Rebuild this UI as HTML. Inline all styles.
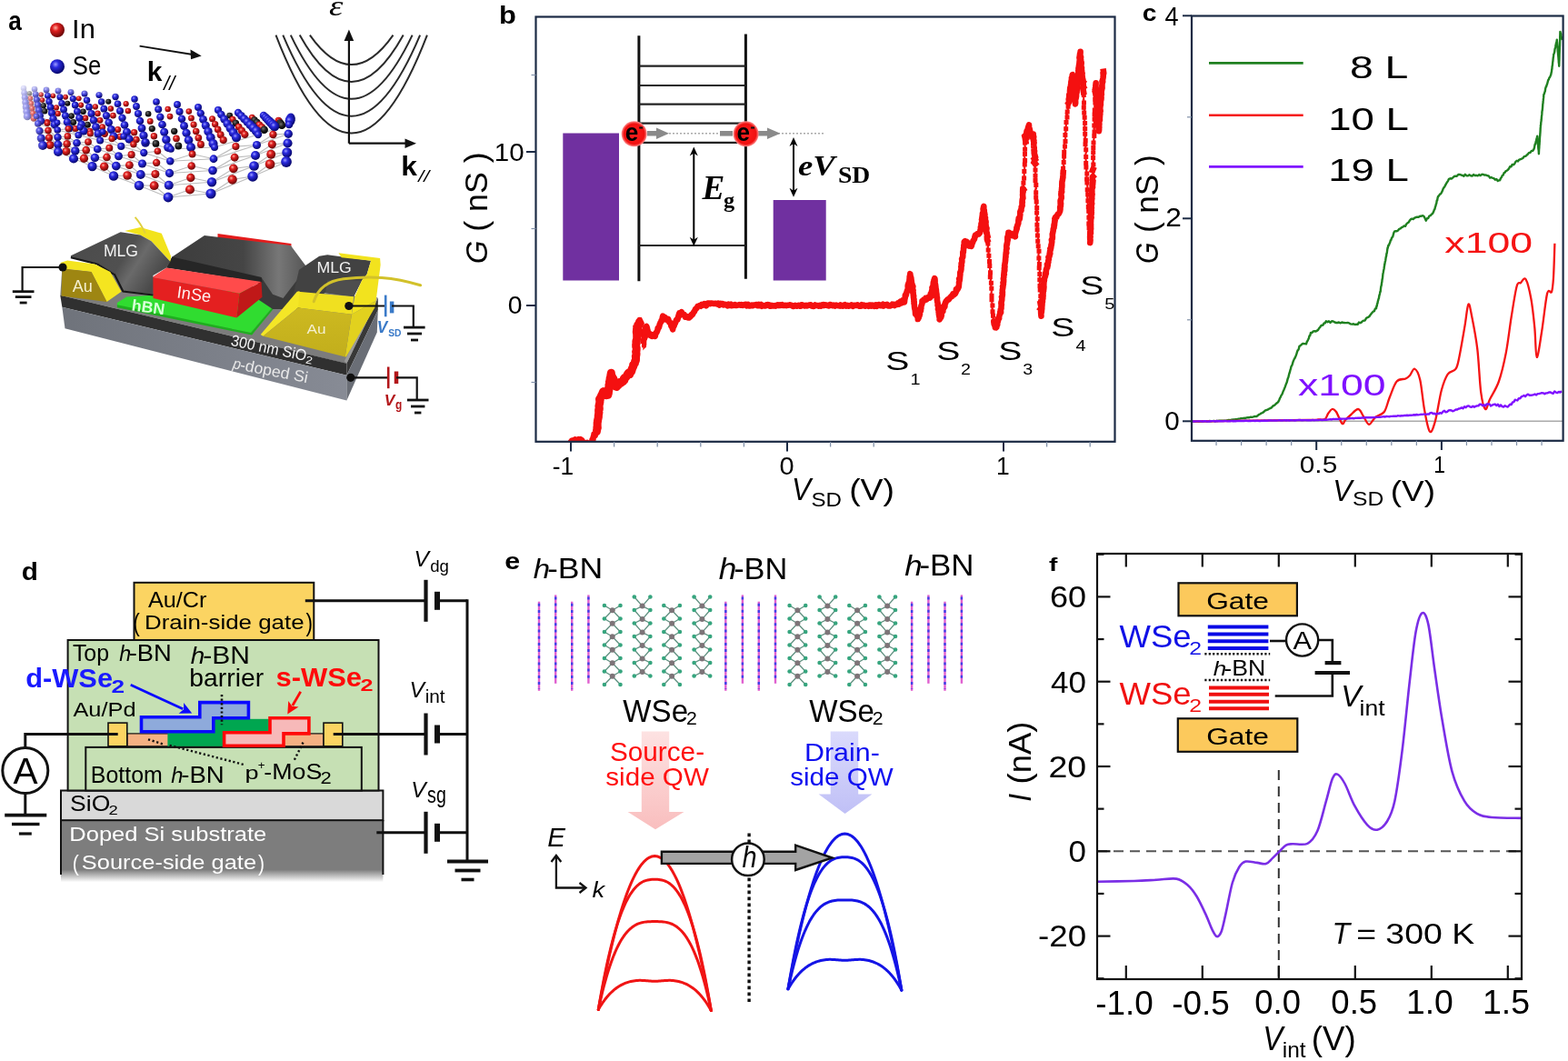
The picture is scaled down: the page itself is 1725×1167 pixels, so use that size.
<!DOCTYPE html>
<html><head><meta charset="utf-8"><title>Figure</title>
<style>html,body{margin:0;padding:0;background:#fff;}body{width:1725px;height:1167px;overflow:hidden;}svg{display:block;}</style>
</head><body>
<svg width="1725" height="1167" viewBox="0 0 1725 1167">
<rect width="1725" height="1167" fill="#fff"/>
<defs>
<radialGradient id="eg" cx="0.5" cy="0.5" r="0.5"><stop offset="0" stop-color="#ff2020"/><stop offset="0.8" stop-color="#f01010"/><stop offset="1" stop-color="#ff9090"/></radialGradient>
</defs>
<text transform="translate(548.99,25.70) scale(1.087,1)" font-family="'Liberation Sans',Arial,sans-serif" font-size="28.41" font-weight="bold" fill="#000" >b</text>
<clipPath id="cb"><rect x="590" y="19" width="636" height="466"/></clipPath>
<g clip-path="url(#cb)"><polyline points="625.79,490.13 626.70,489.21 627.70,486.50 628.01,487.71 629.01,484.80 630.40,484.41 631.52,484.43 632.61,483.45 633.86,485.60 635.02,485.22 636.39,483.19 637.71,484.77 638.59,483.09 640.29,484.42 641.43,486.26 642.67,487.01 643.67,487.28 644.96,488.31 646.05,487.04 646.21,488.65 647.62,490.56 648.10,491.40 648.61,490.46 649.08,489.86 649.87,489.61 650.55,488.49 651.29,487.47 651.54,483.79 652.09,484.99 652.52,482.61 652.77,480.33 653.27,480.22 653.53,477.49 654.68,479.07 654.77,477.30 655.73,474.15 656.34,474.81 656.93,471.37 656.86,470.10 657.07,469.69 657.34,470.38 657.17,469.16 657.15,465.13 657.51,463.73 657.32,463.59 657.79,461.57 657.47,462.44 657.82,461.44 658.42,458.43 658.20,457.59 658.48,456.55 658.55,455.36 658.97,453.79 658.68,453.20 658.64,450.71 659.34,450.14 659.12,447.38 659.12,447.86 658.92,446.73 659.53,443.83 659.64,443.82 659.80,442.25 659.93,442.18 659.50,438.91 660.14,440.39 660.38,437.70 661.24,436.13 661.64,434.94 662.23,434.62 662.76,432.80 663.72,430.58 664.60,433.43 665.43,432.61 666.86,433.38 667.41,434.69 668.86,434.41 668.72,433.87 669.30,432.96 669.48,430.92 669.23,431.13 669.83,429.30 669.47,427.08 669.88,426.06 670.27,426.78 669.93,423.87 670.60,423.73 670.76,421.61 670.38,420.22 671.08,418.92 670.89,418.13 671.11,416.88 671.68,414.89 671.11,416.02 671.97,414.92 671.78,413.58 672.34,410.17 672.65,413.18 673.03,413.39 673.18,414.02 673.58,414.37 674.32,416.19 674.95,416.64 675.47,419.75 675.94,421.52 676.37,421.73 676.11,423.40 676.69,423.23 677.53,425.07 678.29,425.54 679.40,422.97 680.07,423.75 681.20,422.74 682.06,420.20 683.16,421.28 683.83,420.43 685.38,419.70 686.26,416.52 686.90,418.18 687.24,415.50 688.21,415.35 689.14,414.28 690.22,411.96 690.44,411.43 691.30,410.34 692.78,411.79 692.87,409.82 693.85,408.35 694.68,408.44 695.30,406.46 695.41,405.23 695.78,404.78 696.68,403.13 696.60,401.40 697.26,401.55 698.02,399.75 698.46,399.35 698.59,397.47 699.07,397.34 699.44,396.18 699.51,393.63 699.62,393.77 699.29,391.76 699.62,391.91 700.07,389.19 700.08,389.24 699.62,387.05 699.55,386.89 700.02,385.91 700.17,384.04 700.17,382.52 699.71,381.39 699.67,378.85 700.33,377.35 699.83,376.30 700.50,375.34 699.86,376.12 699.98,374.92 700.47,373.69 700.74,371.71 700.66,368.88 700.68,369.10 700.68,366.68 700.75,367.95 700.24,364.92 700.69,365.22 700.47,362.07 700.52,362.17 700.97,360.30 700.71,359.10 700.74,357.96 700.57,357.00 701.93,355.49 702.40,353.48 703.00,354.02 703.64,352.05 703.71,353.61 704.27,353.31" fill="none" stroke="#f41010" stroke-width="6.6" stroke-linejoin="round" stroke-linecap="square"/><polyline points="704.27,353.31 703.86,356.29" fill="none" stroke="#f41010" stroke-width="2.2" /><path d="M701.8,350.8h5v5h-5z" fill="#f41010"/><polyline points="703.86,356.29 704.74,356.78" fill="none" stroke="#f41010" stroke-width="6.6" stroke-linejoin="round" stroke-linecap="square"/><polyline points="704.74,356.78 704.59,358.57 704.61,358.39 704.85,360.53 705.17,360.65 705.70,364.00 705.61,364.43 705.93,366.06 706.26,365.49 706.16,365.96 706.56,368.23 706.51,369.35 706.82,371.79 706.87,373.63 707.33,373.65 707.52,375.55 707.99,375.91 707.91,377.59 708.41,377.82 708.50,380.70 708.48,379.70 708.49,382.35 708.93,381.82 709.17,378.40 708.74,377.19 708.83,377.27 709.46,376.59 709.07,375.23 709.21,372.64 709.64,370.37" fill="none" stroke="#f41010" stroke-width="2.2" /><path d="M702.2,354.3h5v5h-5zM703.2,361.5h5v5h-5zM704.1,365.7h5v5h-5zM705.0,373.0h5v5h-5zM706.0,377.2h5v5h-5zM706.3,374.8h5v5h-5z" fill="#f41010"/><polyline points="709.64,370.37 709.22,371.35" fill="none" stroke="#f41010" stroke-width="6.6" stroke-linejoin="round" stroke-linecap="square"/><polyline points="709.22,371.35 709.48,368.66 709.80,368.35" fill="none" stroke="#f41010" stroke-width="2.2" /><path d="M706.7,368.9h5v5h-5z" fill="#f41010"/><polyline points="709.80,368.35 709.44,366.07" fill="none" stroke="#f41010" stroke-width="6.6" stroke-linejoin="round" stroke-linecap="square"/><polyline points="709.44,366.07 709.88,365.26" fill="none" stroke="#f41010" stroke-width="2.2" /><path d="M706.9,363.6h5v5h-5z" fill="#f41010"/><polyline points="709.88,365.26 709.79,364.30 710.48,362.46 710.25,360.38 710.13,360.76 710.09,360.16 711.30,358.97 711.91,360.98 712.35,363.31 712.55,364.24 713.41,365.81 713.68,366.83 714.81,367.76 715.05,367.26 715.60,369.16 717.10,369.91 718.30,368.20 719.69,369.32 720.64,369.87 721.51,366.46 722.21,365.40 722.22,366.03 722.91,364.42 723.43,363.02 723.65,361.06 723.94,361.57 724.97,359.94 725.44,358.28 725.55,357.24 726.51,355.10 726.70,354.61 727.40,353.82 727.53,352.85 728.18,352.85 728.52,351.96 728.81,349.12 729.28,347.54 730.90,350.04 731.51,349.09 732.77,351.41 734.17,352.09 735.07,350.94 735.54,352.19 736.27,354.43 736.64,354.59 737.73,355.04 738.37,358.74 739.11,358.32 739.42,360.04 740.11,362.33 740.69,359.21 741.38,358.68 741.71,358.32 741.78,357.36 742.85,355.44 743.28,354.26 743.56,353.38 743.98,352.20 745.01,350.95 745.49,351.40 746.29,347.84 746.76,348.22 746.71,346.34 747.40,344.41 748.19,345.88 748.56,344.61 749.82,343.17 750.92,345.34 751.94,346.45 752.76,346.10 753.78,348.63 754.79,347.91 755.67,348.82 756.12,348.26 757.06,349.50 757.93,349.44 759.16,348.60 759.74,347.99 760.44,346.48 761.61,345.34 761.94,345.88 763.18,343.32 763.70,342.86 764.68,340.99 765.00,339.99 766.43,338.84 766.97,338.04 767.57,337.01 768.89,336.58 769.76,335.97 771.05,336.69 772.13,334.85 773.62,335.58 774.99,334.08 775.92,334.69 776.94,336.25 778.40,333.50 779.92,333.57 781.36,334.15 782.27,333.48 784.07,333.74 785.43,333.94 786.78,333.77 787.47,333.83 789.15,334.61 790.01,333.77 791.51,335.47 792.67,333.86 793.46,334.14 794.80,334.17 795.94,335.40 797.85,334.71 799.15,335.33 800.24,336.25 801.55,334.67 802.24,335.72 803.96,334.79 804.63,336.18 805.69,335.36 807.07,335.90 808.74,335.00 809.79,336.02 811.07,335.70 812.34,335.37 813.13,335.14 814.62,335.61 815.42,335.06 816.98,335.86 818.17,335.48 819.19,335.07 820.57,334.85 821.57,336.18 822.94,335.00 823.79,336.36 825.31,336.43 826.70,335.67 827.92,336.20 828.67,335.55 829.66,335.62 831.58,335.10 832.48,335.11 833.30,336.09 834.64,335.01 835.78,336.09 837.34,334.96 838.27,336.68 839.47,335.96 840.84,336.36 842.20,336.38 843.36,335.31 844.29,335.12 846.02,335.18 846.59,336.72 847.94,336.60 849.06,335.83 850.38,336.50 851.91,336.16 853.24,336.58 854.12,336.11 855.41,335.23 856.93,336.10 858.13,335.41 859.12,335.88 860.49,335.19 861.39,335.93 862.38,336.06 864.13,335.83 865.27,336.17 866.13,335.71 867.97,335.69 868.73,335.25 869.77,335.40 871.56,336.41 872.74,336.88 873.75,336.78 874.91,335.85 876.46,336.73 877.68,335.97 878.76,335.83 880.15,336.76 880.81,336.78 881.94,335.27 883.59,335.63 884.65,336.25 885.49,336.44 886.89,335.88 888.17,336.44 889.71,335.62 890.41,335.64 891.88,335.24 892.89,336.47 894.55,336.86 895.99,336.68 896.73,335.39 897.90,335.93 899.29,336.08 900.38,336.63 901.54,335.93 903.24,336.55 903.98,335.54 905.61,335.12 906.29,336.06 907.83,335.40 908.66,335.47 910.46,335.94 911.85,336.51 913.07,335.16 913.65,335.12 915.07,335.71 915.98,336.08 917.24,335.66 918.58,336.54 919.93,335.57 920.85,335.87 922.53,336.32 923.97,336.56 924.65,335.34 926.27,336.52 927.28,336.60 928.53,335.60 929.43,335.13 931.02,336.71 932.45,335.94 933.47,336.77 934.80,336.18 935.69,336.03 936.71,335.43 938.33,336.89 939.43,335.83 940.49,335.92 942.06,335.91 943.40,335.38 944.09,336.04 945.38,336.63 946.93,336.78 947.97,335.16 949.15,336.09 950.29,335.60 951.68,336.74 952.41,336.30 953.84,336.03 955.47,336.83 956.48,335.45 957.91,335.43 958.69,336.59 959.85,335.59 961.58,336.77 962.30,335.75 963.50,335.25 964.70,336.75 965.78,335.37 967.10,335.07 968.59,336.24 970.06,336.01 971.27,334.85 972.06,336.54 973.12,335.27 974.67,335.24 975.95,334.81 976.92,336.42 978.07,336.30 979.32,336.43 980.94,335.78 981.74,334.68 983.46,334.87 984.23,336.01 986.00,334.59 987.18,334.89 987.83,333.54 988.95,334.55 989.97,331.99 990.98,331.41 992.26,333.19 993.15,330.45 994.95,332.29 995.34,328.87 995.19,329.83 995.65,327.92 995.87,324.71 996.25,325.73 996.95,324.02 997.05,322.77 997.39,321.59 998.06,319.43 998.22,320.46 998.78,317.04 999.09,317.77 998.68,314.79 998.93,312.90 999.78,312.71 999.91,310.57 999.45,311.59 1000.30,310.70 1000.43,308.04 1000.72,305.49 1000.76,305.29 1000.67,304.51 1001.04,302.97 1001.30,301.15 1001.52,303.21 1002.26,305.43 1002.40,306.33 1002.17,307.97 1002.40,306.61 1002.82,309.65 1002.93,310.60 1003.12,312.77 1003.49,312.52 1003.79,314.92 1004.39,315.09 1004.07,316.56 1003.88,317.19 1004.62,319.46 1004.10,320.90 1004.47,322.49 1004.57,321.40 1004.83,324.61 1004.85,325.77 1005.19,325.46 1004.97,327.10 1005.16,327.91 1005.48,330.63 1005.54,329.65 1005.36,331.53 1005.79,332.05 1005.47,333.80 1005.75,334.14 1006.07,338.02 1006.18,338.68 1006.52,340.19 1006.70,340.21 1006.63,340.45 1006.90,342.43 1007.07,345.20 1007.40,344.33 1008.32,346.78 1008.21,346.30 1008.91,347.47 1009.78,349.22 1009.82,351.07 1010.31,349.99 1010.70,349.46 1010.85,346.56 1011.58,347.13 1011.17,345.17 1012.00,345.60 1011.75,341.45 1012.38,341.47 1013.02,341.47 1012.87,339.04 1013.37,339.22 1013.36,336.53 1013.57,336.07 1013.82,335.74 1014.52,333.45 1014.47,331.21 1015.08,331.87 1016.21,329.52 1017.64,330.01 1018.35,327.99 1019.24,329.45 1020.18,327.71 1021.65,326.54 1022.84,327.57 1023.99,326.41 1023.74,323.20 1024.21,322.77 1024.30,323.27 1024.60,321.94 1025.46,318.65 1025.72,318.30 1025.44,316.49 1025.58,316.25 1026.14,316.12 1026.78,312.56 1026.71,312.37 1026.82,310.78 1027.17,310.93 1027.51,308.00 1027.70,307.81 1028.25,306.04 1028.51,307.17 1028.63,309.57 1028.38,311.22 1028.70,311.80 1029.02,313.29 1029.04,312.79 1029.46,316.43 1029.37,316.81 1029.34,318.99 1029.82,318.18 1030.08,321.69 1029.85,322.94 1030.10,321.71 1030.44,323.41 1030.60,325.37 1030.24,326.42 1030.99,327.49 1030.88,329.87 1030.96,329.98 1031.23,332.16 1031.10,331.16 1031.71,333.72 1031.51,335.93 1032.14,336.07 1032.39,338.14 1032.37,337.70 1031.94,340.05 1032.69,340.25 1032.65,342.09 1032.63,343.67 1033.05,343.92 1032.85,345.62 1033.19,347.32 1033.24,347.52 1033.42,348.75 1033.89,349.03 1033.64,351.35 1034.14,350.27 1034.49,347.91 1035.16,349.24 1035.81,346.87 1035.81,344.38 1036.09,343.98 1037.00,342.24 1037.38,342.17 1037.35,340.39 1038.15,339.01 1038.21,338.84 1038.29,336.84 1039.30,337.39 1039.48,336.59 1039.35,334.84 1040.24,332.26 1040.39,333.37 1040.66,331.59 1041.49,330.55 1042.53,329.32 1043.56,329.64 1044.82,327.79 1045.73,326.81 1046.78,325.54 1047.52,325.77 1048.35,323.40 1049.14,324.42 1049.82,323.70 1050.70,323.21 1051.63,321.46 1051.90,318.33 1052.70,319.36 1053.64,316.66 1053.68,317.92 1054.79,315.35 1054.95,313.14 1054.96,313.49 1055.17,310.75 1054.96,310.94 1055.72,308.27 1055.18,306.89 1055.96,306.61 1055.86,307.21 1056.15,303.80 1056.38,301.81 1056.21,302.69 1056.28,299.48 1056.72,299.16 1057.24,297.27 1057.27,296.92 1057.43,295.88 1057.49,294.32 1057.29,293.49 1057.92,291.95 1057.62,290.96 1057.68,289.45 1058.22,288.90 1058.40,286.89 1058.11,284.87 1058.52,284.14 1058.86,283.11 1059.18,282.88 1059.26,282.04 1059.31,279.87 1059.30,277.55 1059.85,277.62 1059.46,277.66 1060.01,275.51 1060.06,272.78 1060.67,271.67 1060.32,272.93 1060.29,270.19 1060.74,268.20 1061.25,267.46 1060.69,266.40 1060.84,265.86 1061.70,265.22 1061.90,265.38 1062.97,265.62 1063.83,265.97 1064.56,267.78 1065.38,269.64 1066.21,270.49 1067.19,268.70 1068.50,270.89 1069.03,269.63 1069.42,267.15 1069.97,267.24 1070.71,264.52 1070.50,265.33 1071.70,263.37 1072.04,262.58 1072.29,261.10 1072.97,258.59 1073.24,259.51 1074.25,258.04 1075.29,257.01 1076.64,257.49 1077.93,256.01 1078.36,254.91 1078.39,253.43 1078.96,253.35 1078.84,250.87 1078.87,249.67 1079.34,248.71 1079.79,248.45 1079.51,246.85 1079.41,246.57 1080.13,244.27 1080.26,242.80 1080.00,241.48 1080.13,241.42 1080.64,240.60 1080.35,239.52 1080.80,237.17 1080.97,236.14 1080.87,234.83 1081.38,234.60 1081.74,231.85 1081.87,232.47 1081.87,231.82 1081.56,230.02 1082.32,226.87 1082.24,230.56 1082.16,231.51 1082.81,231.48 1082.36,232.04 1083.07,233.89 1082.82,235.17 1083.48,235.83 1082.91,239.14 1083.31,238.67 1084.00,239.58 1083.45,242.63 1083.74,241.85 1084.45,243.10 1084.59,244.63 1084.27,245.50 1084.62,247.76 1084.67,248.83 1084.75,251.04 1085.42,252.01 1085.49,251.19 1085.20,252.81 1085.23,256.32 1085.94,257.37 1085.78,256.20 1085.78,257.23 1086.27,259.08" fill="none" stroke="#f41010" stroke-width="6.6" stroke-linejoin="round" stroke-linecap="square"/><polyline points="1086.27,259.08 1085.89,262.33" fill="none" stroke="#f41010" stroke-width="2.2" /><path d="M1083.8,256.6h5v5h-5z" fill="#f41010"/><polyline points="1085.89,262.33 1085.93,263.48 1086.13,263.92" fill="none" stroke="#f41010" stroke-width="6.6" stroke-linejoin="round" stroke-linecap="square"/><polyline points="1086.13,263.92 1086.07,265.84 1086.42,265.40 1086.73,267.36 1086.52,267.17 1086.89,268.08 1087.23,270.26 1086.78,271.43 1086.85,272.61 1087.30,274.09 1087.24,274.96 1087.47,277.64 1087.54,278.83 1087.69,278.10 1087.55,281.50 1087.91,281.32 1088.04,283.93 1088.04,283.69 1088.14,283.85 1088.40,286.47 1088.47,287.61 1088.56,289.61 1088.44,291.63 1088.49,292.50 1088.61,293.50 1088.75,292.56 1089.05,296.06 1089.37,297.39 1089.55,296.13 1089.14,297.51 1089.51,299.76 1089.58,302.00 1089.86,302.86 1089.83,303.69 1089.27,305.93 1089.35,304.73 1090.01,306.53 1089.95,306.99 1089.66,310.27 1089.60,310.87 1090.39,311.19 1090.28,313.99 1090.28,315.28 1090.42,314.23 1090.08,317.02 1090.78,317.27 1090.55,318.22 1090.83,320.39 1090.64,322.27 1090.41,323.67 1091.01,325.27 1090.67,324.61 1090.65,327.82 1090.94,327.51 1091.08,329.65 1090.99,329.78 1091.42,332.31 1091.12,331.42 1091.69,334.60 1091.50,334.84 1091.86,336.13 1091.34,336.36 1091.52,339.07 1091.61,341.32 1091.91,341.07 1091.99,342.72 1092.03,343.61 1092.03,344.82 1092.35,345.13 1092.38,346.67 1092.51,347.20 1092.29,349.53 1092.81,350.01 1092.79,351.00 1093.37,353.53" fill="none" stroke="#f41010" stroke-width="2.2" /><path d="M1083.6,261.4h5v5h-5zM1084.4,265.6h5v5h-5zM1084.7,272.5h5v5h-5zM1085.4,278.8h5v5h-5zM1086.0,285.1h5v5h-5zM1086.3,290.1h5v5h-5zM1087.0,297.3h5v5h-5zM1086.8,302.2h5v5h-5zM1087.9,308.7h5v5h-5zM1088.3,314.8h5v5h-5zM1088.5,322.8h5v5h-5zM1088.5,327.3h5v5h-5zM1089.4,333.6h5v5h-5zM1089.5,340.2h5v5h-5zM1090.0,344.7h5v5h-5z" fill="#f41010"/><polyline points="1093.37,353.53 1093.26,353.53 1093.76,357.07 1094.30,357.10 1094.51,358.58 1095.27,359.81 1094.96,360.32 1095.69,360.33 1096.25,359.98 1096.17,359.71 1096.72,358.15 1097.26,357.03 1097.17,354.49 1097.65,354.20 1097.96,352.97 1097.86,350.86 1098.30,349.85 1099.17,350.13 1099.00,349.34 1099.63,346.21 1100.04,345.53 1100.56,344.09 1100.31,343.23 1101.09,343.76 1100.97,340.53 1100.96,340.98 1100.77,340.42 1101.51,339.24 1101.50,337.08 1101.83,334.81 1101.40,333.17 1101.41,333.98 1101.45,332.60 1101.80,331.79 1102.20,330.00 1102.38,326.85 1102.02,326.62 1102.26,326.31 1102.73,325.30 1102.88,323.95 1102.53,322.18 1102.95,321.88 1102.75,319.29 1103.06,317.69 1103.38,315.79 1103.30,316.04 1103.05,315.08 1103.38,315.04 1103.82,312.70 1103.91,312.37 1103.46,310.99 1104.10,310.26 1104.15,307.25 1103.82,306.82 1103.93,305.92 1104.33,304.91 1104.26,302.13 1104.81,301.99 1104.49,300.47 1104.65,299.50 1104.82,297.22 1105.30,297.80 1105.23,294.77 1104.89,294.91 1105.50,293.46 1105.12,292.45 1105.48,290.19 1105.64,289.20 1105.79,288.90 1106.17,285.76 1105.95,287.05 1106.13,284.74 1106.42,281.88 1106.52,282.44 1106.49,280.29 1106.66,278.53 1106.73,277.71 1107.20,278.14 1106.97,276.78 1107.04,274.87 1107.00,274.66 1107.63,273.16 1107.22,272.12 1107.31,270.15 1107.83,267.42 1107.92,268.69 1108.22,265.76 1108.52,264.67 1108.73,263.59 1108.21,264.09 1108.35,260.72 1109.05,259.10 1109.01,260.11 1109.19,257.37 1109.46,257.59 1109.46,255.78 1110.24,255.85 1111.76,258.27 1111.96,256.67 1113.12,259.19 1114.09,258.05 1115.53,258.78 1116.68,260.37 1116.92,260.25 1116.67,258.95 1117.13,256.05 1117.14,256.29 1117.85,253.88 1118.37,252.36 1118.36,250.82 1118.58,252.01 1119.00,248.61 1119.09,248.87 1119.42,248.40 1119.55,247.14 1120.30,245.79 1120.38,242.33 1120.54,242.79 1120.72,240.04 1121.63,241.13 1121.93,239.78 1121.93,238.67 1122.29,236.49 1122.31,233.66 1122.29,233.11 1122.83,231.49 1123.48,231.63 1123.54,231.35 1123.37,230.10 1124.20,227.02 1123.77,227.39 1124.63,226.15 1124.48,224.34 1124.49,222.00 1124.81,222.30 1124.62,221.62 1124.64,220.51 1124.88,218.83 1125.41,218.00 1125.21,216.00 1125.14,215.17 1125.06,214.10 1125.52,210.40" fill="none" stroke="#f41010" stroke-width="6.6" stroke-linejoin="round" stroke-linecap="square"/><polyline points="1125.52,210.40 1125.87,209.93 1125.25,208.53" fill="none" stroke="#f41010" stroke-width="2.2" /><path d="M1123.0,207.9h5v5h-5z" fill="#f41010"/><polyline points="1125.25,208.53 1125.29,207.36 1125.90,208.25" fill="none" stroke="#f41010" stroke-width="6.6" stroke-linejoin="round" stroke-linecap="square"/><polyline points="1125.90,208.25 1125.91,206.61 1126.14,204.96 1125.86,202.34 1125.75,202.00 1125.86,201.34 1126.02,199.63 1126.28,198.54 1126.04,196.20 1126.53,194.84 1126.59,195.86 1126.44,194.62 1126.69,193.33 1126.67,191.55 1126.84,188.67 1126.75,188.63 1126.75,187.66 1127.16,186.86 1127.13,183.70 1127.08,183.94 1127.32,180.86 1126.75,182.58 1126.96,180.56 1127.18,178.43 1127.10,177.72 1127.59,176.43 1127.48,174.53 1127.46,174.23 1127.53,173.85 1127.04,172.91 1127.52,169.58 1127.44,167.89 1127.30,168.91 1127.73,167.79 1127.34,164.31 1127.56,164.26 1127.87,162.47 1127.94,162.12 1127.63,161.52 1127.50,159.73 1127.64,156.88 1127.92,157.10 1128.07,155.46 1128.37,155.48" fill="none" stroke="#f41010" stroke-width="2.2" /><path d="M1123.4,205.7h5v5h-5zM1123.4,198.8h5v5h-5zM1124.1,193.4h5v5h-5zM1124.3,186.1h5v5h-5zM1124.8,178.4h5v5h-5zM1125.1,173.9h5v5h-5zM1125.0,167.1h5v5h-5zM1125.1,161.8h5v5h-5zM1125.1,154.4h5v5h-5z" fill="#f41010"/><polyline points="1128.37,155.48 1127.79,151.94" fill="none" stroke="#f41010" stroke-width="6.6" stroke-linejoin="round" stroke-linecap="square"/><polyline points="1127.79,151.94 1128.48,151.95" fill="none" stroke="#f41010" stroke-width="2.2" /><path d="M1125.3,149.4h5v5h-5z" fill="#f41010"/><polyline points="1128.48,151.95 1127.85,150.05" fill="none" stroke="#f41010" stroke-width="6.6" stroke-linejoin="round" stroke-linecap="square"/><polyline points="1127.85,150.05 1128.37,148.84" fill="none" stroke="#f41010" stroke-width="2.2" /><path d="M1125.3,147.5h5v5h-5z" fill="#f41010"/><polyline points="1128.37,148.84 1128.15,149.14" fill="none" stroke="#f41010" stroke-width="6.6" stroke-linejoin="round" stroke-linecap="square"/><polyline points="1128.15,149.14 1128.18,147.86 1129.14,147.05" fill="none" stroke="#f41010" stroke-width="2.2" /><path d="M1125.7,146.6h5v5h-5z" fill="#f41010"/><polyline points="1129.14,147.05 1129.37,145.32 1129.60,144.14 1130.36,142.75 1130.72,142.01 1130.98,140.67 1132.08,137.41 1131.76,141.50 1131.88,142.24 1132.53,141.24 1132.83,142.30 1133.26,144.43 1133.57,147.46 1133.20,147.22 1133.47,149.53 1133.68,148.72 1134.63,150.21 1135.66,147.74 1136.76,147.56 1136.80,149.98 1136.81,149.80 1137.29,150.34 1136.81,153.35 1136.99,154.76 1137.47,154.43 1137.14,154.86 1137.64,157.12 1137.29,157.55 1137.26,160.88 1137.25,161.16 1137.72,162.29 1137.69,163.16 1137.51,165.67 1138.14,166.13 1137.69,168.41 1137.72,167.42 1138.12,170.64 1138.15,169.71 1138.54,171.09" fill="none" stroke="#f41010" stroke-width="6.6" stroke-linejoin="round" stroke-linecap="square"/><polyline points="1138.54,171.09 1138.10,174.82" fill="none" stroke="#f41010" stroke-width="2.2" /><path d="M1136.0,168.6h5v5h-5z" fill="#f41010"/><polyline points="1138.10,174.82 1138.53,175.36" fill="none" stroke="#f41010" stroke-width="6.6" stroke-linejoin="round" stroke-linecap="square"/><polyline points="1138.53,175.36 1138.02,176.88" fill="none" stroke="#f41010" stroke-width="2.2" /><path d="M1136.0,172.9h5v5h-5z" fill="#f41010"/><polyline points="1138.02,176.88 1138.35,175.60" fill="none" stroke="#f41010" stroke-width="6.6" stroke-linejoin="round" stroke-linecap="square"/><polyline points="1138.35,175.60 1138.73,179.59 1138.18,179.36" fill="none" stroke="#f41010" stroke-width="2.2" /><path d="M1135.9,173.1h5v5h-5z" fill="#f41010"/><polyline points="1138.18,179.36 1138.91,180.20" fill="none" stroke="#f41010" stroke-width="6.6" stroke-linejoin="round" stroke-linecap="square"/><polyline points="1138.91,180.20 1138.48,182.74 1138.63,184.59 1139.01,185.38 1138.94,184.58 1138.96,186.94 1138.85,188.10 1138.75,188.19 1139.28,189.90 1138.68,192.93 1139.05,193.23 1138.96,192.85 1139.00,196.10 1138.99,197.54 1139.06,198.69 1139.01,198.53 1139.01,198.85 1139.37,200.70 1139.43,201.45 1139.29,202.97 1139.81,203.44 1139.47,206.96 1139.64,206.37 1140.02,207.13 1139.38,208.05 1139.67,211.78 1139.59,211.26 1140.04,211.83 1139.46,214.79 1139.57,215.58 1139.66,217.01 1140.27,217.76 1139.85,219.47 1140.24,218.97 1139.91,221.13 1140.17,222.02 1140.34,223.17 1140.58,224.66 1140.08,225.04 1140.06,226.66 1140.72,228.48 1140.42,231.33 1140.89,231.96 1140.37,231.86 1140.63,232.87 1140.56,233.95 1140.53,236.78 1140.88,237.08 1140.83,238.80 1141.05,238.25 1141.23,240.78 1140.89,243.49 1141.27,242.88 1140.74,244.35 1141.13,245.38 1140.91,247.20 1141.09,248.98 1141.36,248.78 1141.66,250.47 1141.12,251.18 1141.15,252.84 1141.89,255.59 1141.74,254.45 1141.46,255.81 1141.62,258.33 1141.40,259.10 1141.78,260.84 1142.15,261.26 1142.03,262.10 1141.96,264.41 1141.70,265.26 1142.11,265.48 1141.96,268.62 1142.10,267.94 1142.10,270.14 1142.25,270.85 1142.24,271.66 1142.44,274.03 1142.16,275.22 1142.39,277.60 1142.95,276.27 1142.82,278.13 1142.40,280.94 1143.09,281.89 1142.93,283.68 1142.92,283.99 1143.05,285.75 1143.27,285.30 1142.81,287.24 1143.17,287.88 1143.44,290.58 1143.36,290.86 1143.42,291.06 1143.56,292.07 1143.69,294.78 1143.25,294.69 1143.56,296.73 1143.69,296.85 1143.89,299.05 1143.60,301.20 1143.79,301.53 1143.58,302.80 1143.42,303.38 1144.10,304.18 1143.55,307.57 1143.83,307.82 1144.05,309.59 1143.88,310.95 1143.67,312.39 1143.96,312.92 1144.00,314.50 1144.11,315.27 1144.11,317.16 1144.52,316.47 1144.55,319.90 1144.18,318.85 1144.78,322.38 1144.18,323.02 1144.87,322.69 1144.80,323.99 1144.85,325.83 1144.64,325.89 1144.83,328.82 1144.59,328.06 1144.48,329.91 1145.25,332.57" fill="none" stroke="#f41010" stroke-width="2.2" /><path d="M1136.4,177.7h5v5h-5zM1136.5,184.4h5v5h-5zM1136.5,190.7h5v5h-5zM1136.5,196.0h5v5h-5zM1137.3,200.9h5v5h-5zM1137.2,209.3h5v5h-5zM1137.2,214.5h5v5h-5zM1137.7,219.5h5v5h-5zM1138.2,226.0h5v5h-5zM1138.1,231.5h5v5h-5zM1138.7,238.3h5v5h-5zM1138.4,244.7h5v5h-5zM1138.6,250.3h5v5h-5zM1138.9,256.6h5v5h-5zM1139.2,262.8h5v5h-5zM1139.7,268.3h5v5h-5zM1140.5,273.8h5v5h-5zM1140.4,281.5h5v5h-5zM1140.9,288.1h5v5h-5zM1140.7,292.2h5v5h-5zM1141.3,299.0h5v5h-5zM1141.3,305.3h5v5h-5zM1141.5,312.0h5v5h-5zM1141.7,316.4h5v5h-5zM1142.3,323.3h5v5h-5zM1142.7,330.1h5v5h-5z" fill="#f41010"/><polyline points="1145.25,332.57 1145.21,333.79 1144.65,333.90" fill="none" stroke="#f41010" stroke-width="6.6" stroke-linejoin="round" stroke-linecap="square"/><polyline points="1144.65,333.90 1145.35,336.51" fill="none" stroke="#f41010" stroke-width="2.2" /><path d="M1142.1,331.4h5v5h-5z" fill="#f41010"/><polyline points="1145.35,336.51 1145.43,337.62 1145.25,338.65 1145.46,338.86 1144.80,339.71" fill="none" stroke="#f41010" stroke-width="6.6" stroke-linejoin="round" stroke-linecap="square"/><polyline points="1144.80,339.71 1144.83,340.80 1145.33,342.01" fill="none" stroke="#f41010" stroke-width="2.2" /><path d="M1142.3,337.2h5v5h-5z" fill="#f41010"/><polyline points="1145.33,342.01 1145.11,342.67 1145.24,345.14 1145.47,347.63 1145.17,344.35 1145.28,345.15 1145.83,343.11 1146.09,339.93 1146.27,339.70 1146.16,338.70 1146.36,337.17 1146.10,335.79 1146.57,335.19 1146.22,333.67 1146.66,332.50 1146.79,332.70 1146.94,331.35 1146.78,330.34 1147.40,328.10 1146.77,325.55 1147.47,326.67 1147.55,324.38 1147.52,321.98 1147.67,323.41 1147.47,321.02 1148.09,319.92 1147.80,317.47 1148.22,318.32 1148.44,315.52 1148.45,315.53 1148.26,314.14 1148.38,311.26 1148.18,311.61 1148.89,308.35 1148.45,307.96 1148.80,308.02 1149.03,306.40 1149.55,304.51 1150.04,303.59 1150.00,303.10 1150.15,300.48 1150.83,301.00 1150.74,299.05 1151.04,297.27 1150.84,296.84 1151.74,294.32 1152.04,293.97 1152.29,293.98 1151.95,291.13 1152.68,292.25 1152.85,289.88 1152.88,289.30 1153.34,288.28 1153.15,287.07 1153.92,285.14 1153.40,282.80 1154.16,282.33 1154.61,281.80 1154.67,279.15 1154.77,279.65 1155.32,279.04 1155.04,276.66 1155.85,274.25 1155.36,273.34 1156.07,272.55 1156.23,272.83 1156.49,269.24 1156.58,270.29 1156.77,269.27 1157.05,267.29 1157.27,265.86 1156.84,263.86 1157.69,262.78 1157.50,263.17 1157.85,261.70 1157.86,259.62 1157.73,257.47 1157.98,257.26 1158.45,254.64 1158.72,253.50 1158.71,252.05 1158.96,251.18 1159.51,250.61 1159.61,249.63 1159.39,249.59 1159.53,247.40 1160.00,247.61 1160.23,243.55 1160.22,245.03 1160.72,242.06 1160.32,240.53 1161.01,239.04 1161.86,238.31 1162.44,238.61 1162.82,237.10 1163.87,235.36 1164.54,235.45 1165.62,233.44 1165.74,233.12 1166.18,231.85 1166.53,229.79 1166.31,229.39 1166.16,228.13 1166.46,226.68 1166.82,227.31 1167.08,223.79 1166.70,224.78 1166.57,220.99 1166.65,222.39 1167.10,219.60 1166.88,219.75 1167.69,217.95 1167.73,216.38 1167.35,214.01 1167.44,212.71 1167.59,211.19 1167.43,212.53 1168.18,211.08 1167.88,208.78 1168.13,208.58 1168.04,206.54 1168.34,206.32 1168.28,202.60 1168.42,204.03 1168.34,202.05 1168.41,199.78 1168.90,198.06 1168.86,198.30 1168.91,197.60 1169.38,194.96 1169.41,195.18 1169.38,193.48 1169.45,192.72 1169.63,190.09" fill="none" stroke="#f41010" stroke-width="6.6" stroke-linejoin="round" stroke-linecap="square"/><polyline points="1169.63,190.09 1169.67,190.19 1169.60,189.53 1169.55,187.27 1169.83,186.21 1169.60,185.18 1169.62,183.56 1169.97,182.83 1170.37,182.47 1169.94,181.03 1170.21,178.59 1169.94,178.44 1170.17,175.47 1170.30,174.12 1170.36,173.06 1170.64,172.06 1170.89,172.56 1171.11,169.67 1170.98,169.52 1171.09,167.30 1170.74,167.15 1171.19,164.71 1171.27,162.64 1171.44,163.92 1171.67,160.34 1171.52,161.13 1171.15,159.39 1171.27,156.99 1171.21,155.96 1171.95,155.66 1171.98,155.59 1171.54,154.00 1172.21,152.19 1171.84,149.55 1172.00,148.92 1171.93,148.60 1172.30,146.14 1172.01,145.64 1172.52,144.92 1172.53,144.39 1172.70,141.81 1172.77,141.25 1172.52,138.54 1172.63,138.97 1173.00,136.51 1172.97,134.59 1173.16,134.48 1173.43,134.49 1173.00,133.57 1173.24,132.33 1174.03,128.87 1173.61,127.41 1174.25,128.01 1174.43,126.93 1174.09,125.60 1174.22,123.04 1174.42,122.92 1174.47,121.26 1174.81,120.74 1174.88,118.38 1175.08,117.27 1175.37,114.98 1175.06,113.54 1175.39,114.74 1175.68,112.87" fill="none" stroke="#f41010" stroke-width="2.2" /><path d="M1167.1,187.6h5v5h-5zM1167.1,182.7h5v5h-5zM1167.7,176.1h5v5h-5zM1168.1,169.6h5v5h-5zM1168.2,164.7h5v5h-5zM1169.0,158.6h5v5h-5zM1169.5,153.1h5v5h-5zM1169.4,146.1h5v5h-5zM1170.2,139.3h5v5h-5zM1170.5,132.1h5v5h-5zM1171.5,126.4h5v5h-5zM1171.7,120.5h5v5h-5zM1172.6,114.8h5v5h-5z" fill="#f41010"/><polyline points="1175.68,112.87 1176.09,112.19 1175.71,109.16 1176.05,107.95 1176.24,106.27 1176.21,106.97 1176.27,104.05 1176.84,102.98 1177.13,103.04 1177.29,101.60 1177.14,99.57 1176.97,100.46 1177.27,96.64 1178.01,96.81 1177.89,96.76 1178.19,93.58 1178.00,93.57 1178.48,91.08 1178.31,90.73 1178.33,90.41 1178.98,87.25 1179.08,87.38 1178.86,85.69 1179.59,84.56 1179.71,82.70 1180.10,82.80 1179.88,82.07 1179.86,83.27 1180.06,85.03 1180.04,86.65 1180.10,87.81 1180.52,88.59 1180.70,92.27 1180.96,93.52 1180.61,93.87 1180.85,95.92 1181.19,96.52 1181.55,95.98 1181.15,99.25 1181.86,99.35 1181.36,99.35 1182.12,102.60 1181.91,103.78 1182.39,103.00 1182.48,107.14 1182.72,108.09 1182.51,108.49 1182.38,110.28 1182.96,110.35 1182.60,110.91 1183.02,114.36 1183.20,112.97 1183.09,109.91 1183.25,108.79 1183.82,107.81 1183.56,107.52 1183.79,106.89 1184.11,105.52 1184.01,102.98 1184.15,103.54 1184.67,101.05 1184.43,98.34 1184.84,98.73 1184.61,96.18 1184.78,96.58 1184.74,94.02 1185.05,93.49 1184.77,90.96 1185.19,91.68 1185.31,88.37 1185.32,87.69 1185.86,86.56 1186.16,85.52 1185.64,83.48 1186.01,83.75 1186.36,82.98 1186.29,79.91 1186.72,79.27 1186.29,77.82 1186.67,78.03 1186.55,75.60 1186.41,75.38 1187.07,72.73 1186.79,73.39 1187.27,70.31 1187.59,70.82 1187.47,68.40 1187.77,67.53 1187.61,67.91 1187.87,64.26 1187.40,63.13 1187.50,63.92 1187.93,61.46 1187.90,60.29 1188.05,59.74 1188.13,58.93 1188.58,57.70 1188.61,56.85 1188.45,60.08 1188.50,60.51 1188.49,62.50 1188.70,62.34 1189.19,62.75 1188.65,64.99 1189.11,65.29 1189.17,68.49 1189.67,70.18 1189.70,68.87 1189.47,71.22 1189.30,73.45 1189.61,74.68 1190.03,74.37 1189.87,76.15 1189.86,76.07 1190.15,77.95 1190.12,80.85 1190.62,80.96 1190.15,83.25 1190.45,82.49 1190.95,86.14 1190.65,86.29 1191.27,87.44 1190.94,87.58 1190.79,91.02 1191.52,90.12" fill="none" stroke="#f41010" stroke-width="6.6" stroke-linejoin="round" stroke-linecap="square"/><polyline points="1191.52,90.12 1191.50,91.38" fill="none" stroke="#f41010" stroke-width="2.2" /><path d="M1189.0,87.6h5v5h-5z" fill="#f41010"/><polyline points="1191.50,91.38 1191.69,93.17" fill="none" stroke="#f41010" stroke-width="6.6" stroke-linejoin="round" stroke-linecap="square"/><polyline points="1191.69,93.17 1191.75,94.87 1191.37,96.21" fill="none" stroke="#f41010" stroke-width="2.2" /><path d="M1189.2,90.7h5v5h-5z" fill="#f41010"/><polyline points="1191.37,96.21 1191.87,95.85" fill="none" stroke="#f41010" stroke-width="6.6" stroke-linejoin="round" stroke-linecap="square"/><polyline points="1191.87,95.85 1191.42,97.73" fill="none" stroke="#f41010" stroke-width="2.2" /><path d="M1189.4,93.3h5v5h-5z" fill="#f41010"/><polyline points="1191.42,97.73 1192.02,101.06" fill="none" stroke="#f41010" stroke-width="6.6" stroke-linejoin="round" stroke-linecap="square"/><polyline points="1192.02,101.06 1191.85,101.92 1192.10,101.37 1191.94,104.29 1192.02,104.49 1192.25,104.62 1192.09,106.95 1192.22,108.68 1192.03,109.23 1192.23,109.33 1192.54,113.11 1192.41,112.67 1192.30,114.01 1192.35,114.67 1192.86,116.17 1192.32,118.25 1192.20,118.55 1192.69,121.15 1192.53,120.06 1193.11,121.15 1192.72,123.86 1193.22,124.60 1192.67,125.60 1192.82,126.39 1193.29,128.70 1193.21,129.20 1193.20,132.32 1192.90,133.66 1192.99,134.16 1193.56,134.61 1193.60,135.61 1193.25,138.41 1193.43,137.00 1193.11,139.66 1193.31,139.44 1193.74,141.45 1193.86,142.78 1193.33,144.16 1193.89,146.82 1193.73,146.07 1193.75,147.31 1193.66,147.75 1193.43,151.74 1194.08,150.88 1194.00,151.48 1194.22,154.41 1194.18,155.07 1194.00,157.44 1193.95,156.43 1193.84,160.16 1194.02,158.80 1194.30,160.21 1194.24,163.34 1194.14,163.49 1194.75,166.04 1194.74,164.75 1194.88,167.53 1194.27,170.01 1194.30,171.21 1194.27,169.70 1194.68,172.49 1194.82,174.32 1194.49,175.25 1194.71,177.15 1195.00,177.56 1194.66,179.44 1194.83,178.53 1194.99,181.45 1194.96,181.72 1195.23,182.26 1194.89,183.94 1195.42,185.96 1195.07,187.11 1195.62,188.45 1195.15,187.67 1195.84,190.88 1195.32,192.18 1195.61,193.05 1195.49,194.37 1195.56,194.73 1195.56,196.99 1196.04,196.86 1195.46,197.95 1196.05,199.46 1195.51,202.13 1195.90,201.01 1196.20,203.53 1196.33,205.72 1196.36,207.07 1196.06,208.05 1196.20,208.79 1196.02,209.91 1195.96,211.83 1196.09,212.16 1196.67,214.14 1196.73,214.14 1196.16,217.02 1196.39,217.87 1196.53,217.80 1196.68,219.32 1196.92,220.65 1196.48,221.69 1196.48,223.86 1196.61,223.62 1197.01,224.78 1197.32,227.36 1196.94,227.49 1197.33,228.96 1197.32,229.66 1197.34,231.66 1197.67,232.16 1197.66,232.97 1197.32,234.25 1197.90,235.07 1197.45,237.41 1197.86,239.22 1197.46,239.63 1198.00,240.11 1197.59,243.38 1197.57,242.38 1197.78,245.87 1197.98,245.88 1198.20,248.49 1197.87,247.62 1198.23,250.19 1198.08,250.80 1198.50,250.91 1198.38,252.13 1198.91,253.20 1198.38,256.23 1198.50,257.34 1198.66,259.82 1198.91,259.13 1198.67,260.74 1199.21,262.67" fill="none" stroke="#f41010" stroke-width="2.2" /><path d="M1189.5,98.6h5v5h-5zM1189.8,102.1h5v5h-5zM1190.0,110.6h5v5h-5zM1189.8,115.8h5v5h-5zM1190.2,121.4h5v5h-5zM1190.7,126.7h5v5h-5zM1191.1,133.1h5v5h-5zM1191.2,139.0h5v5h-5zM1191.2,144.8h5v5h-5zM1191.7,151.9h5v5h-5zM1191.5,156.3h5v5h-5zM1192.2,162.2h5v5h-5zM1192.2,170.0h5v5h-5zM1192.2,176.9h5v5h-5zM1192.4,181.4h5v5h-5zM1193.3,188.4h5v5h-5zM1193.1,194.5h5v5h-5zM1193.4,198.5h5v5h-5zM1193.7,206.3h5v5h-5zM1194.2,211.6h5v5h-5zM1194.4,218.2h5v5h-5zM1194.8,224.9h5v5h-5zM1195.2,229.7h5v5h-5zM1195.4,236.7h5v5h-5zM1195.3,243.4h5v5h-5zM1195.6,248.3h5v5h-5zM1196.0,254.8h5v5h-5z" fill="#f41010"/><polyline points="1199.21,262.67 1199.23,263.30 1199.48,264.17 1199.24,267.07 1199.48,264.40 1199.54,264.08 1199.19,261.75 1199.61,260.46 1199.34,259.73 1199.17,257.69 1199.95,256.43 1199.85,254.49 1199.50,254.80 1199.56,254.87 1200.13,251.71 1199.52,252.36 1200.10,249.94 1199.56,247.20 1200.11,248.01 1199.99,245.74 1199.89,244.64 1200.05,244.14 1200.10,242.10 1200.00,241.85 1200.62,239.21 1200.54,239.38 1200.16,236.63 1200.69,235.45 1200.17,234.06 1200.78,233.71 1200.18,232.20 1200.64,231.57 1200.39,231.47 1200.88,228.53 1200.63,227.26 1200.45,227.11 1200.70,226.04 1201.20,223.81 1200.81,222.72 1201.01,220.55 1201.00,220.13 1200.82,220.48 1201.34,218.23 1200.90,217.73 1201.19,216.97 1201.46,213.83 1201.59,213.67 1201.32,213.07 1201.35,209.89 1201.18,210.09 1201.41,207.50 1201.28,208.13 1201.52,207.17 1202.06,205.84 1201.58,204.99 1201.95,203.49 1202.22,200.69" fill="none" stroke="#f41010" stroke-width="6.6" stroke-linejoin="round" stroke-linecap="square"/><polyline points="1202.22,200.69 1201.85,201.21" fill="none" stroke="#f41010" stroke-width="2.2" /><path d="M1199.7,198.2h5v5h-5z" fill="#f41010"/><polyline points="1201.85,201.21 1201.83,197.60 1201.67,197.76 1201.92,197.73 1201.72,194.87 1202.32,194.29" fill="none" stroke="#f41010" stroke-width="6.6" stroke-linejoin="round" stroke-linecap="square"/><polyline points="1202.32,194.29 1202.46,193.22 1202.53,192.96 1202.56,190.66 1202.23,189.24 1202.12,187.20" fill="none" stroke="#f41010" stroke-width="2.2" /><path d="M1199.8,191.8h5v5h-5zM1199.6,184.7h5v5h-5z" fill="#f41010"/><polyline points="1202.12,187.20 1202.40,186.55" fill="none" stroke="#f41010" stroke-width="6.6" stroke-linejoin="round" stroke-linecap="square"/><polyline points="1202.40,186.55 1202.34,184.28 1202.85,183.81 1202.49,182.66 1202.59,182.75 1202.93,181.01 1202.97,179.09 1202.64,177.80 1203.07,175.96 1202.51,176.67 1202.56,173.36 1202.71,173.35 1202.81,171.45 1202.77,170.41 1202.67,169.86 1202.75,167.71 1203.35,168.58 1202.95,166.30 1202.76,163.57 1203.13,165.14 1202.82,162.46 1203.43,159.92 1203.31,159.47 1203.48,159.94 1203.62,158.61 1203.02,157.03 1203.44,154.76 1203.19,154.06 1203.41,152.66 1203.87,150.93 1203.83,149.46 1203.74,149.15 1203.54,148.05 1203.37,146.07 1203.63,144.78 1204.01,145.07 1203.88,143.87 1203.55,140.61 1203.52,142.02 1203.88,141.09 1203.79,138.11 1204.09,138.29 1203.95,136.00 1203.93,134.05 1204.41,134.85 1204.07,131.34 1204.46,131.11 1204.40,129.76 1203.91,129.54 1203.96,128.91 1204.05,125.92 1203.96,124.34 1204.52,122.75 1204.13,121.45 1204.08,121.61 1204.29,121.11 1204.69,119.16 1204.93,119.35 1204.47,117.56 1204.82,114.59 1204.93,112.93 1204.88,114.33 1204.90,112.50 1204.95,110.43 1204.55,109.13 1204.75,109.23 1205.24,108.49 1204.84,107.06 1205.34,103.23" fill="none" stroke="#f41010" stroke-width="2.2" /><path d="M1199.9,184.0h5v5h-5zM1200.4,178.5h5v5h-5zM1200.1,170.9h5v5h-5zM1200.2,165.2h5v5h-5zM1200.3,160.0h5v5h-5zM1200.5,154.5h5v5h-5zM1201.3,147.0h5v5h-5zM1201.5,142.6h5v5h-5zM1201.3,135.6h5v5h-5zM1201.6,128.8h5v5h-5zM1201.6,123.4h5v5h-5zM1201.8,118.6h5v5h-5zM1202.4,110.4h5v5h-5zM1202.2,106.7h5v5h-5z" fill="#f41010"/><polyline points="1205.34,103.23 1205.09,102.25" fill="none" stroke="#f41010" stroke-width="6.6" stroke-linejoin="round" stroke-linecap="square"/><polyline points="1205.09,102.25 1204.75,102.08 1205.29,100.09 1205.03,99.79 1205.24,97.50 1204.98,95.97 1205.14,97.68 1205.07,95.78 1205.48,94.89" fill="none" stroke="#f41010" stroke-width="2.2" /><path d="M1202.6,99.7h5v5h-5zM1202.5,93.5h5v5h-5z" fill="#f41010"/><polyline points="1205.48,94.89 1205.64,91.29 1205.34,94.82 1205.68,96.11 1205.27,97.29" fill="none" stroke="#f41010" stroke-width="6.6" stroke-linejoin="round" stroke-linecap="square"/><polyline points="1205.27,97.29 1205.64,98.36" fill="none" stroke="#f41010" stroke-width="2.2" /><path d="M1202.8,94.8h5v5h-5z" fill="#f41010"/><polyline points="1205.64,98.36 1205.87,98.29 1205.91,98.52 1206.32,102.29 1206.17,102.83 1206.32,103.43 1206.00,105.28 1206.68,107.17 1206.61,106.28 1206.30,107.85 1206.58,110.94 1206.71,111.21 1206.64,111.21 1206.59,114.85 1207.18,115.08 1207.09,115.03 1206.64,115.65 1206.71,117.41 1207.57,119.76 1207.04,119.52 1206.96,120.51 1207.13,122.70 1207.23,123.60 1207.69,124.53 1207.38,127.68 1207.57,128.48 1207.66,129.90 1207.52,129.85 1208.28,131.14 1208.18,132.12 1207.84,133.98 1208.20,134.04 1208.34,136.43 1208.28,138.66 1208.79,138.83 1208.40,141.14 1208.84,141.59 1208.81,142.30 1208.98,144.23 1209.17,142.19 1208.61,142.67 1209.10,141.26 1209.31,139.96 1209.08,139.02 1209.37,136.44 1209.08,134.29 1209.21,133.75 1209.37,133.43 1209.95,132.05 1209.80,129.17 1209.90,129.53 1210.04,127.76 1210.02,127.03 1210.20,125.59 1210.32,125.68 1210.16,123.36 1210.38,122.20 1210.67,122.23 1210.37,120.28 1210.13,119.71 1210.62,115.86 1210.22,117.11 1210.91,115.21 1210.69,112.87 1210.83,113.65 1211.03,109.85 1210.77,108.75 1211.41,109.84 1211.57,107.39 1211.20,105.08 1211.27,104.73 1211.49,103.52 1211.87,103.88 1211.71,102.55 1211.76,99.70 1212.28,97.97 1211.81,99.48 1212.25,96.53 1212.60,96.77 1212.40,95.32 1212.32,94.37 1212.66,91.66 1212.46,89.51 1212.87,88.44 1213.21,89.89 1213.02,87.96 1213.38,86.36 1213.64,84.75 1213.80,82.58 1213.80,82.49 1213.53,80.39 1214.24,80.41 1214.00,78.80" fill="none" stroke="#f41010" stroke-width="6.6" stroke-linejoin="round" stroke-linecap="square"/><polyline points="655.73,474.15 656.34,474.81 656.93,471.37 656.86,470.10 657.07,469.69 657.34,470.38 657.17,469.16 657.15,465.13 657.51,463.73 657.32,463.59 657.79,461.57 657.47,462.44 657.82,461.44 658.42,458.43 658.20,457.59 658.48,456.55 658.55,455.36 658.97,453.79 658.68,453.20 658.64,450.71 659.34,450.14 659.12,447.38 659.12,447.86 658.92,446.73 659.53,443.83 659.64,443.82 659.80,442.25 659.93,442.18 659.50,438.91 660.14,440.39 660.38,437.70 661.24,436.13 661.64,434.94 662.23,434.62 662.76,432.80 663.72,430.58 664.60,433.43 665.43,432.61 666.86,433.38 667.41,434.69 668.86,434.41 668.72,433.87 669.30,432.96 669.48,430.92 669.23,431.13 669.83,429.30 669.47,427.08 669.88,426.06 670.27,426.78 669.93,423.87 670.60,423.73 670.76,421.61 670.38,420.22 671.08,418.92 670.89,418.13 671.11,416.88 671.68,414.89 671.11,416.02 671.97,414.92 671.78,413.58 672.34,410.17 672.65,413.18 673.03,413.39 673.18,414.02 673.58,414.37 674.32,416.19 674.95,416.64 675.47,419.75 675.94,421.52 676.37,421.73 676.11,423.40 676.69,423.23 677.53,425.07 678.29,425.54 679.40,422.97 680.07,423.75 681.20,422.74 682.06,420.20 683.16,421.28 683.83,420.43 685.38,419.70 686.26,416.52 686.90,418.18 687.24,415.50 688.21,415.35 689.14,414.28 690.22,411.96 690.44,411.43 691.30,410.34 692.78,411.79 692.87,409.82 693.85,408.35 694.68,408.44 695.30,406.46 695.41,405.23 695.78,404.78 696.68,403.13 696.60,401.40 697.26,401.55 698.02,399.75 698.46,399.35 698.59,397.47 699.07,397.34 699.44,396.18 699.51,393.63 699.62,393.77 699.29,391.76 699.62,391.91 700.07,389.19 700.08,389.24 699.62,387.05 699.55,386.89 700.02,385.91 700.17,384.04 700.17,382.52 699.71,381.39 699.67,378.85 700.33,377.35 699.83,376.30 700.50,375.34 699.86,376.12 699.98,374.92 700.47,373.69 700.74,371.71 700.66,368.88 700.68,369.10 700.68,366.68 700.75,367.95 700.24,364.92 700.69,365.22 700.47,362.07 700.52,362.17 700.97,360.30 700.71,359.10 700.74,357.96 700.57,357.00" fill="none" stroke="#f41010" stroke-width="9" stroke-linejoin="round"/></g>
<rect x="589.50" y="18.50" width="637.00" height="467.30" fill="none" stroke="#1b2a44" stroke-width="2.2" />
<line x1="579.00" y1="336.00" x2="589.50" y2="336.00" stroke="#1b2a44" stroke-width="2" />
<line x1="579.00" y1="167.00" x2="589.50" y2="167.00" stroke="#1b2a44" stroke-width="2" />
<line x1="584.50" y1="420.50" x2="589.50" y2="420.50" stroke="#8090a8" stroke-width="1.2" />
<line x1="584.50" y1="251.50" x2="589.50" y2="251.50" stroke="#8090a8" stroke-width="1.2" />
<line x1="584.50" y1="82.50" x2="589.50" y2="82.50" stroke="#8090a8" stroke-width="1.2" />
<line x1="628.00" y1="486.00" x2="628.00" y2="496.50" stroke="#1b2a44" stroke-width="2" />
<line x1="866.00" y1="486.00" x2="866.00" y2="496.50" stroke="#1b2a44" stroke-width="2" />
<line x1="1104.00" y1="486.00" x2="1104.00" y2="496.50" stroke="#1b2a44" stroke-width="2" />
<line x1="675.60" y1="486.00" x2="675.60" y2="491.50" stroke="#8090a8" stroke-width="1.3" />
<line x1="723.20" y1="486.00" x2="723.20" y2="491.50" stroke="#8090a8" stroke-width="1.3" />
<line x1="770.80" y1="486.00" x2="770.80" y2="491.50" stroke="#8090a8" stroke-width="1.3" />
<line x1="818.40" y1="486.00" x2="818.40" y2="491.50" stroke="#8090a8" stroke-width="1.3" />
<line x1="913.60" y1="486.00" x2="913.60" y2="491.50" stroke="#8090a8" stroke-width="1.3" />
<line x1="961.20" y1="486.00" x2="961.20" y2="491.50" stroke="#8090a8" stroke-width="1.3" />
<line x1="1151.60" y1="486.00" x2="1151.60" y2="491.50" stroke="#8090a8" stroke-width="1.3" />
<line x1="1199.20" y1="486.00" x2="1199.20" y2="491.50" stroke="#8090a8" stroke-width="1.3" />
<text transform="translate(543.79,177.20) scale(1.093,1)" font-family="'Liberation Sans',Arial,sans-serif" font-size="27.00" fill="#000" >10</text>
<text transform="translate(558.87,344.50) scale(1.044,1)" font-family="'Liberation Sans',Arial,sans-serif" font-size="27.14" fill="#000" >0</text>
<text transform="translate(607.82,521.70) scale(0.969,1)" font-family="'Liberation Sans',Arial,sans-serif" font-size="27.10" fill="#000" >-1</text>
<text transform="translate(857.44,521.70) scale(1.084,1)" font-family="'Liberation Sans',Arial,sans-serif" font-size="26.71" fill="#000" >0</text>
<text transform="translate(1096.02,521.70) scale(0.975,1)" font-family="'Liberation Sans',Arial,sans-serif" font-size="27.10" fill="#000" >1</text>
<g transform="translate(536.00,288.50) rotate(-90)"><text transform="translate(-1.66,0.00) scale(0.979,1)" font-family="'Liberation Sans',Arial,sans-serif" font-size="33.86" font-style="italic" fill="#000" >G</text></g>
<g transform="translate(536.00,252.60) rotate(-90)"><text transform="translate(-2.15,0.00) scale(1.017,1)" font-family="'Liberation Sans',Arial,sans-serif" font-size="35.17" fill="#000" >( nS )</text></g>
<text transform="translate(870.91,549.60) scale(0.895,1)" font-family="'Liberation Sans',Arial,sans-serif" font-size="35.36" font-style="italic" fill="#000" >V</text>
<text transform="translate(892.41,556.50) scale(1.057,1)" font-family="'Liberation Sans',Arial,sans-serif" font-size="22.86" fill="#000" >SD</text>
<text transform="translate(934.15,549.60) scale(1.112,1)" font-family="'Liberation Sans',Arial,sans-serif" font-size="33.66" fill="#000" >(V)</text>
<text transform="translate(974.24,406.80) scale(1.370,1)" font-family="'Liberation Sans',Arial,sans-serif" font-size="28.57" fill="#000" >S</text>
<text transform="translate(1001.51,423.00) scale(1.250,1)" font-family="'Liberation Sans',Arial,sans-serif" font-size="15.94" fill="#000" >1</text>
<text transform="translate(1030.24,396.00) scale(1.370,1)" font-family="'Liberation Sans',Arial,sans-serif" font-size="28.57" fill="#000" >S</text>
<text transform="translate(1057.02,411.70) scale(1.250,1)" font-family="'Liberation Sans',Arial,sans-serif" font-size="15.71" fill="#000" >2</text>
<text transform="translate(1098.24,396.00) scale(1.370,1)" font-family="'Liberation Sans',Arial,sans-serif" font-size="28.57" fill="#000" >S</text>
<text transform="translate(1125.21,411.70) scale(1.250,1)" font-family="'Liberation Sans',Arial,sans-serif" font-size="15.71" fill="#000" >3</text>
<text transform="translate(1156.24,369.50) scale(1.370,1)" font-family="'Liberation Sans',Arial,sans-serif" font-size="28.57" fill="#000" >S</text>
<text transform="translate(1183.60,385.60) scale(1.250,1)" font-family="'Liberation Sans',Arial,sans-serif" font-size="15.94" fill="#000" >4</text>
<text transform="translate(1188.24,324.00) scale(1.370,1)" font-family="'Liberation Sans',Arial,sans-serif" font-size="28.57" fill="#000" >S</text>
<text transform="translate(1215.20,339.60) scale(1.250,1)" font-family="'Liberation Sans',Arial,sans-serif" font-size="15.94" fill="#000" >5</text>
<rect x="619.30" y="146.50" width="61.70" height="162.00" fill="#7030a0" stroke="none" stroke-width="1" />
<rect x="850.70" y="220.00" width="58.00" height="88.50" fill="#7030a0" stroke="none" stroke-width="1" />
<line x1="702.90" y1="39.30" x2="702.90" y2="309.30" stroke="#111" stroke-width="3" />
<line x1="820.40" y1="37.50" x2="820.40" y2="306.70" stroke="#111" stroke-width="3" />
<line x1="702.90" y1="72.70" x2="820.40" y2="72.70" stroke="#222" stroke-width="2.2" />
<line x1="702.90" y1="94.00" x2="820.40" y2="94.00" stroke="#222" stroke-width="2.2" />
<line x1="702.90" y1="114.60" x2="820.40" y2="114.60" stroke="#222" stroke-width="2.2" />
<line x1="702.90" y1="135.70" x2="820.40" y2="135.70" stroke="#222" stroke-width="2.2" />
<line x1="702.90" y1="156.80" x2="820.40" y2="156.80" stroke="#222" stroke-width="2.2" />
<line x1="702.90" y1="270.00" x2="820.40" y2="270.00" stroke="#222" stroke-width="2.2" />
<line x1="708.00" y1="146.80" x2="906.00" y2="146.80" stroke="#aaa" stroke-width="1.6" stroke-dasharray="2 2"/>
<polygon points="712.00,144.00 722.00,144.00 722.00,140.50 736.00,146.80 722.00,153.00 722.00,149.60 712.00,149.60" fill="#8a8a8a" stroke="none" stroke-width="1" />
<rect x="792.00" y="144.00" width="14.00" height="5.60" fill="#8a8a8a" stroke="none" stroke-width="1" />
<polygon points="834.00,144.00 844.00,144.00 844.00,140.50 858.50,146.80 844.00,153.00 844.00,149.60 834.00,149.60" fill="#8a8a8a" stroke="none" stroke-width="1" />
<circle cx="697.7" cy="147.3" r="14" fill="url(#eg)"/>
<text transform="translate(687.66,154.50) scale(0.970,1)" font-family="'Liberation Sans',Arial,sans-serif" font-size="26.85" font-weight="bold" fill="#000" >e</text>
<line x1="703.20" y1="140.50" x2="707.20" y2="140.50" stroke="#111" stroke-width="2" />
<circle cx="820.6" cy="147.3" r="14" fill="url(#eg)"/>
<text transform="translate(810.56,154.50) scale(0.970,1)" font-family="'Liberation Sans',Arial,sans-serif" font-size="26.85" font-weight="bold" fill="#000" >e</text>
<line x1="826.10" y1="140.50" x2="830.10" y2="140.50" stroke="#111" stroke-width="2" />
<line x1="763.30" y1="167.40" x2="763.30" y2="264.70" stroke="#000" stroke-width="2" /><polygon points="763.30,161.40 758.80,171.40 763.30,168.40 767.80,171.40" fill="#000" stroke="none" stroke-width="1" /><polygon points="763.30,270.70 758.80,260.70 763.30,263.70 767.80,260.70" fill="#000" stroke="none" stroke-width="1" />
<line x1="873.00" y1="157.00" x2="873.00" y2="210.70" stroke="#000" stroke-width="2" /><polygon points="873.00,151.00 868.50,161.00 873.00,158.00 877.50,161.00" fill="#000" stroke="none" stroke-width="1" /><polygon points="873.00,216.70 868.50,206.70 873.00,209.70 877.50,206.70" fill="#000" stroke="none" stroke-width="1" />
<text transform="translate(772.48,219.30)" font-family="'Liberation Serif','Times New Roman',serif" font-size="37.10" font-weight="bold" font-style="italic" fill="#000" >E</text>
<text transform="translate(796.09,228.00) scale(1.033,1)" font-family="'Liberation Serif','Times New Roman',serif" font-size="23.53" font-weight="bold" fill="#000" >g</text>
<text transform="translate(878.08,192.80) scale(1.145,1)" font-family="'Liberation Serif','Times New Roman',serif" font-size="32.06" font-weight="bold" font-style="italic" fill="#000" >eV</text>
<text transform="translate(921.98,201.30) scale(1.093,1)" font-family="'Liberation Serif','Times New Roman',serif" font-size="25.30" font-weight="bold" fill="#000" >SD</text>
<text transform="translate(1256.87,23.00) scale(1.059,1)" font-family="'Liberation Sans',Arial,sans-serif" font-size="26.67" font-weight="bold" fill="#000" >c</text>
<line x1="1311.00" y1="463.30" x2="1719.00" y2="463.30" stroke="#aaaaaa" stroke-width="1.5" />
<polyline points="1311.00,463.60 1312.53,463.57 1314.05,463.75 1315.58,463.59 1317.11,463.31 1318.63,463.71 1320.16,463.62 1321.68,463.55 1323.21,463.47 1324.74,463.42 1326.26,463.18 1327.79,463.54 1329.32,463.35 1330.84,462.99 1332.37,463.34 1333.89,463.08 1335.42,462.83 1336.95,463.29 1338.47,462.87 1340.00,462.95 1341.50,462.63 1343.00,462.76 1344.50,462.65 1346.00,462.69 1347.50,462.65 1349.00,462.48 1350.50,462.23 1352.00,461.94 1353.50,462.14 1355.00,461.59 1356.50,461.51 1358.00,461.54 1359.50,461.20 1361.00,461.10 1362.50,460.61 1364.00,460.47 1365.50,460.12 1367.00,460.15 1368.50,459.81 1370.00,459.94 1371.50,459.38 1373.00,459.13 1374.50,459.22 1376.00,458.69 1377.50,458.86 1379.00,458.46 1380.50,458.00 1382.00,458.12 1383.37,457.44 1384.74,456.17 1386.11,455.46 1387.49,454.60 1388.86,453.98 1390.23,453.15 1391.60,451.74 1393.04,451.19 1394.48,450.70 1395.92,449.73 1397.36,449.05 1398.80,448.34 1400.00,447.01 1401.20,446.02 1402.40,445.54 1403.60,444.24 1404.80,443.27 1406.00,442.34 1406.69,441.08 1407.37,439.79 1408.06,437.94 1408.74,436.89 1409.43,435.15 1410.11,434.10 1410.80,432.89 1411.40,431.19 1412.00,429.62 1412.60,428.41 1413.20,426.82 1413.80,425.45 1414.40,423.72 1415.00,422.09 1415.60,420.82 1416.04,419.17 1416.47,417.36 1416.91,415.92 1417.35,414.90 1417.78,413.20 1418.22,411.31 1418.65,410.22 1419.09,408.71 1419.53,406.76 1419.96,405.81 1420.40,403.35 1421.00,402.40 1421.60,401.19 1422.20,399.13 1422.80,397.23 1423.40,395.87 1424.00,394.56 1424.60,393.77 1425.20,392.20 1425.80,390.99 1426.40,389.19 1427.00,387.10 1427.60,385.43 1428.20,385.11 1428.80,383.70 1429.40,381.03 1430.00,380.57 1431.75,379.07 1433.50,377.86 1435.25,378.07 1437.00,378.30 1437.71,376.03 1438.43,375.04 1439.14,373.55 1439.86,371.92 1440.57,369.38 1441.29,369.06 1442.00,365.87 1443.40,365.97 1444.80,364.39 1446.20,364.25 1447.60,364.51 1449.00,363.63 1450.09,362.94 1451.18,361.03 1452.27,359.91 1453.36,358.15 1454.44,357.75 1455.53,357.55 1456.62,355.37 1457.71,355.35 1458.80,353.21 1460.38,354.33 1461.96,353.23 1463.53,354.89 1465.11,353.32 1466.69,353.37 1468.27,354.48 1469.84,355.01 1471.42,355.00 1473.00,354.51 1474.61,355.32 1476.22,354.49 1477.83,354.93 1479.43,355.04 1481.04,355.11 1482.65,354.94 1484.26,355.47 1485.87,356.32 1487.47,356.64 1489.08,356.29 1490.69,357.03 1492.30,356.66 1493.63,356.84 1494.97,354.47 1496.30,355.21 1497.63,354.69 1498.97,353.27 1500.30,352.61 1501.63,352.52 1502.97,350.07 1504.30,349.19 1505.38,348.79 1506.46,348.00 1507.53,346.41 1508.61,345.08 1509.69,343.75 1510.77,342.59 1511.84,342.20 1512.92,339.36 1514.00,339.31 1514.36,336.72 1514.72,336.76 1515.08,334.14 1515.45,333.75 1515.81,331.33 1516.17,330.50 1516.53,328.79 1516.89,328.22 1517.25,325.79 1517.62,324.41 1517.98,322.93 1518.34,320.96 1518.70,320.88 1518.94,318.14 1519.17,316.22 1519.41,314.79 1519.64,314.27 1519.88,313.09 1520.11,310.93 1520.35,310.11 1520.59,307.11 1520.82,306.89 1521.06,305.11 1521.29,302.46 1521.53,300.67 1521.76,299.79 1522.00,298.24 1522.28,296.83 1522.56,295.74 1522.85,293.20 1523.13,291.70 1523.41,290.30 1523.69,288.40 1523.98,287.41 1524.26,286.18 1524.54,283.97 1524.82,282.14 1525.11,281.78 1525.39,278.94 1525.67,278.93 1525.95,276.89 1526.24,274.56 1526.52,272.57 1526.80,272.69 1527.40,269.64 1528.00,269.71 1528.60,267.87 1529.20,266.78 1529.80,264.40 1530.40,264.06 1531.00,261.71 1531.60,260.98 1532.20,260.33 1532.80,258.19 1533.40,255.92 1534.00,254.68 1535.33,254.22 1536.67,254.26 1538.00,253.40 1539.33,251.78 1540.67,251.37 1542.00,250.11 1543.33,249.58 1544.67,248.43 1546.00,248.89 1547.20,246.55 1548.40,245.23 1549.60,244.64 1550.80,242.64 1552.00,241.22 1553.20,240.69 1554.70,241.00 1556.20,239.63 1557.70,239.02 1559.20,238.58 1560.70,238.76 1562.20,237.64 1563.70,237.72 1565.20,237.22 1566.40,237.88 1567.60,240.04 1568.80,242.64 1570.00,240.22 1571.20,240.10 1572.40,237.55 1573.60,237.18 1574.80,235.85 1576.00,235.10 1577.20,232.61 1577.64,231.32 1578.07,230.35 1578.51,229.85 1578.95,227.49 1579.38,226.69 1579.82,224.50 1580.25,223.88 1580.69,220.54 1581.13,220.59 1581.56,217.84 1582.00,216.24 1582.96,215.41 1583.92,213.76 1584.88,213.47 1585.84,211.91 1586.80,210.05 1587.60,207.76 1588.40,206.40 1589.20,205.48 1590.00,203.91 1590.80,202.37 1591.60,201.01 1592.40,199.79 1593.20,198.53 1594.00,196.82 1595.44,196.26 1596.88,196.58 1598.32,195.39 1599.76,193.99 1601.20,193.71 1602.73,193.68 1604.25,191.99 1605.78,191.89 1607.31,192.47 1608.84,192.86 1610.36,193.80 1611.89,191.85 1613.42,193.20 1614.95,193.39 1616.47,192.32 1618.00,193.33 1619.53,193.54 1621.05,191.99 1622.58,193.12 1624.11,192.75 1625.64,193.34 1627.16,192.10 1628.69,193.13 1630.22,191.82 1631.75,191.87 1633.27,192.66 1634.80,192.49 1636.24,193.26 1637.68,193.42 1639.12,195.59 1640.56,195.03 1642.00,195.80 1643.44,196.12 1644.88,197.76 1646.32,196.93 1647.76,199.06 1649.20,198.18 1650.10,198.20 1651.00,195.95 1651.90,194.95 1652.80,192.87 1653.70,192.69 1654.60,190.14 1655.50,189.92 1656.40,188.32 1657.60,187.75 1658.80,186.88 1660.00,185.45 1661.20,183.15 1662.40,183.38 1663.60,180.90 1664.80,181.27 1666.00,180.44 1667.33,177.94 1668.67,176.81 1670.00,177.42 1671.33,175.57 1672.67,175.29 1674.00,174.64 1675.33,173.95 1676.67,172.17 1678.00,171.88 1679.37,170.99 1680.74,169.69 1682.11,167.85 1683.49,167.92 1684.86,165.90 1686.23,165.83 1687.60,163.77 1688.00,162.37 1688.40,159.87 1688.80,158.41 1689.20,158.46 1689.60,155.91 1690.00,154.86 1690.40,152.75 1690.80,151.65 1691.20,149.65 1691.34,150.49 1691.48,152.43 1691.62,154.67 1691.77,155.31 1691.91,158.48 1692.05,158.32 1692.19,160.93 1692.33,163.14 1692.48,164.46 1692.62,164.89 1692.76,166.41 1692.90,169.21 1693.00,167.10 1693.10,164.96 1693.20,163.50 1693.30,163.07 1693.40,160.27 1693.50,159.28 1693.60,159.07 1693.70,156.18 1693.80,155.86 1693.90,152.69 1694.00,151.53 1694.10,149.71 1694.20,149.56 1694.30,147.71 1694.40,146.60 1694.50,145.18 1694.60,143.48 1694.70,140.73 1694.80,139.92 1694.95,137.57 1695.10,137.59 1695.25,135.25 1695.40,133.93 1695.55,133.28 1695.70,131.98 1695.85,129.71 1696.00,127.77 1696.15,127.25 1696.30,125.69 1696.45,122.93 1696.60,121.91 1696.75,121.40 1696.90,119.97 1697.05,118.33 1697.20,115.97 1697.35,113.83 1697.50,113.78 1697.65,110.91 1697.80,110.20 1697.95,108.28 1698.10,107.69 1698.25,105.23 1698.40,103.75 1698.85,103.20 1699.30,101.45 1699.75,100.50 1700.20,97.24 1700.65,95.76 1701.10,95.35 1701.55,93.49 1702.00,92.79 1702.60,90.43 1703.20,88.09 1703.80,87.45 1704.40,85.50 1705.00,85.10 1705.60,83.62 1706.20,82.23 1706.80,79.22 1707.00,78.53 1707.20,76.20 1707.40,76.16 1707.60,72.90 1707.80,72.30 1708.00,70.83 1708.20,68.20 1708.40,67.37 1708.60,64.84 1708.80,63.11 1709.00,61.97 1709.20,59.96 1709.53,59.15 1709.85,58.10 1710.18,57.07 1710.51,54.21 1710.84,53.12 1711.16,52.02 1711.49,49.74 1711.82,48.20 1712.15,46.79 1712.47,46.20 1712.80,43.72 1712.93,46.05 1713.05,46.33 1713.18,48.16 1713.31,49.64 1713.43,51.04 1713.56,52.41 1713.68,54.40 1713.81,56.75 1713.94,57.96 1714.06,60.14 1714.19,60.31 1714.32,61.80 1714.44,63.19 1714.57,65.21 1714.69,65.98 1714.82,68.86 1714.95,69.62 1715.07,70.37 1715.20,72.81 1715.25,71.12 1715.30,69.12 1715.34,67.80 1715.39,67.00 1715.44,66.12 1715.49,63.79 1715.54,61.56 1715.58,59.58 1715.63,58.63 1715.68,56.92 1715.73,55.75 1715.78,54.27 1715.82,52.39 1715.87,50.62 1715.92,50.62 1715.97,49.12 1716.02,47.14 1716.06,46.01 1716.11,43.75 1716.16,42.56 1716.21,40.43 1716.26,39.33 1716.30,38.17 1716.35,36.35 1716.40,34.99 1716.80,36.22 1717.20,37.29 1717.60,39.81 1718.00,41.59 1718.40,41.87 1718.80,44.00" fill="none" stroke="#1f8020" stroke-width="2.4" stroke-linejoin="round"/>
<path d="M1311.00,463.50 C1332.50,463.23 1416.83,462.23 1440.00,461.90 C1463.17,461.57 1447.05,461.67 1450.00,461.50 C1452.95,461.33 1455.87,461.98 1457.70,460.90 C1459.53,459.82 1459.68,456.82 1461.00,455.00 C1462.32,453.18 1464.10,450.33 1465.60,450.00 C1467.10,449.67 1468.18,450.37 1470.00,453.00 C1471.82,455.63 1474.83,464.30 1476.50,465.80 C1478.17,467.30 1478.53,463.47 1480.00,462.00 C1481.47,460.53 1482.93,459.00 1485.30,457.00 C1487.67,455.00 1491.75,449.83 1494.20,450.00 C1496.65,450.17 1498.03,455.20 1500.00,458.00 C1501.97,460.80 1503.83,466.63 1506.00,466.80 C1508.17,466.97 1510.20,461.30 1513.00,459.00 C1515.80,456.70 1520.18,456.63 1522.80,453.00 C1525.42,449.37 1526.40,442.78 1528.70,437.20 C1531.00,431.62 1533.65,422.95 1536.60,419.50 C1539.55,416.05 1544.00,417.58 1546.40,416.50 C1548.80,415.42 1549.35,414.80 1551.00,413.00 C1552.65,411.20 1554.43,404.95 1556.30,405.70 C1558.17,406.45 1560.40,409.95 1562.20,417.50 C1564.00,425.05 1565.30,441.47 1567.10,451.00 C1568.90,460.53 1571.02,472.72 1573.00,474.70 C1574.98,476.68 1576.87,470.47 1579.00,462.90 C1581.13,455.33 1583.52,437.85 1585.80,429.30 C1588.08,420.75 1590.07,415.53 1592.70,411.60 C1595.33,407.67 1599.47,408.98 1601.60,405.70 C1603.73,402.42 1603.85,399.78 1605.50,391.90 C1607.15,384.02 1609.85,367.93 1611.50,358.40 C1613.15,348.87 1614.10,336.35 1615.40,334.70 C1616.70,333.05 1617.65,340.28 1619.30,348.50 C1620.95,356.72 1623.65,370.20 1625.30,384.00 C1626.95,397.80 1627.73,420.30 1629.20,431.30 C1630.67,442.30 1632.47,448.68 1634.10,450.00 C1635.73,451.32 1636.53,444.28 1639.00,439.20 C1641.47,434.12 1645.93,428.03 1648.90,419.50 C1651.87,410.97 1654.50,399.83 1656.80,388.00 C1659.10,376.17 1660.73,360.67 1662.70,348.50 C1664.67,336.33 1666.88,321.25 1668.60,315.00 C1670.32,308.75 1671.35,312.30 1673.00,311.00 C1674.65,309.70 1676.60,304.23 1678.50,307.20 C1680.40,310.17 1682.77,319.93 1684.40,328.80 C1686.03,337.67 1687.25,349.72 1688.30,360.40 C1689.35,371.08 1689.38,392.25 1690.70,392.90 C1692.02,393.55 1694.30,375.97 1696.20,364.30 C1698.10,352.63 1700.30,330.12 1702.10,322.90 C1703.90,315.68 1705.85,323.95 1707.00,321.00 C1708.15,318.05 1708.43,314.08 1709.00,305.20 C1709.57,296.32 1710.17,273.95 1710.40,267.70" fill="none" stroke="#f51414" stroke-width="2.3"/>
<polyline points="1311.00,463.43 1312.51,463.34 1314.02,463.44 1315.53,463.39 1317.04,463.38 1318.55,463.35 1320.07,463.40 1321.58,463.31 1323.09,463.69 1324.60,463.23 1326.11,463.18 1327.62,463.62 1329.13,463.33 1330.64,463.50 1332.15,463.27 1333.66,463.10 1335.17,463.09 1336.68,463.52 1338.20,463.06 1339.71,463.24 1341.22,463.13 1342.73,463.31 1344.24,463.16 1345.75,463.35 1347.26,463.04 1348.77,463.18 1350.28,463.39 1351.79,463.15 1353.30,463.34 1354.82,462.87 1356.33,463.27 1357.84,463.01 1359.35,463.29 1360.86,463.13 1362.37,462.89 1363.88,463.13 1365.39,462.81 1366.90,462.97 1368.41,463.06 1369.92,462.76 1371.43,462.68 1372.95,463.06 1374.46,462.71 1375.97,462.98 1377.48,462.82 1378.99,462.66 1380.50,462.98 1382.01,462.72 1383.52,462.65 1385.03,462.95 1386.54,462.97 1388.05,462.63 1389.57,462.93 1391.08,462.48 1392.59,462.81 1394.10,462.69 1395.61,462.50 1397.12,462.56 1398.63,462.50 1400.14,462.66 1401.65,462.52 1403.16,462.50 1404.67,462.61 1406.18,462.43 1407.70,462.28 1409.21,462.47 1410.72,462.64 1412.23,462.30 1413.74,462.30 1415.25,462.61 1416.76,462.21 1418.27,462.60 1419.78,462.25 1421.29,462.18 1422.80,462.42 1424.32,462.49 1425.83,462.26 1427.34,462.15 1428.85,462.06 1430.36,461.98 1431.87,462.31 1433.38,462.31 1434.89,462.08 1436.40,462.14 1437.91,462.27 1439.42,462.22 1440.93,462.19 1442.45,462.30 1443.96,461.94 1445.47,462.29 1446.98,462.10 1448.49,461.93 1450.00,462.09 1451.51,461.83 1453.02,461.80 1454.53,461.94 1456.04,461.85 1457.55,461.67 1459.06,461.70 1460.57,461.65 1462.08,461.34 1463.58,461.11 1465.09,461.47 1466.60,460.95 1468.11,461.07 1469.62,460.82 1471.13,460.96 1472.64,461.01 1474.15,460.56 1475.66,460.72 1477.17,460.59 1478.68,460.65 1480.19,460.69 1481.70,460.50 1483.21,460.12 1484.72,460.19 1486.23,460.17 1487.74,459.94 1489.25,460.22 1490.75,459.89 1492.26,459.82 1493.77,459.67 1495.28,459.75 1496.79,459.81 1498.30,459.39 1499.81,459.51 1501.32,459.33 1502.83,459.14 1504.34,459.23 1505.85,459.28 1507.36,459.19 1508.87,459.30 1510.38,459.08 1511.89,459.12 1513.40,458.94 1514.91,458.85 1516.42,458.88 1517.92,458.79 1519.43,458.66 1520.94,458.37 1522.45,458.27 1523.96,458.48 1525.47,457.99 1526.98,458.10 1528.49,458.24 1530.00,457.90 1531.50,457.91 1533.00,457.74 1534.50,457.79 1536.00,457.79 1537.50,457.31 1539.00,457.39 1540.50,457.52 1542.00,457.21 1543.50,457.39 1545.00,456.95 1546.50,456.97 1548.00,456.71 1549.50,456.97 1551.00,456.68 1552.50,456.76 1554.00,456.59 1555.50,456.29 1557.00,456.49 1558.50,456.00 1560.00,456.34 1561.50,456.17 1563.00,455.81 1564.50,455.88 1566.00,455.67 1567.50,455.64 1569.00,455.79 1570.50,455.35 1572.00,455.59 1573.50,454.10 1575.00,454.04 1576.50,455.03 1578.00,454.80 1579.57,455.84 1581.14,454.61 1582.71,455.15 1584.29,454.05 1585.86,454.69 1587.43,452.82 1589.00,451.77 1590.57,453.37 1592.14,452.83 1593.71,451.35 1595.29,451.12 1596.86,451.50 1598.43,452.32 1600.00,451.44 1601.58,450.46 1603.16,450.46 1604.75,449.51 1606.33,449.27 1607.91,448.36 1609.49,449.33 1611.07,447.22 1612.65,448.15 1614.24,446.66 1615.82,446.43 1617.40,447.67 1618.91,447.79 1620.42,446.72 1621.92,447.74 1623.43,446.93 1624.94,446.33 1626.45,446.35 1627.95,444.65 1629.46,444.72 1630.97,446.26 1632.48,445.14 1633.98,446.52 1635.49,444.52 1637.00,444.44 1638.56,444.39 1640.11,446.41 1641.67,445.55 1643.23,444.94 1644.79,444.58 1646.34,446.07 1647.90,444.74 1649.46,447.08 1651.01,445.40 1652.57,447.11 1654.13,447.51 1655.69,446.17 1657.24,447.08 1658.80,447.49 1660.11,445.89 1661.43,444.77 1662.74,445.00 1664.06,442.37 1665.37,442.17 1666.69,439.72 1668.00,440.18 1669.42,440.44 1670.83,438.16 1672.25,438.26 1673.67,436.42 1675.08,435.76 1676.50,435.02 1678.02,436.13 1679.53,434.54 1681.05,433.66 1682.56,434.81 1684.08,434.75 1685.59,434.65 1687.11,434.14 1688.62,433.54 1690.14,434.48 1691.65,433.11 1693.17,432.99 1694.68,432.62 1696.20,432.15 1697.76,432.32 1699.31,433.33 1700.87,432.39 1702.43,432.33 1703.99,431.53 1705.54,431.38 1707.10,432.28 1708.66,432.73 1710.21,430.44 1711.77,431.65 1713.33,432.14 1714.89,430.85 1716.44,431.54 1718.00,430.30" fill="none" stroke="#7f10ff" stroke-width="2.4" stroke-linejoin="round"/>
<line x1="1330.00" y1="69.40" x2="1433.70" y2="69.40" stroke="#1f8020" stroke-width="2.6" />
<line x1="1330.00" y1="126.80" x2="1433.70" y2="126.80" stroke="#f51414" stroke-width="2.6" />
<line x1="1330.00" y1="183.40" x2="1433.70" y2="183.40" stroke="#7f10ff" stroke-width="2.6" />
<text transform="translate(1484.91,85.50) scale(1.315,1)" font-family="'Liberation Sans',Arial,sans-serif" font-size="35.29" fill="#000" >8 L</text>
<text transform="translate(1461.28,142.60) scale(1.296,1)" font-family="'Liberation Sans',Arial,sans-serif" font-size="35.14" fill="#000" >10 L</text>
<text transform="translate(1461.28,198.90) scale(1.296,1)" font-family="'Liberation Sans',Arial,sans-serif" font-size="35.14" fill="#000" >19 L</text>
<text transform="translate(1428.06,435.00) scale(1.354,1)" font-family="'Liberation Sans',Arial,sans-serif" font-size="32.86" fill="#7f10ff" >x100</text>
<text transform="translate(1589.35,277.60) scale(1.446,1)" font-family="'Liberation Sans',Arial,sans-serif" font-size="30.86" fill="#f51414" >x100</text>
<rect x="1311.00" y="17.50" width="408.60" height="467.30" fill="none" stroke="#1b2a44" stroke-width="2.2" />
<line x1="1301.00" y1="463.30" x2="1311.00" y2="463.30" stroke="#1b2a44" stroke-width="2" />
<line x1="1301.00" y1="240.30" x2="1311.00" y2="240.30" stroke="#1b2a44" stroke-width="2" />
<line x1="1301.00" y1="17.30" x2="1311.00" y2="17.30" stroke="#1b2a44" stroke-width="2" />
<line x1="1306.00" y1="351.80" x2="1311.00" y2="351.80" stroke="#8090a8" stroke-width="1.2" />
<line x1="1306.00" y1="128.80" x2="1311.00" y2="128.80" stroke="#8090a8" stroke-width="1.2" />
<line x1="1338.04" y1="484.80" x2="1338.04" y2="490.00" stroke="#8090a8" stroke-width="1.2" />
<line x1="1365.58" y1="484.80" x2="1365.58" y2="490.00" stroke="#8090a8" stroke-width="1.2" />
<line x1="1393.12" y1="484.80" x2="1393.12" y2="490.00" stroke="#8090a8" stroke-width="1.2" />
<line x1="1420.66" y1="484.80" x2="1420.66" y2="490.00" stroke="#8090a8" stroke-width="1.2" />
<line x1="1448.20" y1="484.80" x2="1448.20" y2="495.00" stroke="#1b2a44" stroke-width="2" />
<line x1="1475.74" y1="484.80" x2="1475.74" y2="490.00" stroke="#8090a8" stroke-width="1.2" />
<line x1="1503.28" y1="484.80" x2="1503.28" y2="490.00" stroke="#8090a8" stroke-width="1.2" />
<line x1="1530.82" y1="484.80" x2="1530.82" y2="490.00" stroke="#8090a8" stroke-width="1.2" />
<line x1="1558.36" y1="484.80" x2="1558.36" y2="490.00" stroke="#8090a8" stroke-width="1.2" />
<line x1="1585.90" y1="484.80" x2="1585.90" y2="495.00" stroke="#1b2a44" stroke-width="2" />
<line x1="1613.44" y1="484.80" x2="1613.44" y2="490.00" stroke="#8090a8" stroke-width="1.2" />
<line x1="1640.98" y1="484.80" x2="1640.98" y2="490.00" stroke="#8090a8" stroke-width="1.2" />
<line x1="1668.52" y1="484.80" x2="1668.52" y2="490.00" stroke="#8090a8" stroke-width="1.2" />
<line x1="1696.06" y1="484.80" x2="1696.06" y2="490.00" stroke="#8090a8" stroke-width="1.2" />
<text transform="translate(1281.46,28.30) scale(0.909,1)" font-family="'Liberation Sans',Arial,sans-serif" font-size="29.86" fill="#000" >4</text>
<text transform="translate(1282.22,248.60) scale(1.102,1)" font-family="'Liberation Sans',Arial,sans-serif" font-size="28.71" fill="#000" >2</text>
<text transform="translate(1281.22,472.80) scale(0.986,1)" font-family="'Liberation Sans',Arial,sans-serif" font-size="30.00" fill="#000" >0</text>
<text transform="translate(1429.81,520.00) scale(1.184,1)" font-family="'Liberation Sans',Arial,sans-serif" font-size="25.14" fill="#000" >0.5</text>
<text transform="translate(1577.28,520.00) scale(0.901,1)" font-family="'Liberation Sans',Arial,sans-serif" font-size="25.51" fill="#000" >1</text>
<g transform="translate(1273.60,288.40) rotate(-90)"><text transform="translate(-1.50,0.00) scale(0.877,1)" font-family="'Liberation Sans',Arial,sans-serif" font-size="34.29" font-style="italic" fill="#000" >G</text></g>
<g transform="translate(1273.60,254.00) rotate(-90)"><text transform="translate(-2.11,0.00) scale(0.986,1)" font-family="'Liberation Sans',Arial,sans-serif" font-size="35.59" fill="#000" >( nS )</text></g>
<text transform="translate(1466.30,551.00) scale(0.955,1)" font-family="'Liberation Sans',Arial,sans-serif" font-size="33.33" font-style="italic" fill="#000" >V</text>
<text transform="translate(1487.89,556.30) scale(1.131,1)" font-family="'Liberation Sans',Arial,sans-serif" font-size="21.86" fill="#000" >SD</text>
<text transform="translate(1529.78,551.00) scale(1.164,1)" font-family="'Liberation Sans',Arial,sans-serif" font-size="31.72" fill="#000" >(V)</text>
<text transform="translate(1153.88,627.80) scale(1.333,1)" font-family="'Liberation Sans',Arial,sans-serif" font-size="21.10" font-weight="bold" fill="#000" >f</text>
<line x1="1207.00" y1="936.30" x2="1674.00" y2="936.30" stroke="#555" stroke-width="2" stroke-dasharray="11 7"/>
<line x1="1406.80" y1="847.00" x2="1406.80" y2="1077.00" stroke="#333" stroke-width="2" stroke-dasharray="11 7"/>
<path d="M1207.00,969.80 C1213.77,969.67 1236.73,969.33 1247.60,969.00 C1258.47,968.67 1264.42,968.20 1272.20,967.80 C1279.98,967.40 1288.57,965.65 1294.30,966.60 C1300.03,967.55 1302.92,970.30 1306.60,973.50 C1310.28,976.70 1313.12,980.48 1316.40,985.80 C1319.68,991.12 1323.43,999.27 1326.30,1005.40 C1329.17,1011.53 1331.55,1018.50 1333.60,1022.60 C1335.65,1026.70 1336.95,1029.58 1338.60,1030.00 C1340.25,1030.42 1341.87,1029.20 1343.50,1025.10 C1345.13,1021.00 1346.35,1014.42 1348.40,1005.40 C1350.45,996.38 1353.33,979.60 1355.80,971.00 C1358.27,962.40 1360.75,957.70 1363.20,953.80 C1365.65,949.90 1367.23,948.42 1370.50,947.60 C1373.77,946.78 1379.10,948.48 1382.80,948.90 C1386.50,949.32 1389.83,950.93 1392.70,950.10 C1395.57,949.27 1397.55,946.15 1400.00,943.90 C1402.45,941.65 1404.93,938.98 1407.40,936.60 C1409.87,934.22 1412.37,931.00 1414.80,929.60 C1417.23,928.20 1418.07,928.50 1422.00,928.20 C1425.93,927.90 1433.85,930.15 1438.40,927.80 C1442.95,925.45 1445.88,921.87 1449.30,914.10 C1452.72,906.33 1456.15,890.78 1458.90,881.20 C1461.65,871.62 1463.73,861.53 1465.80,856.60 C1467.87,851.67 1469.02,850.70 1471.30,851.60 C1473.58,852.50 1476.30,856.15 1479.50,862.00 C1482.70,867.85 1486.38,879.15 1490.50,886.70 C1494.62,894.25 1500.10,902.97 1504.20,907.30 C1508.30,911.63 1511.45,913.38 1515.10,912.70 C1518.75,912.02 1522.90,908.45 1526.10,903.20 C1529.30,897.95 1531.57,894.00 1534.30,881.20 C1537.03,868.40 1539.75,848.33 1542.50,826.40 C1545.25,804.47 1548.28,771.53 1550.80,749.60 C1553.32,727.67 1555.32,707.35 1557.60,694.80 C1559.88,682.25 1562.22,675.67 1564.50,674.30 C1566.78,672.93 1569.02,676.32 1571.30,686.60 C1573.58,696.88 1575.68,718.63 1578.20,736.00 C1580.72,753.37 1583.20,772.08 1586.40,790.80 C1589.60,809.52 1593.28,833.23 1597.40,848.30 C1601.52,863.37 1606.53,873.43 1611.10,881.20 C1615.67,888.97 1619.78,891.93 1624.80,894.90 C1629.82,897.87 1633.00,898.17 1641.20,899.00 C1649.40,899.83 1668.53,899.75 1674.00,899.90" fill="none" stroke="#7a2ee6" stroke-width="2.6"/>
<rect x="1207.00" y="609.00" width="467.00" height="468.00" fill="none" stroke="#111" stroke-width="2.2" />
<line x1="1238.80" y1="609.00" x2="1238.80" y2="623.50" stroke="#111" stroke-width="2.2" />
<line x1="1238.80" y1="1077.00" x2="1238.80" y2="1062.00" stroke="#111" stroke-width="2.2" />
<line x1="1322.80" y1="609.00" x2="1322.80" y2="623.50" stroke="#111" stroke-width="2.2" />
<line x1="1322.80" y1="1077.00" x2="1322.80" y2="1062.00" stroke="#111" stroke-width="2.2" />
<line x1="1406.80" y1="609.00" x2="1406.80" y2="623.50" stroke="#111" stroke-width="2.2" />
<line x1="1406.80" y1="1077.00" x2="1406.80" y2="1062.00" stroke="#111" stroke-width="2.2" />
<line x1="1490.80" y1="609.00" x2="1490.80" y2="623.50" stroke="#111" stroke-width="2.2" />
<line x1="1490.80" y1="1077.00" x2="1490.80" y2="1062.00" stroke="#111" stroke-width="2.2" />
<line x1="1574.80" y1="609.00" x2="1574.80" y2="623.50" stroke="#111" stroke-width="2.2" />
<line x1="1574.80" y1="1077.00" x2="1574.80" y2="1062.00" stroke="#111" stroke-width="2.2" />
<line x1="1658.80" y1="609.00" x2="1658.80" y2="623.50" stroke="#111" stroke-width="2.2" />
<line x1="1658.80" y1="1077.00" x2="1658.80" y2="1062.00" stroke="#111" stroke-width="2.2" />
<line x1="1207.00" y1="1076.25" x2="1214.50" y2="1076.25" stroke="#111" stroke-width="2.2" />
<line x1="1674.00" y1="1076.25" x2="1666.50" y2="1076.25" stroke="#111" stroke-width="2.2" />
<line x1="1207.00" y1="1029.60" x2="1221.50" y2="1029.60" stroke="#111" stroke-width="2.2" />
<line x1="1674.00" y1="1029.60" x2="1659.50" y2="1029.60" stroke="#111" stroke-width="2.2" />
<line x1="1207.00" y1="982.95" x2="1214.50" y2="982.95" stroke="#111" stroke-width="2.2" />
<line x1="1674.00" y1="982.95" x2="1666.50" y2="982.95" stroke="#111" stroke-width="2.2" />
<line x1="1207.00" y1="936.30" x2="1221.50" y2="936.30" stroke="#111" stroke-width="2.2" />
<line x1="1674.00" y1="936.30" x2="1659.50" y2="936.30" stroke="#111" stroke-width="2.2" />
<line x1="1207.00" y1="889.65" x2="1214.50" y2="889.65" stroke="#111" stroke-width="2.2" />
<line x1="1674.00" y1="889.65" x2="1666.50" y2="889.65" stroke="#111" stroke-width="2.2" />
<line x1="1207.00" y1="843.00" x2="1221.50" y2="843.00" stroke="#111" stroke-width="2.2" />
<line x1="1674.00" y1="843.00" x2="1659.50" y2="843.00" stroke="#111" stroke-width="2.2" />
<line x1="1207.00" y1="796.35" x2="1214.50" y2="796.35" stroke="#111" stroke-width="2.2" />
<line x1="1674.00" y1="796.35" x2="1666.50" y2="796.35" stroke="#111" stroke-width="2.2" />
<line x1="1207.00" y1="749.70" x2="1221.50" y2="749.70" stroke="#111" stroke-width="2.2" />
<line x1="1674.00" y1="749.70" x2="1659.50" y2="749.70" stroke="#111" stroke-width="2.2" />
<line x1="1207.00" y1="703.05" x2="1214.50" y2="703.05" stroke="#111" stroke-width="2.2" />
<line x1="1674.00" y1="703.05" x2="1666.50" y2="703.05" stroke="#111" stroke-width="2.2" />
<line x1="1207.00" y1="656.40" x2="1221.50" y2="656.40" stroke="#111" stroke-width="2.2" />
<line x1="1674.00" y1="656.40" x2="1659.50" y2="656.40" stroke="#111" stroke-width="2.2" />
<line x1="1207.00" y1="609.75" x2="1214.50" y2="609.75" stroke="#111" stroke-width="2.2" />
<line x1="1674.00" y1="609.75" x2="1666.50" y2="609.75" stroke="#111" stroke-width="2.2" />
<text transform="translate(1155.00,668.20) scale(1.071,1)" font-family="'Liberation Sans',Arial,sans-serif" font-size="33.71" fill="#000" >60</text>
<text transform="translate(1156.10,761.50) scale(1.040,1)" font-family="'Liberation Sans',Arial,sans-serif" font-size="33.71" fill="#000" >40</text>
<text transform="translate(1153.42,854.80) scale(1.114,1)" font-family="'Liberation Sans',Arial,sans-serif" font-size="33.71" fill="#000" >20</text>
<text transform="translate(1175.60,948.10) scale(1.038,1)" font-family="'Liberation Sans',Arial,sans-serif" font-size="33.71" fill="#000" >0</text>
<text transform="translate(1142.05,1041.40) scale(1.089,1)" font-family="'Liberation Sans',Arial,sans-serif" font-size="33.71" fill="#000" >-20</text>
<text transform="translate(1205.14,1115.50)" font-family="'Liberation Sans',Arial,sans-serif" font-size="36.86" fill="#000" >-1.0</text>
<text transform="translate(1289.13,1115.50)" font-family="'Liberation Sans',Arial,sans-serif" font-size="36.86" fill="#000" >-0.5</text>
<text transform="translate(1380.35,1115.40) scale(0.975,1)" font-family="'Liberation Sans',Arial,sans-serif" font-size="37.29" fill="#000" >0.0</text>
<text transform="translate(1464.34,1115.40) scale(0.979,1)" font-family="'Liberation Sans',Arial,sans-serif" font-size="37.29" fill="#000" >0.5</text>
<text transform="translate(1547.00,1115.40)" font-family="'Liberation Sans',Arial,sans-serif" font-size="37.29" fill="#000" >1.0</text>
<text transform="translate(1630.99,1115.40) scale(0.991,1)" font-family="'Liberation Sans',Arial,sans-serif" font-size="37.83" fill="#000" >1.5</text>
<text transform="translate(1389.19,1154.70) scale(0.877,1)" font-family="'Liberation Sans',Arial,sans-serif" font-size="37.68" font-style="italic" fill="#000" >V</text>
<text transform="translate(1410.81,1163.00) scale(1.062,1)" font-family="'Liberation Sans',Arial,sans-serif" font-size="23.03" fill="#000" >int</text>
<text transform="translate(1442.69,1154.70) scale(1.006,1)" font-family="'Liberation Sans',Arial,sans-serif" font-size="36.55" fill="#000" >(V)</text>
<g transform="translate(1133.50,880.50) rotate(-90)"><text transform="translate(-1.26,0.00) scale(0.882,1)" font-family="'Liberation Sans',Arial,sans-serif" font-size="35.80" font-style="italic" fill="#000" >I</text></g>
<g transform="translate(1133.50,860.20) rotate(-90)"><text transform="translate(-2.18,0.00) scale(1.034,1)" font-family="'Liberation Sans',Arial,sans-serif" font-size="35.17" fill="#000" >(nA)</text></g>
<text transform="translate(1465.51,1037.50) scale(0.992,1)" font-family="'Liberation Sans',Arial,sans-serif" font-size="32.32" font-style="italic" fill="#000" >T</text>
<text transform="translate(1492.13,1037.50) scale(1.174,1)" font-family="'Liberation Sans',Arial,sans-serif" font-size="31.86" fill="#000" >= 300 K</text>
<rect x="1296.50" y="641.30" width="130.40" height="36.00" fill="#fcc95c" stroke="#111" stroke-width="2.2" />
<rect x="1295.80" y="790.30" width="131.50" height="36.50" fill="#fcc95c" stroke="#111" stroke-width="2.2" />
<text transform="translate(1327.21,670.10) scale(1.234,1)" font-family="'Liberation Sans',Arial,sans-serif" font-size="25.71" fill="#000" >Gate</text>
<text transform="translate(1327.21,819.30) scale(1.234,1)" font-family="'Liberation Sans',Arial,sans-serif" font-size="25.71" fill="#000" >Gate</text>
<line x1="1328.80" y1="689.50" x2="1395.40" y2="689.50" stroke="#0a0ae6" stroke-width="4" />
<line x1="1328.80" y1="697.60" x2="1395.40" y2="697.60" stroke="#0a0ae6" stroke-width="4" />
<line x1="1328.80" y1="705.20" x2="1395.40" y2="705.20" stroke="#0a0ae6" stroke-width="4" />
<line x1="1328.80" y1="712.90" x2="1395.40" y2="712.90" stroke="#0a0ae6" stroke-width="4" />
<line x1="1330.00" y1="756.50" x2="1396.00" y2="756.50" stroke="#f01010" stroke-width="4" />
<line x1="1330.00" y1="763.70" x2="1396.00" y2="763.70" stroke="#f01010" stroke-width="4" />
<line x1="1330.00" y1="771.80" x2="1396.00" y2="771.80" stroke="#f01010" stroke-width="4" />
<line x1="1330.00" y1="779.30" x2="1396.00" y2="779.30" stroke="#f01010" stroke-width="4" />
<line x1="1325.30" y1="719.20" x2="1397.20" y2="719.20" stroke="#111" stroke-width="2.6" stroke-dasharray="2.2 2.2"/>
<line x1="1325.30" y1="748.00" x2="1397.20" y2="748.00" stroke="#111" stroke-width="2.6" stroke-dasharray="2.2 2.2"/>
<text transform="translate(1334.71,743.00) scale(1.166,1)" font-family="'Liberation Sans',Arial,sans-serif" font-size="22.34" font-style="italic" fill="#000" >h</text>
<text transform="translate(1346.30,743.00) scale(1.135,1)" font-family="'Liberation Sans',Arial,sans-serif" font-size="23.48" fill="#000" >-BN</text>
<text transform="translate(1231.52,711.50) scale(1.015,1)" font-family="'Liberation Sans',Arial,sans-serif" font-size="36.00" fill="#1010e6" >WSe</text>
<text transform="translate(1308.26,719.60) scale(1.207,1)" font-family="'Liberation Sans',Arial,sans-serif" font-size="20.57" fill="#1010e6" >2</text>
<text transform="translate(1231.52,774.50) scale(1.015,1)" font-family="'Liberation Sans',Arial,sans-serif" font-size="36.00" fill="#f01010" >WSe</text>
<text transform="translate(1308.26,782.60) scale(1.207,1)" font-family="'Liberation Sans',Arial,sans-serif" font-size="20.57" fill="#f01010" >2</text>
<line x1="1397.00" y1="705.00" x2="1415.00" y2="705.00" stroke="#111" stroke-width="2.6" />
<circle cx="1432.60" cy="704.00" r="17.60" fill="#fff" stroke="#111" stroke-width="2.4" />
<text transform="translate(1422.50,713.50) scale(1.108,1)" font-family="'Liberation Sans',Arial,sans-serif" font-size="27.83" fill="#000" >A</text>
<polyline points="1450.20,704.00 1465.80,704.00 1465.80,729.00" fill="none" stroke="#111" stroke-width="2.6" />
<line x1="1457.60" y1="729.10" x2="1475.40" y2="729.10" stroke="#111" stroke-width="4.2" />
<line x1="1446.60" y1="740.00" x2="1485.00" y2="740.00" stroke="#111" stroke-width="4.2" />
<polyline points="1465.80,740.00 1465.80,765.50 1402.70,765.50" fill="none" stroke="#111" stroke-width="2.6" />
<text transform="translate(1475.28,777.10) scale(0.983,1)" font-family="'Liberation Sans',Arial,sans-serif" font-size="33.77" font-style="italic" fill="#000" >V</text>
<text transform="translate(1495.58,786.70) scale(1.150,1)" font-family="'Liberation Sans',Arial,sans-serif" font-size="23.03" fill="#000" >int</text>
<text transform="translate(23.81,638.40) scale(1.077,1)" font-family="'Liberation Sans',Arial,sans-serif" font-size="27.59" font-weight="bold" fill="#000" >d</text>
<linearGradient id="sig" x1="0" y1="0" x2="0" y2="1"><stop offset="0" stop-color="#7d7d7d"/><stop offset="0.8" stop-color="#7d7d7d"/><stop offset="1" stop-color="#fff"/></linearGradient>
<rect x="67.00" y="902.20" width="354.40" height="68.00" fill="url(#sig)" stroke="none" stroke-width="1" />
<line x1="67.00" y1="902.00" x2="67.00" y2="962.00" stroke="#111" stroke-width="2" />
<line x1="421.40" y1="902.00" x2="421.40" y2="962.00" stroke="#111" stroke-width="2" />
<rect x="67.00" y="869.50" width="354.40" height="32.70" fill="#d9d9d9" stroke="#111" stroke-width="2" />
<rect x="74.60" y="704.00" width="341.90" height="165.50" fill="#c6e0b4" stroke="#111" stroke-width="2" />
<rect x="94.30" y="821.90" width="303.50" height="47.60" fill="#c6e0b4" stroke="#111" stroke-width="2" />
<rect x="147.50" y="640.80" width="197.80" height="63.20" fill="#fbd462" stroke="#111" stroke-width="2" />
<rect x="139.80" y="806.90" width="216.20" height="13.90" fill="#f4b183" stroke="#111" stroke-width="1.2" />
<rect x="184.40" y="790.80" width="112.60" height="30.00" fill="#00a650" stroke="none" stroke-width="1" />
<polygon points="155.50,788.70 219.80,788.70 219.80,772.60 273.40,772.60 273.40,789.70 234.80,789.70 234.80,804.80 155.50,804.80" fill="#8eaadb" stroke="#0a0aff" stroke-width="3.6" stroke-linejoin="miter"/>
<polygon points="246.60,820.20 246.60,805.80 297.00,805.80 297.00,789.70 339.90,789.70 339.90,806.90 312.00,806.90 312.00,820.20" fill="#f7b9b9" stroke="#ff0a0a" stroke-width="3.6" />
<rect x="119.00" y="795.10" width="20.80" height="25.70" fill="#fbd462" stroke="#111" stroke-width="1.6" />
<rect x="356.00" y="795.10" width="20.80" height="25.70" fill="#fbd462" stroke="#111" stroke-width="1.6" />
<line x1="244.00" y1="764.00" x2="244.00" y2="797.30" stroke="#111" stroke-width="2.6" stroke-dasharray="2.2 2.4"/>
<line x1="186.60" y1="819.80" x2="269.10" y2="841.20" stroke="#111" stroke-width="2.4" stroke-dasharray="2.2 2.6"/>
<line x1="163.00" y1="813.30" x2="180.00" y2="818.70" stroke="#111" stroke-width="2.4" stroke-dasharray="2.2 2.6"/>
<line x1="333.50" y1="816.60" x2="323.80" y2="835.90" stroke="#111" stroke-width="2.4" stroke-dasharray="2.2 2.6"/>
<line x1="143.70" y1="753.30" x2="201.21" y2="779.80" stroke="#0a0aff" stroke-width="2.8" /><polygon points="211.20,784.40 196.67,784.86 202.12,780.22 202.11,773.06" fill="#0a0aff" stroke="none" stroke-width="1" />
<line x1="330.70" y1="760.80" x2="321.84" y2="776.00" stroke="#ff0a0a" stroke-width="2.8" /><polygon points="316.30,785.50 317.23,771.00 321.34,776.86 328.46,777.54" fill="#ff0a0a" stroke="none" stroke-width="1" />
<text transform="translate(163.00,667.50) scale(1.044,1)" font-family="'Liberation Sans',Arial,sans-serif" font-size="24.14" fill="#000" >Au/Cr</text>
<text transform="translate(146.14,694.00) scale(0.801,1)" font-family="'Liberation Sans',Arial,sans-serif" font-size="28.28" fill="#000" >(</text>
<text transform="translate(158.93,692.00) scale(1.139,1)" font-family="'Liberation Sans',Arial,sans-serif" font-size="22.76" fill="#000" >Drain-side gate</text>
<text transform="translate(336.39,694.00) scale(0.801,1)" font-family="'Liberation Sans',Arial,sans-serif" font-size="28.28" fill="#000" >)</text>
<text transform="translate(79.90,726.50)" font-family="'Liberation Sans',Arial,sans-serif" font-size="24.93" fill="#000" >Top </text>
<text transform="translate(131.15,726.50) scale(0.979,1)" font-family="'Liberation Sans',Arial,sans-serif" font-size="23.72" font-style="italic" fill="#000" >h</text>
<text transform="translate(141.77,726.50) scale(1.097,1)" font-family="'Liberation Sans',Arial,sans-serif" font-size="24.93" fill="#000" >-BN</text>
<text transform="translate(209.78,729.70) scale(1.047,1)" font-family="'Liberation Sans',Arial,sans-serif" font-size="26.62" font-style="italic" fill="#000" >h</text>
<text transform="translate(223.15,729.70) scale(1.074,1)" font-family="'Liberation Sans',Arial,sans-serif" font-size="27.97" fill="#000" >-BN</text>
<text transform="translate(208.36,755.40) scale(1.030,1)" font-family="'Liberation Sans',Arial,sans-serif" font-size="27.45" fill="#000" >barrier</text>
<text transform="translate(28.17,756.30) scale(1.060,1)" font-family="'Liberation Sans',Arial,sans-serif" font-size="29.10" font-weight="bold" fill="#1a1aff" >d-WSe</text>
<text transform="translate(122.58,762.00) scale(1.312,1)" font-family="'Liberation Sans',Arial,sans-serif" font-size="20.00" font-weight="bold" fill="#1a1aff" >2</text>
<text transform="translate(303.42,755.10) scale(1.043,1)" font-family="'Liberation Sans',Arial,sans-serif" font-size="29.71" font-weight="bold" fill="#ff0a0a" >s-WSe</text>
<text transform="translate(396.62,759.80) scale(1.379,1)" font-family="'Liberation Sans',Arial,sans-serif" font-size="18.29" font-weight="bold" fill="#ff0a0a" >2</text>
<text transform="translate(80.40,787.60) scale(1.144,1)" font-family="'Liberation Sans',Arial,sans-serif" font-size="22.21" fill="#000" >Au/Pd</text>
<text transform="translate(99.81,860.50)" font-family="'Liberation Sans',Arial,sans-serif" font-size="24.93" fill="#000" >Bottom </text>
<text transform="translate(188.34,860.50)" font-family="'Liberation Sans',Arial,sans-serif" font-size="23.72" font-style="italic" fill="#000" >h</text>
<text transform="translate(199.26,860.50) scale(1.107,1)" font-family="'Liberation Sans',Arial,sans-serif" font-size="24.93" fill="#000" >-BN</text>
<text transform="translate(269.54,857.30) scale(1.296,1)" font-family="'Liberation Sans',Arial,sans-serif" font-size="20.93" fill="#000" >p</text>
<text transform="translate(283.83,846.00) scale(1.036,1)" font-family="'Liberation Sans',Arial,sans-serif" font-size="12.93" fill="#000" >+</text>
<text transform="translate(290.29,857.30) scale(1.084,1)" font-family="'Liberation Sans',Arial,sans-serif" font-size="24.71" fill="#000" >-MoS</text>
<text transform="translate(352.40,862.00) scale(1.231,1)" font-family="'Liberation Sans',Arial,sans-serif" font-size="17.86" fill="#000" >2</text>
<text transform="translate(77.11,891.70) scale(1.103,1)" font-family="'Liberation Sans',Arial,sans-serif" font-size="24.00" fill="#000" >SiO</text>
<text transform="translate(119.38,895.60) scale(1.305,1)" font-family="'Liberation Sans',Arial,sans-serif" font-size="14.14" fill="#000" >2</text>
<text transform="translate(76.26,924.80) scale(1.122,1)" font-family="'Liberation Sans',Arial,sans-serif" font-size="22.76" fill="#fff" >Doped Si substrate</text>
<text transform="translate(79.63,957.50) scale(0.851,1)" font-family="'Liberation Sans',Arial,sans-serif" font-size="24.83" fill="#fff" >(</text>
<text transform="translate(89.86,955.60) scale(1.182,1)" font-family="'Liberation Sans',Arial,sans-serif" font-size="21.52" fill="#fff" >Source-side gate</text>
<text transform="translate(283.89,957.50) scale(0.851,1)" font-family="'Liberation Sans',Arial,sans-serif" font-size="24.83" fill="#fff" >)</text>
<polyline points="129.70,807.50 27.80,807.50 27.80,822.60" fill="none" stroke="#111" stroke-width="3" />
<circle cx="27.80" cy="847.60" r="25.00" fill="#fff" stroke="#111" stroke-width="3" />
<text transform="translate(14.50,862.00) scale(0.983,1)" font-family="'Liberation Sans',Arial,sans-serif" font-size="41.30" fill="#000" >A</text>
<line x1="27.80" y1="872.60" x2="27.80" y2="896.60" stroke="#111" stroke-width="3" />
<line x1="5.20" y1="896.60" x2="51.30" y2="896.60" stroke="#111" stroke-width="3.6" />
<line x1="13.00" y1="906.50" x2="43.50" y2="906.50" stroke="#111" stroke-width="3.4" />
<line x1="20.90" y1="917.00" x2="34.80" y2="917.00" stroke="#111" stroke-width="3.2" />
<line x1="366.70" y1="807.50" x2="467.80" y2="807.50" stroke="#111" stroke-width="3" />
<line x1="335.80" y1="660.80" x2="467.80" y2="660.80" stroke="#111" stroke-width="3" />
<line x1="414.30" y1="915.80" x2="467.80" y2="915.80" stroke="#111" stroke-width="3" />
<line x1="468.50" y1="637.80" x2="468.50" y2="683.80" stroke="#111" stroke-width="4.2" />
<line x1="481.00" y1="650.80" x2="481.00" y2="670.80" stroke="#111" stroke-width="6" />
<line x1="481.00" y1="660.80" x2="514.00" y2="660.80" stroke="#111" stroke-width="3" />
<line x1="468.50" y1="784.50" x2="468.50" y2="830.50" stroke="#111" stroke-width="4.2" />
<line x1="481.00" y1="797.50" x2="481.00" y2="817.50" stroke="#111" stroke-width="6" />
<line x1="481.00" y1="807.50" x2="514.00" y2="807.50" stroke="#111" stroke-width="3" />
<line x1="468.50" y1="892.80" x2="468.50" y2="938.80" stroke="#111" stroke-width="4.2" />
<line x1="481.00" y1="905.80" x2="481.00" y2="925.80" stroke="#111" stroke-width="6" />
<line x1="481.00" y1="915.80" x2="514.00" y2="915.80" stroke="#111" stroke-width="3" />
<line x1="514.00" y1="659.30" x2="514.00" y2="947.50" stroke="#111" stroke-width="3" />
<line x1="492.00" y1="947.50" x2="537.00" y2="947.50" stroke="#111" stroke-width="4" />
<line x1="500.50" y1="957.50" x2="528.50" y2="957.50" stroke="#111" stroke-width="3.8" />
<line x1="507.50" y1="967.50" x2="521.50" y2="967.50" stroke="#111" stroke-width="3.6" />
<text transform="translate(455.60,623.40) scale(1.020,1)" font-family="'Liberation Sans',Arial,sans-serif" font-size="24.20" font-style="italic" fill="#000" >V</text>
<text transform="translate(473.25,629.00)" font-family="'Liberation Sans',Arial,sans-serif" font-size="18.62" fill="#000" >dg</text>
<text transform="translate(450.60,767.00) scale(1.020,1)" font-family="'Liberation Sans',Arial,sans-serif" font-size="24.20" font-style="italic" fill="#000" >V</text>
<text transform="translate(467.65,772.60) scale(1.033,1)" font-family="'Liberation Sans',Arial,sans-serif" font-size="20.14" fill="#000" >int</text>
<text transform="translate(452.30,877.30) scale(1.020,1)" font-family="'Liberation Sans',Arial,sans-serif" font-size="24.20" font-style="italic" fill="#000" >V</text>
<text transform="translate(470.11,882.90) scale(0.782,1)" font-family="'Liberation Sans',Arial,sans-serif" font-size="25.05" fill="#000" >sg</text>
<text transform="translate(555.28,626.00) scale(1.190,1)" font-family="'Liberation Sans',Arial,sans-serif" font-size="25.56" font-weight="bold" fill="#000" >e</text>
<text transform="translate(586.81,635.70) scale(1.090,1)" font-family="'Liberation Sans',Arial,sans-serif" font-size="30.21" font-style="italic" fill="#000" >h</text>
<text transform="translate(602.00,635.70) scale(1.122,1)" font-family="'Liberation Sans',Arial,sans-serif" font-size="31.74" fill="#000" >-BN</text>
<text transform="translate(790.77,637.40) scale(1.084,1)" font-family="'Liberation Sans',Arial,sans-serif" font-size="32.41" font-style="italic" fill="#000" >h</text>
<text transform="translate(807.15,637.40) scale(1.009,1)" font-family="'Liberation Sans',Arial,sans-serif" font-size="34.06" fill="#000" >-BN</text>
<text transform="translate(995.18,633.00) scale(1.121,1)" font-family="'Liberation Sans',Arial,sans-serif" font-size="31.17" font-style="italic" fill="#000" >h</text>
<text transform="translate(1011.43,633.00) scale(1.066,1)" font-family="'Liberation Sans',Arial,sans-serif" font-size="32.75" fill="#000" >-BN</text>
<line x1="593.00" y1="661.70" x2="593.00" y2="759.80" stroke="#e060d0" stroke-width="2.4" /><line x1="593.00" y1="663.70" x2="593.00" y2="757.80" stroke="#4040e8" stroke-width="2.4" stroke-dasharray="3 4.2"/>
<line x1="611.20" y1="654.40" x2="611.20" y2="751.80" stroke="#e060d0" stroke-width="2.4" /><line x1="611.20" y1="656.40" x2="611.20" y2="749.80" stroke="#4040e8" stroke-width="2.4" stroke-dasharray="3 4.2"/>
<line x1="629.20" y1="661.70" x2="629.20" y2="759.80" stroke="#e060d0" stroke-width="2.4" /><line x1="629.20" y1="663.70" x2="629.20" y2="757.80" stroke="#4040e8" stroke-width="2.4" stroke-dasharray="3 4.2"/>
<line x1="647.40" y1="654.40" x2="647.40" y2="751.80" stroke="#e060d0" stroke-width="2.4" /><line x1="647.40" y1="656.40" x2="647.40" y2="749.80" stroke="#4040e8" stroke-width="2.4" stroke-dasharray="3 4.2"/>
<line x1="798.30" y1="661.70" x2="798.30" y2="759.80" stroke="#e060d0" stroke-width="2.4" /><line x1="798.30" y1="663.70" x2="798.30" y2="757.80" stroke="#4040e8" stroke-width="2.4" stroke-dasharray="3 4.2"/>
<line x1="816.90" y1="654.40" x2="816.90" y2="751.80" stroke="#e060d0" stroke-width="2.4" /><line x1="816.90" y1="656.40" x2="816.90" y2="749.80" stroke="#4040e8" stroke-width="2.4" stroke-dasharray="3 4.2"/>
<line x1="834.80" y1="661.70" x2="834.80" y2="759.80" stroke="#e060d0" stroke-width="2.4" /><line x1="834.80" y1="663.70" x2="834.80" y2="757.80" stroke="#4040e8" stroke-width="2.4" stroke-dasharray="3 4.2"/>
<line x1="853.00" y1="654.40" x2="853.00" y2="751.80" stroke="#e060d0" stroke-width="2.4" /><line x1="853.00" y1="656.40" x2="853.00" y2="749.80" stroke="#4040e8" stroke-width="2.4" stroke-dasharray="3 4.2"/>
<line x1="1003.10" y1="661.70" x2="1003.10" y2="759.80" stroke="#e060d0" stroke-width="2.4" /><line x1="1003.10" y1="663.70" x2="1003.10" y2="757.80" stroke="#4040e8" stroke-width="2.4" stroke-dasharray="3 4.2"/>
<line x1="1021.40" y1="654.40" x2="1021.40" y2="751.80" stroke="#e060d0" stroke-width="2.4" /><line x1="1021.40" y1="656.40" x2="1021.40" y2="749.80" stroke="#4040e8" stroke-width="2.4" stroke-dasharray="3 4.2"/>
<line x1="1039.50" y1="661.70" x2="1039.50" y2="759.80" stroke="#e060d0" stroke-width="2.4" /><line x1="1039.50" y1="663.70" x2="1039.50" y2="757.80" stroke="#4040e8" stroke-width="2.4" stroke-dasharray="3 4.2"/>
<line x1="1057.90" y1="654.40" x2="1057.90" y2="751.80" stroke="#e060d0" stroke-width="2.4" /><line x1="1057.90" y1="656.40" x2="1057.90" y2="749.80" stroke="#4040e8" stroke-width="2.4" stroke-dasharray="3 4.2"/>
<line x1="673.70" y1="671.30" x2="664.90" y2="666.00" stroke="#5f8f7f" stroke-width="1.3" /><line x1="673.70" y1="671.30" x2="682.50" y2="666.00" stroke="#5f8f7f" stroke-width="1.3" /><line x1="673.70" y1="671.30" x2="664.90" y2="680.50" stroke="#5f8f7f" stroke-width="1.3" /><line x1="673.70" y1="671.30" x2="682.50" y2="680.50" stroke="#5f8f7f" stroke-width="1.3" /><line x1="673.70" y1="685.80" x2="664.90" y2="680.50" stroke="#5f8f7f" stroke-width="1.3" /><line x1="673.70" y1="685.80" x2="682.50" y2="680.50" stroke="#5f8f7f" stroke-width="1.3" /><line x1="673.70" y1="685.80" x2="664.90" y2="695.00" stroke="#5f8f7f" stroke-width="1.3" /><line x1="673.70" y1="685.80" x2="682.50" y2="695.00" stroke="#5f8f7f" stroke-width="1.3" /><line x1="673.70" y1="700.30" x2="664.90" y2="695.00" stroke="#5f8f7f" stroke-width="1.3" /><line x1="673.70" y1="700.30" x2="682.50" y2="695.00" stroke="#5f8f7f" stroke-width="1.3" /><line x1="673.70" y1="700.30" x2="664.90" y2="709.50" stroke="#5f8f7f" stroke-width="1.3" /><line x1="673.70" y1="700.30" x2="682.50" y2="709.50" stroke="#5f8f7f" stroke-width="1.3" /><line x1="673.70" y1="714.80" x2="664.90" y2="709.50" stroke="#5f8f7f" stroke-width="1.3" /><line x1="673.70" y1="714.80" x2="682.50" y2="709.50" stroke="#5f8f7f" stroke-width="1.3" /><line x1="673.70" y1="714.80" x2="664.90" y2="724.00" stroke="#5f8f7f" stroke-width="1.3" /><line x1="673.70" y1="714.80" x2="682.50" y2="724.00" stroke="#5f8f7f" stroke-width="1.3" /><line x1="673.70" y1="729.30" x2="664.90" y2="724.00" stroke="#5f8f7f" stroke-width="1.3" /><line x1="673.70" y1="729.30" x2="682.50" y2="724.00" stroke="#5f8f7f" stroke-width="1.3" /><line x1="673.70" y1="729.30" x2="664.90" y2="738.50" stroke="#5f8f7f" stroke-width="1.3" /><line x1="673.70" y1="729.30" x2="682.50" y2="738.50" stroke="#5f8f7f" stroke-width="1.3" /><line x1="673.70" y1="743.80" x2="664.90" y2="738.50" stroke="#5f8f7f" stroke-width="1.3" /><line x1="673.70" y1="743.80" x2="682.50" y2="738.50" stroke="#5f8f7f" stroke-width="1.3" /><line x1="673.70" y1="743.80" x2="664.90" y2="753.00" stroke="#5f8f7f" stroke-width="1.3" /><line x1="673.70" y1="743.80" x2="682.50" y2="753.00" stroke="#5f8f7f" stroke-width="1.3" /><circle cx="664.90" cy="666.00" r="2.30" fill="#36a57e" stroke="none" stroke-width="1" /><circle cx="682.50" cy="666.00" r="2.30" fill="#36a57e" stroke="none" stroke-width="1" /><circle cx="664.90" cy="680.50" r="2.30" fill="#36a57e" stroke="none" stroke-width="1" /><circle cx="682.50" cy="680.50" r="2.30" fill="#36a57e" stroke="none" stroke-width="1" /><circle cx="664.90" cy="695.00" r="2.30" fill="#36a57e" stroke="none" stroke-width="1" /><circle cx="682.50" cy="695.00" r="2.30" fill="#36a57e" stroke="none" stroke-width="1" /><circle cx="664.90" cy="709.50" r="2.30" fill="#36a57e" stroke="none" stroke-width="1" /><circle cx="682.50" cy="709.50" r="2.30" fill="#36a57e" stroke="none" stroke-width="1" /><circle cx="664.90" cy="724.00" r="2.30" fill="#36a57e" stroke="none" stroke-width="1" /><circle cx="682.50" cy="724.00" r="2.30" fill="#36a57e" stroke="none" stroke-width="1" /><circle cx="664.90" cy="738.50" r="2.30" fill="#36a57e" stroke="none" stroke-width="1" /><circle cx="682.50" cy="738.50" r="2.30" fill="#36a57e" stroke="none" stroke-width="1" /><circle cx="664.90" cy="753.00" r="2.30" fill="#36a57e" stroke="none" stroke-width="1" /><circle cx="682.50" cy="753.00" r="2.30" fill="#36a57e" stroke="none" stroke-width="1" /><circle cx="673.70" cy="671.30" r="3.00" fill="#7d7478" stroke="none" stroke-width="1" /><circle cx="673.70" cy="685.80" r="3.00" fill="#7d7478" stroke="none" stroke-width="1" /><circle cx="673.70" cy="700.30" r="3.00" fill="#7d7478" stroke="none" stroke-width="1" /><circle cx="673.70" cy="714.80" r="3.00" fill="#7d7478" stroke="none" stroke-width="1" /><circle cx="673.70" cy="729.30" r="3.00" fill="#7d7478" stroke="none" stroke-width="1" /><circle cx="673.70" cy="743.80" r="3.00" fill="#7d7478" stroke="none" stroke-width="1" />
<line x1="706.60" y1="666.60" x2="697.80" y2="656.50" stroke="#5f8f7f" stroke-width="1.3" /><line x1="706.60" y1="666.60" x2="715.40" y2="656.50" stroke="#5f8f7f" stroke-width="1.3" /><line x1="706.60" y1="666.60" x2="697.80" y2="671.00" stroke="#5f8f7f" stroke-width="1.3" /><line x1="706.60" y1="666.60" x2="715.40" y2="671.00" stroke="#5f8f7f" stroke-width="1.3" /><line x1="706.60" y1="681.10" x2="697.80" y2="671.00" stroke="#5f8f7f" stroke-width="1.3" /><line x1="706.60" y1="681.10" x2="715.40" y2="671.00" stroke="#5f8f7f" stroke-width="1.3" /><line x1="706.60" y1="681.10" x2="697.80" y2="685.50" stroke="#5f8f7f" stroke-width="1.3" /><line x1="706.60" y1="681.10" x2="715.40" y2="685.50" stroke="#5f8f7f" stroke-width="1.3" /><line x1="706.60" y1="695.60" x2="697.80" y2="685.50" stroke="#5f8f7f" stroke-width="1.3" /><line x1="706.60" y1="695.60" x2="715.40" y2="685.50" stroke="#5f8f7f" stroke-width="1.3" /><line x1="706.60" y1="695.60" x2="697.80" y2="700.00" stroke="#5f8f7f" stroke-width="1.3" /><line x1="706.60" y1="695.60" x2="715.40" y2="700.00" stroke="#5f8f7f" stroke-width="1.3" /><line x1="706.60" y1="710.10" x2="697.80" y2="700.00" stroke="#5f8f7f" stroke-width="1.3" /><line x1="706.60" y1="710.10" x2="715.40" y2="700.00" stroke="#5f8f7f" stroke-width="1.3" /><line x1="706.60" y1="710.10" x2="697.80" y2="714.50" stroke="#5f8f7f" stroke-width="1.3" /><line x1="706.60" y1="710.10" x2="715.40" y2="714.50" stroke="#5f8f7f" stroke-width="1.3" /><line x1="706.60" y1="724.60" x2="697.80" y2="714.50" stroke="#5f8f7f" stroke-width="1.3" /><line x1="706.60" y1="724.60" x2="715.40" y2="714.50" stroke="#5f8f7f" stroke-width="1.3" /><line x1="706.60" y1="724.60" x2="697.80" y2="729.00" stroke="#5f8f7f" stroke-width="1.3" /><line x1="706.60" y1="724.60" x2="715.40" y2="729.00" stroke="#5f8f7f" stroke-width="1.3" /><line x1="706.60" y1="739.10" x2="697.80" y2="729.00" stroke="#5f8f7f" stroke-width="1.3" /><line x1="706.60" y1="739.10" x2="715.40" y2="729.00" stroke="#5f8f7f" stroke-width="1.3" /><line x1="706.60" y1="739.10" x2="697.80" y2="743.50" stroke="#5f8f7f" stroke-width="1.3" /><line x1="706.60" y1="739.10" x2="715.40" y2="743.50" stroke="#5f8f7f" stroke-width="1.3" /><circle cx="697.80" cy="656.50" r="2.30" fill="#36a57e" stroke="none" stroke-width="1" /><circle cx="715.40" cy="656.50" r="2.30" fill="#36a57e" stroke="none" stroke-width="1" /><circle cx="697.80" cy="671.00" r="2.30" fill="#36a57e" stroke="none" stroke-width="1" /><circle cx="715.40" cy="671.00" r="2.30" fill="#36a57e" stroke="none" stroke-width="1" /><circle cx="697.80" cy="685.50" r="2.30" fill="#36a57e" stroke="none" stroke-width="1" /><circle cx="715.40" cy="685.50" r="2.30" fill="#36a57e" stroke="none" stroke-width="1" /><circle cx="697.80" cy="700.00" r="2.30" fill="#36a57e" stroke="none" stroke-width="1" /><circle cx="715.40" cy="700.00" r="2.30" fill="#36a57e" stroke="none" stroke-width="1" /><circle cx="697.80" cy="714.50" r="2.30" fill="#36a57e" stroke="none" stroke-width="1" /><circle cx="715.40" cy="714.50" r="2.30" fill="#36a57e" stroke="none" stroke-width="1" /><circle cx="697.80" cy="729.00" r="2.30" fill="#36a57e" stroke="none" stroke-width="1" /><circle cx="715.40" cy="729.00" r="2.30" fill="#36a57e" stroke="none" stroke-width="1" /><circle cx="697.80" cy="743.50" r="2.30" fill="#36a57e" stroke="none" stroke-width="1" /><circle cx="715.40" cy="743.50" r="2.30" fill="#36a57e" stroke="none" stroke-width="1" /><circle cx="706.60" cy="666.60" r="3.00" fill="#7d7478" stroke="none" stroke-width="1" /><circle cx="706.60" cy="681.10" r="3.00" fill="#7d7478" stroke="none" stroke-width="1" /><circle cx="706.60" cy="695.60" r="3.00" fill="#7d7478" stroke="none" stroke-width="1" /><circle cx="706.60" cy="710.10" r="3.00" fill="#7d7478" stroke="none" stroke-width="1" /><circle cx="706.60" cy="724.60" r="3.00" fill="#7d7478" stroke="none" stroke-width="1" /><circle cx="706.60" cy="739.10" r="3.00" fill="#7d7478" stroke="none" stroke-width="1" />
<line x1="739.10" y1="671.30" x2="730.30" y2="666.00" stroke="#5f8f7f" stroke-width="1.3" /><line x1="739.10" y1="671.30" x2="747.90" y2="666.00" stroke="#5f8f7f" stroke-width="1.3" /><line x1="739.10" y1="671.30" x2="730.30" y2="680.50" stroke="#5f8f7f" stroke-width="1.3" /><line x1="739.10" y1="671.30" x2="747.90" y2="680.50" stroke="#5f8f7f" stroke-width="1.3" /><line x1="739.10" y1="685.80" x2="730.30" y2="680.50" stroke="#5f8f7f" stroke-width="1.3" /><line x1="739.10" y1="685.80" x2="747.90" y2="680.50" stroke="#5f8f7f" stroke-width="1.3" /><line x1="739.10" y1="685.80" x2="730.30" y2="695.00" stroke="#5f8f7f" stroke-width="1.3" /><line x1="739.10" y1="685.80" x2="747.90" y2="695.00" stroke="#5f8f7f" stroke-width="1.3" /><line x1="739.10" y1="700.30" x2="730.30" y2="695.00" stroke="#5f8f7f" stroke-width="1.3" /><line x1="739.10" y1="700.30" x2="747.90" y2="695.00" stroke="#5f8f7f" stroke-width="1.3" /><line x1="739.10" y1="700.30" x2="730.30" y2="709.50" stroke="#5f8f7f" stroke-width="1.3" /><line x1="739.10" y1="700.30" x2="747.90" y2="709.50" stroke="#5f8f7f" stroke-width="1.3" /><line x1="739.10" y1="714.80" x2="730.30" y2="709.50" stroke="#5f8f7f" stroke-width="1.3" /><line x1="739.10" y1="714.80" x2="747.90" y2="709.50" stroke="#5f8f7f" stroke-width="1.3" /><line x1="739.10" y1="714.80" x2="730.30" y2="724.00" stroke="#5f8f7f" stroke-width="1.3" /><line x1="739.10" y1="714.80" x2="747.90" y2="724.00" stroke="#5f8f7f" stroke-width="1.3" /><line x1="739.10" y1="729.30" x2="730.30" y2="724.00" stroke="#5f8f7f" stroke-width="1.3" /><line x1="739.10" y1="729.30" x2="747.90" y2="724.00" stroke="#5f8f7f" stroke-width="1.3" /><line x1="739.10" y1="729.30" x2="730.30" y2="738.50" stroke="#5f8f7f" stroke-width="1.3" /><line x1="739.10" y1="729.30" x2="747.90" y2="738.50" stroke="#5f8f7f" stroke-width="1.3" /><line x1="739.10" y1="743.80" x2="730.30" y2="738.50" stroke="#5f8f7f" stroke-width="1.3" /><line x1="739.10" y1="743.80" x2="747.90" y2="738.50" stroke="#5f8f7f" stroke-width="1.3" /><line x1="739.10" y1="743.80" x2="730.30" y2="753.00" stroke="#5f8f7f" stroke-width="1.3" /><line x1="739.10" y1="743.80" x2="747.90" y2="753.00" stroke="#5f8f7f" stroke-width="1.3" /><circle cx="730.30" cy="666.00" r="2.30" fill="#36a57e" stroke="none" stroke-width="1" /><circle cx="747.90" cy="666.00" r="2.30" fill="#36a57e" stroke="none" stroke-width="1" /><circle cx="730.30" cy="680.50" r="2.30" fill="#36a57e" stroke="none" stroke-width="1" /><circle cx="747.90" cy="680.50" r="2.30" fill="#36a57e" stroke="none" stroke-width="1" /><circle cx="730.30" cy="695.00" r="2.30" fill="#36a57e" stroke="none" stroke-width="1" /><circle cx="747.90" cy="695.00" r="2.30" fill="#36a57e" stroke="none" stroke-width="1" /><circle cx="730.30" cy="709.50" r="2.30" fill="#36a57e" stroke="none" stroke-width="1" /><circle cx="747.90" cy="709.50" r="2.30" fill="#36a57e" stroke="none" stroke-width="1" /><circle cx="730.30" cy="724.00" r="2.30" fill="#36a57e" stroke="none" stroke-width="1" /><circle cx="747.90" cy="724.00" r="2.30" fill="#36a57e" stroke="none" stroke-width="1" /><circle cx="730.30" cy="738.50" r="2.30" fill="#36a57e" stroke="none" stroke-width="1" /><circle cx="747.90" cy="738.50" r="2.30" fill="#36a57e" stroke="none" stroke-width="1" /><circle cx="730.30" cy="753.00" r="2.30" fill="#36a57e" stroke="none" stroke-width="1" /><circle cx="747.90" cy="753.00" r="2.30" fill="#36a57e" stroke="none" stroke-width="1" /><circle cx="739.10" cy="671.30" r="3.00" fill="#7d7478" stroke="none" stroke-width="1" /><circle cx="739.10" cy="685.80" r="3.00" fill="#7d7478" stroke="none" stroke-width="1" /><circle cx="739.10" cy="700.30" r="3.00" fill="#7d7478" stroke="none" stroke-width="1" /><circle cx="739.10" cy="714.80" r="3.00" fill="#7d7478" stroke="none" stroke-width="1" /><circle cx="739.10" cy="729.30" r="3.00" fill="#7d7478" stroke="none" stroke-width="1" /><circle cx="739.10" cy="743.80" r="3.00" fill="#7d7478" stroke="none" stroke-width="1" />
<line x1="772.40" y1="666.60" x2="763.60" y2="656.50" stroke="#5f8f7f" stroke-width="1.3" /><line x1="772.40" y1="666.60" x2="781.20" y2="656.50" stroke="#5f8f7f" stroke-width="1.3" /><line x1="772.40" y1="666.60" x2="763.60" y2="671.00" stroke="#5f8f7f" stroke-width="1.3" /><line x1="772.40" y1="666.60" x2="781.20" y2="671.00" stroke="#5f8f7f" stroke-width="1.3" /><line x1="772.40" y1="681.10" x2="763.60" y2="671.00" stroke="#5f8f7f" stroke-width="1.3" /><line x1="772.40" y1="681.10" x2="781.20" y2="671.00" stroke="#5f8f7f" stroke-width="1.3" /><line x1="772.40" y1="681.10" x2="763.60" y2="685.50" stroke="#5f8f7f" stroke-width="1.3" /><line x1="772.40" y1="681.10" x2="781.20" y2="685.50" stroke="#5f8f7f" stroke-width="1.3" /><line x1="772.40" y1="695.60" x2="763.60" y2="685.50" stroke="#5f8f7f" stroke-width="1.3" /><line x1="772.40" y1="695.60" x2="781.20" y2="685.50" stroke="#5f8f7f" stroke-width="1.3" /><line x1="772.40" y1="695.60" x2="763.60" y2="700.00" stroke="#5f8f7f" stroke-width="1.3" /><line x1="772.40" y1="695.60" x2="781.20" y2="700.00" stroke="#5f8f7f" stroke-width="1.3" /><line x1="772.40" y1="710.10" x2="763.60" y2="700.00" stroke="#5f8f7f" stroke-width="1.3" /><line x1="772.40" y1="710.10" x2="781.20" y2="700.00" stroke="#5f8f7f" stroke-width="1.3" /><line x1="772.40" y1="710.10" x2="763.60" y2="714.50" stroke="#5f8f7f" stroke-width="1.3" /><line x1="772.40" y1="710.10" x2="781.20" y2="714.50" stroke="#5f8f7f" stroke-width="1.3" /><line x1="772.40" y1="724.60" x2="763.60" y2="714.50" stroke="#5f8f7f" stroke-width="1.3" /><line x1="772.40" y1="724.60" x2="781.20" y2="714.50" stroke="#5f8f7f" stroke-width="1.3" /><line x1="772.40" y1="724.60" x2="763.60" y2="729.00" stroke="#5f8f7f" stroke-width="1.3" /><line x1="772.40" y1="724.60" x2="781.20" y2="729.00" stroke="#5f8f7f" stroke-width="1.3" /><line x1="772.40" y1="739.10" x2="763.60" y2="729.00" stroke="#5f8f7f" stroke-width="1.3" /><line x1="772.40" y1="739.10" x2="781.20" y2="729.00" stroke="#5f8f7f" stroke-width="1.3" /><line x1="772.40" y1="739.10" x2="763.60" y2="743.50" stroke="#5f8f7f" stroke-width="1.3" /><line x1="772.40" y1="739.10" x2="781.20" y2="743.50" stroke="#5f8f7f" stroke-width="1.3" /><circle cx="763.60" cy="656.50" r="2.30" fill="#36a57e" stroke="none" stroke-width="1" /><circle cx="781.20" cy="656.50" r="2.30" fill="#36a57e" stroke="none" stroke-width="1" /><circle cx="763.60" cy="671.00" r="2.30" fill="#36a57e" stroke="none" stroke-width="1" /><circle cx="781.20" cy="671.00" r="2.30" fill="#36a57e" stroke="none" stroke-width="1" /><circle cx="763.60" cy="685.50" r="2.30" fill="#36a57e" stroke="none" stroke-width="1" /><circle cx="781.20" cy="685.50" r="2.30" fill="#36a57e" stroke="none" stroke-width="1" /><circle cx="763.60" cy="700.00" r="2.30" fill="#36a57e" stroke="none" stroke-width="1" /><circle cx="781.20" cy="700.00" r="2.30" fill="#36a57e" stroke="none" stroke-width="1" /><circle cx="763.60" cy="714.50" r="2.30" fill="#36a57e" stroke="none" stroke-width="1" /><circle cx="781.20" cy="714.50" r="2.30" fill="#36a57e" stroke="none" stroke-width="1" /><circle cx="763.60" cy="729.00" r="2.30" fill="#36a57e" stroke="none" stroke-width="1" /><circle cx="781.20" cy="729.00" r="2.30" fill="#36a57e" stroke="none" stroke-width="1" /><circle cx="763.60" cy="743.50" r="2.30" fill="#36a57e" stroke="none" stroke-width="1" /><circle cx="781.20" cy="743.50" r="2.30" fill="#36a57e" stroke="none" stroke-width="1" /><circle cx="772.40" cy="666.60" r="3.00" fill="#7d7478" stroke="none" stroke-width="1" /><circle cx="772.40" cy="681.10" r="3.00" fill="#7d7478" stroke="none" stroke-width="1" /><circle cx="772.40" cy="695.60" r="3.00" fill="#7d7478" stroke="none" stroke-width="1" /><circle cx="772.40" cy="710.10" r="3.00" fill="#7d7478" stroke="none" stroke-width="1" /><circle cx="772.40" cy="724.60" r="3.00" fill="#7d7478" stroke="none" stroke-width="1" /><circle cx="772.40" cy="739.10" r="3.00" fill="#7d7478" stroke="none" stroke-width="1" />
<line x1="877.40" y1="671.30" x2="868.60" y2="666.00" stroke="#5f8f7f" stroke-width="1.3" /><line x1="877.40" y1="671.30" x2="886.20" y2="666.00" stroke="#5f8f7f" stroke-width="1.3" /><line x1="877.40" y1="671.30" x2="868.60" y2="680.50" stroke="#5f8f7f" stroke-width="1.3" /><line x1="877.40" y1="671.30" x2="886.20" y2="680.50" stroke="#5f8f7f" stroke-width="1.3" /><line x1="877.40" y1="685.80" x2="868.60" y2="680.50" stroke="#5f8f7f" stroke-width="1.3" /><line x1="877.40" y1="685.80" x2="886.20" y2="680.50" stroke="#5f8f7f" stroke-width="1.3" /><line x1="877.40" y1="685.80" x2="868.60" y2="695.00" stroke="#5f8f7f" stroke-width="1.3" /><line x1="877.40" y1="685.80" x2="886.20" y2="695.00" stroke="#5f8f7f" stroke-width="1.3" /><line x1="877.40" y1="700.30" x2="868.60" y2="695.00" stroke="#5f8f7f" stroke-width="1.3" /><line x1="877.40" y1="700.30" x2="886.20" y2="695.00" stroke="#5f8f7f" stroke-width="1.3" /><line x1="877.40" y1="700.30" x2="868.60" y2="709.50" stroke="#5f8f7f" stroke-width="1.3" /><line x1="877.40" y1="700.30" x2="886.20" y2="709.50" stroke="#5f8f7f" stroke-width="1.3" /><line x1="877.40" y1="714.80" x2="868.60" y2="709.50" stroke="#5f8f7f" stroke-width="1.3" /><line x1="877.40" y1="714.80" x2="886.20" y2="709.50" stroke="#5f8f7f" stroke-width="1.3" /><line x1="877.40" y1="714.80" x2="868.60" y2="724.00" stroke="#5f8f7f" stroke-width="1.3" /><line x1="877.40" y1="714.80" x2="886.20" y2="724.00" stroke="#5f8f7f" stroke-width="1.3" /><line x1="877.40" y1="729.30" x2="868.60" y2="724.00" stroke="#5f8f7f" stroke-width="1.3" /><line x1="877.40" y1="729.30" x2="886.20" y2="724.00" stroke="#5f8f7f" stroke-width="1.3" /><line x1="877.40" y1="729.30" x2="868.60" y2="738.50" stroke="#5f8f7f" stroke-width="1.3" /><line x1="877.40" y1="729.30" x2="886.20" y2="738.50" stroke="#5f8f7f" stroke-width="1.3" /><line x1="877.40" y1="743.80" x2="868.60" y2="738.50" stroke="#5f8f7f" stroke-width="1.3" /><line x1="877.40" y1="743.80" x2="886.20" y2="738.50" stroke="#5f8f7f" stroke-width="1.3" /><line x1="877.40" y1="743.80" x2="868.60" y2="753.00" stroke="#5f8f7f" stroke-width="1.3" /><line x1="877.40" y1="743.80" x2="886.20" y2="753.00" stroke="#5f8f7f" stroke-width="1.3" /><circle cx="868.60" cy="666.00" r="2.30" fill="#36a57e" stroke="none" stroke-width="1" /><circle cx="886.20" cy="666.00" r="2.30" fill="#36a57e" stroke="none" stroke-width="1" /><circle cx="868.60" cy="680.50" r="2.30" fill="#36a57e" stroke="none" stroke-width="1" /><circle cx="886.20" cy="680.50" r="2.30" fill="#36a57e" stroke="none" stroke-width="1" /><circle cx="868.60" cy="695.00" r="2.30" fill="#36a57e" stroke="none" stroke-width="1" /><circle cx="886.20" cy="695.00" r="2.30" fill="#36a57e" stroke="none" stroke-width="1" /><circle cx="868.60" cy="709.50" r="2.30" fill="#36a57e" stroke="none" stroke-width="1" /><circle cx="886.20" cy="709.50" r="2.30" fill="#36a57e" stroke="none" stroke-width="1" /><circle cx="868.60" cy="724.00" r="2.30" fill="#36a57e" stroke="none" stroke-width="1" /><circle cx="886.20" cy="724.00" r="2.30" fill="#36a57e" stroke="none" stroke-width="1" /><circle cx="868.60" cy="738.50" r="2.30" fill="#36a57e" stroke="none" stroke-width="1" /><circle cx="886.20" cy="738.50" r="2.30" fill="#36a57e" stroke="none" stroke-width="1" /><circle cx="868.60" cy="753.00" r="2.30" fill="#36a57e" stroke="none" stroke-width="1" /><circle cx="886.20" cy="753.00" r="2.30" fill="#36a57e" stroke="none" stroke-width="1" /><circle cx="877.40" cy="671.30" r="3.00" fill="#7d7478" stroke="none" stroke-width="1" /><circle cx="877.40" cy="685.80" r="3.00" fill="#7d7478" stroke="none" stroke-width="1" /><circle cx="877.40" cy="700.30" r="3.00" fill="#7d7478" stroke="none" stroke-width="1" /><circle cx="877.40" cy="714.80" r="3.00" fill="#7d7478" stroke="none" stroke-width="1" /><circle cx="877.40" cy="729.30" r="3.00" fill="#7d7478" stroke="none" stroke-width="1" /><circle cx="877.40" cy="743.80" r="3.00" fill="#7d7478" stroke="none" stroke-width="1" />
<line x1="910.40" y1="666.60" x2="901.60" y2="656.50" stroke="#5f8f7f" stroke-width="1.3" /><line x1="910.40" y1="666.60" x2="919.20" y2="656.50" stroke="#5f8f7f" stroke-width="1.3" /><line x1="910.40" y1="666.60" x2="901.60" y2="671.00" stroke="#5f8f7f" stroke-width="1.3" /><line x1="910.40" y1="666.60" x2="919.20" y2="671.00" stroke="#5f8f7f" stroke-width="1.3" /><line x1="910.40" y1="681.10" x2="901.60" y2="671.00" stroke="#5f8f7f" stroke-width="1.3" /><line x1="910.40" y1="681.10" x2="919.20" y2="671.00" stroke="#5f8f7f" stroke-width="1.3" /><line x1="910.40" y1="681.10" x2="901.60" y2="685.50" stroke="#5f8f7f" stroke-width="1.3" /><line x1="910.40" y1="681.10" x2="919.20" y2="685.50" stroke="#5f8f7f" stroke-width="1.3" /><line x1="910.40" y1="695.60" x2="901.60" y2="685.50" stroke="#5f8f7f" stroke-width="1.3" /><line x1="910.40" y1="695.60" x2="919.20" y2="685.50" stroke="#5f8f7f" stroke-width="1.3" /><line x1="910.40" y1="695.60" x2="901.60" y2="700.00" stroke="#5f8f7f" stroke-width="1.3" /><line x1="910.40" y1="695.60" x2="919.20" y2="700.00" stroke="#5f8f7f" stroke-width="1.3" /><line x1="910.40" y1="710.10" x2="901.60" y2="700.00" stroke="#5f8f7f" stroke-width="1.3" /><line x1="910.40" y1="710.10" x2="919.20" y2="700.00" stroke="#5f8f7f" stroke-width="1.3" /><line x1="910.40" y1="710.10" x2="901.60" y2="714.50" stroke="#5f8f7f" stroke-width="1.3" /><line x1="910.40" y1="710.10" x2="919.20" y2="714.50" stroke="#5f8f7f" stroke-width="1.3" /><line x1="910.40" y1="724.60" x2="901.60" y2="714.50" stroke="#5f8f7f" stroke-width="1.3" /><line x1="910.40" y1="724.60" x2="919.20" y2="714.50" stroke="#5f8f7f" stroke-width="1.3" /><line x1="910.40" y1="724.60" x2="901.60" y2="729.00" stroke="#5f8f7f" stroke-width="1.3" /><line x1="910.40" y1="724.60" x2="919.20" y2="729.00" stroke="#5f8f7f" stroke-width="1.3" /><line x1="910.40" y1="739.10" x2="901.60" y2="729.00" stroke="#5f8f7f" stroke-width="1.3" /><line x1="910.40" y1="739.10" x2="919.20" y2="729.00" stroke="#5f8f7f" stroke-width="1.3" /><line x1="910.40" y1="739.10" x2="901.60" y2="743.50" stroke="#5f8f7f" stroke-width="1.3" /><line x1="910.40" y1="739.10" x2="919.20" y2="743.50" stroke="#5f8f7f" stroke-width="1.3" /><circle cx="901.60" cy="656.50" r="2.30" fill="#36a57e" stroke="none" stroke-width="1" /><circle cx="919.20" cy="656.50" r="2.30" fill="#36a57e" stroke="none" stroke-width="1" /><circle cx="901.60" cy="671.00" r="2.30" fill="#36a57e" stroke="none" stroke-width="1" /><circle cx="919.20" cy="671.00" r="2.30" fill="#36a57e" stroke="none" stroke-width="1" /><circle cx="901.60" cy="685.50" r="2.30" fill="#36a57e" stroke="none" stroke-width="1" /><circle cx="919.20" cy="685.50" r="2.30" fill="#36a57e" stroke="none" stroke-width="1" /><circle cx="901.60" cy="700.00" r="2.30" fill="#36a57e" stroke="none" stroke-width="1" /><circle cx="919.20" cy="700.00" r="2.30" fill="#36a57e" stroke="none" stroke-width="1" /><circle cx="901.60" cy="714.50" r="2.30" fill="#36a57e" stroke="none" stroke-width="1" /><circle cx="919.20" cy="714.50" r="2.30" fill="#36a57e" stroke="none" stroke-width="1" /><circle cx="901.60" cy="729.00" r="2.30" fill="#36a57e" stroke="none" stroke-width="1" /><circle cx="919.20" cy="729.00" r="2.30" fill="#36a57e" stroke="none" stroke-width="1" /><circle cx="901.60" cy="743.50" r="2.30" fill="#36a57e" stroke="none" stroke-width="1" /><circle cx="919.20" cy="743.50" r="2.30" fill="#36a57e" stroke="none" stroke-width="1" /><circle cx="910.40" cy="666.60" r="3.00" fill="#7d7478" stroke="none" stroke-width="1" /><circle cx="910.40" cy="681.10" r="3.00" fill="#7d7478" stroke="none" stroke-width="1" /><circle cx="910.40" cy="695.60" r="3.00" fill="#7d7478" stroke="none" stroke-width="1" /><circle cx="910.40" cy="710.10" r="3.00" fill="#7d7478" stroke="none" stroke-width="1" /><circle cx="910.40" cy="724.60" r="3.00" fill="#7d7478" stroke="none" stroke-width="1" /><circle cx="910.40" cy="739.10" r="3.00" fill="#7d7478" stroke="none" stroke-width="1" />
<line x1="943.10" y1="671.30" x2="934.30" y2="666.00" stroke="#5f8f7f" stroke-width="1.3" /><line x1="943.10" y1="671.30" x2="951.90" y2="666.00" stroke="#5f8f7f" stroke-width="1.3" /><line x1="943.10" y1="671.30" x2="934.30" y2="680.50" stroke="#5f8f7f" stroke-width="1.3" /><line x1="943.10" y1="671.30" x2="951.90" y2="680.50" stroke="#5f8f7f" stroke-width="1.3" /><line x1="943.10" y1="685.80" x2="934.30" y2="680.50" stroke="#5f8f7f" stroke-width="1.3" /><line x1="943.10" y1="685.80" x2="951.90" y2="680.50" stroke="#5f8f7f" stroke-width="1.3" /><line x1="943.10" y1="685.80" x2="934.30" y2="695.00" stroke="#5f8f7f" stroke-width="1.3" /><line x1="943.10" y1="685.80" x2="951.90" y2="695.00" stroke="#5f8f7f" stroke-width="1.3" /><line x1="943.10" y1="700.30" x2="934.30" y2="695.00" stroke="#5f8f7f" stroke-width="1.3" /><line x1="943.10" y1="700.30" x2="951.90" y2="695.00" stroke="#5f8f7f" stroke-width="1.3" /><line x1="943.10" y1="700.30" x2="934.30" y2="709.50" stroke="#5f8f7f" stroke-width="1.3" /><line x1="943.10" y1="700.30" x2="951.90" y2="709.50" stroke="#5f8f7f" stroke-width="1.3" /><line x1="943.10" y1="714.80" x2="934.30" y2="709.50" stroke="#5f8f7f" stroke-width="1.3" /><line x1="943.10" y1="714.80" x2="951.90" y2="709.50" stroke="#5f8f7f" stroke-width="1.3" /><line x1="943.10" y1="714.80" x2="934.30" y2="724.00" stroke="#5f8f7f" stroke-width="1.3" /><line x1="943.10" y1="714.80" x2="951.90" y2="724.00" stroke="#5f8f7f" stroke-width="1.3" /><line x1="943.10" y1="729.30" x2="934.30" y2="724.00" stroke="#5f8f7f" stroke-width="1.3" /><line x1="943.10" y1="729.30" x2="951.90" y2="724.00" stroke="#5f8f7f" stroke-width="1.3" /><line x1="943.10" y1="729.30" x2="934.30" y2="738.50" stroke="#5f8f7f" stroke-width="1.3" /><line x1="943.10" y1="729.30" x2="951.90" y2="738.50" stroke="#5f8f7f" stroke-width="1.3" /><line x1="943.10" y1="743.80" x2="934.30" y2="738.50" stroke="#5f8f7f" stroke-width="1.3" /><line x1="943.10" y1="743.80" x2="951.90" y2="738.50" stroke="#5f8f7f" stroke-width="1.3" /><line x1="943.10" y1="743.80" x2="934.30" y2="753.00" stroke="#5f8f7f" stroke-width="1.3" /><line x1="943.10" y1="743.80" x2="951.90" y2="753.00" stroke="#5f8f7f" stroke-width="1.3" /><circle cx="934.30" cy="666.00" r="2.30" fill="#36a57e" stroke="none" stroke-width="1" /><circle cx="951.90" cy="666.00" r="2.30" fill="#36a57e" stroke="none" stroke-width="1" /><circle cx="934.30" cy="680.50" r="2.30" fill="#36a57e" stroke="none" stroke-width="1" /><circle cx="951.90" cy="680.50" r="2.30" fill="#36a57e" stroke="none" stroke-width="1" /><circle cx="934.30" cy="695.00" r="2.30" fill="#36a57e" stroke="none" stroke-width="1" /><circle cx="951.90" cy="695.00" r="2.30" fill="#36a57e" stroke="none" stroke-width="1" /><circle cx="934.30" cy="709.50" r="2.30" fill="#36a57e" stroke="none" stroke-width="1" /><circle cx="951.90" cy="709.50" r="2.30" fill="#36a57e" stroke="none" stroke-width="1" /><circle cx="934.30" cy="724.00" r="2.30" fill="#36a57e" stroke="none" stroke-width="1" /><circle cx="951.90" cy="724.00" r="2.30" fill="#36a57e" stroke="none" stroke-width="1" /><circle cx="934.30" cy="738.50" r="2.30" fill="#36a57e" stroke="none" stroke-width="1" /><circle cx="951.90" cy="738.50" r="2.30" fill="#36a57e" stroke="none" stroke-width="1" /><circle cx="934.30" cy="753.00" r="2.30" fill="#36a57e" stroke="none" stroke-width="1" /><circle cx="951.90" cy="753.00" r="2.30" fill="#36a57e" stroke="none" stroke-width="1" /><circle cx="943.10" cy="671.30" r="3.00" fill="#7d7478" stroke="none" stroke-width="1" /><circle cx="943.10" cy="685.80" r="3.00" fill="#7d7478" stroke="none" stroke-width="1" /><circle cx="943.10" cy="700.30" r="3.00" fill="#7d7478" stroke="none" stroke-width="1" /><circle cx="943.10" cy="714.80" r="3.00" fill="#7d7478" stroke="none" stroke-width="1" /><circle cx="943.10" cy="729.30" r="3.00" fill="#7d7478" stroke="none" stroke-width="1" /><circle cx="943.10" cy="743.80" r="3.00" fill="#7d7478" stroke="none" stroke-width="1" />
<line x1="976.20" y1="666.60" x2="967.40" y2="656.50" stroke="#5f8f7f" stroke-width="1.3" /><line x1="976.20" y1="666.60" x2="985.00" y2="656.50" stroke="#5f8f7f" stroke-width="1.3" /><line x1="976.20" y1="666.60" x2="967.40" y2="671.00" stroke="#5f8f7f" stroke-width="1.3" /><line x1="976.20" y1="666.60" x2="985.00" y2="671.00" stroke="#5f8f7f" stroke-width="1.3" /><line x1="976.20" y1="681.10" x2="967.40" y2="671.00" stroke="#5f8f7f" stroke-width="1.3" /><line x1="976.20" y1="681.10" x2="985.00" y2="671.00" stroke="#5f8f7f" stroke-width="1.3" /><line x1="976.20" y1="681.10" x2="967.40" y2="685.50" stroke="#5f8f7f" stroke-width="1.3" /><line x1="976.20" y1="681.10" x2="985.00" y2="685.50" stroke="#5f8f7f" stroke-width="1.3" /><line x1="976.20" y1="695.60" x2="967.40" y2="685.50" stroke="#5f8f7f" stroke-width="1.3" /><line x1="976.20" y1="695.60" x2="985.00" y2="685.50" stroke="#5f8f7f" stroke-width="1.3" /><line x1="976.20" y1="695.60" x2="967.40" y2="700.00" stroke="#5f8f7f" stroke-width="1.3" /><line x1="976.20" y1="695.60" x2="985.00" y2="700.00" stroke="#5f8f7f" stroke-width="1.3" /><line x1="976.20" y1="710.10" x2="967.40" y2="700.00" stroke="#5f8f7f" stroke-width="1.3" /><line x1="976.20" y1="710.10" x2="985.00" y2="700.00" stroke="#5f8f7f" stroke-width="1.3" /><line x1="976.20" y1="710.10" x2="967.40" y2="714.50" stroke="#5f8f7f" stroke-width="1.3" /><line x1="976.20" y1="710.10" x2="985.00" y2="714.50" stroke="#5f8f7f" stroke-width="1.3" /><line x1="976.20" y1="724.60" x2="967.40" y2="714.50" stroke="#5f8f7f" stroke-width="1.3" /><line x1="976.20" y1="724.60" x2="985.00" y2="714.50" stroke="#5f8f7f" stroke-width="1.3" /><line x1="976.20" y1="724.60" x2="967.40" y2="729.00" stroke="#5f8f7f" stroke-width="1.3" /><line x1="976.20" y1="724.60" x2="985.00" y2="729.00" stroke="#5f8f7f" stroke-width="1.3" /><line x1="976.20" y1="739.10" x2="967.40" y2="729.00" stroke="#5f8f7f" stroke-width="1.3" /><line x1="976.20" y1="739.10" x2="985.00" y2="729.00" stroke="#5f8f7f" stroke-width="1.3" /><line x1="976.20" y1="739.10" x2="967.40" y2="743.50" stroke="#5f8f7f" stroke-width="1.3" /><line x1="976.20" y1="739.10" x2="985.00" y2="743.50" stroke="#5f8f7f" stroke-width="1.3" /><circle cx="967.40" cy="656.50" r="2.30" fill="#36a57e" stroke="none" stroke-width="1" /><circle cx="985.00" cy="656.50" r="2.30" fill="#36a57e" stroke="none" stroke-width="1" /><circle cx="967.40" cy="671.00" r="2.30" fill="#36a57e" stroke="none" stroke-width="1" /><circle cx="985.00" cy="671.00" r="2.30" fill="#36a57e" stroke="none" stroke-width="1" /><circle cx="967.40" cy="685.50" r="2.30" fill="#36a57e" stroke="none" stroke-width="1" /><circle cx="985.00" cy="685.50" r="2.30" fill="#36a57e" stroke="none" stroke-width="1" /><circle cx="967.40" cy="700.00" r="2.30" fill="#36a57e" stroke="none" stroke-width="1" /><circle cx="985.00" cy="700.00" r="2.30" fill="#36a57e" stroke="none" stroke-width="1" /><circle cx="967.40" cy="714.50" r="2.30" fill="#36a57e" stroke="none" stroke-width="1" /><circle cx="985.00" cy="714.50" r="2.30" fill="#36a57e" stroke="none" stroke-width="1" /><circle cx="967.40" cy="729.00" r="2.30" fill="#36a57e" stroke="none" stroke-width="1" /><circle cx="985.00" cy="729.00" r="2.30" fill="#36a57e" stroke="none" stroke-width="1" /><circle cx="967.40" cy="743.50" r="2.30" fill="#36a57e" stroke="none" stroke-width="1" /><circle cx="985.00" cy="743.50" r="2.30" fill="#36a57e" stroke="none" stroke-width="1" /><circle cx="976.20" cy="666.60" r="3.00" fill="#7d7478" stroke="none" stroke-width="1" /><circle cx="976.20" cy="681.10" r="3.00" fill="#7d7478" stroke="none" stroke-width="1" /><circle cx="976.20" cy="695.60" r="3.00" fill="#7d7478" stroke="none" stroke-width="1" /><circle cx="976.20" cy="710.10" r="3.00" fill="#7d7478" stroke="none" stroke-width="1" /><circle cx="976.20" cy="724.60" r="3.00" fill="#7d7478" stroke="none" stroke-width="1" /><circle cx="976.20" cy="739.10" r="3.00" fill="#7d7478" stroke="none" stroke-width="1" />
<text transform="translate(685.33,793.50) scale(0.950,1)" font-family="'Liberation Sans',Arial,sans-serif" font-size="34.86" fill="#000" >WSe</text>
<text transform="translate(754.93,796.50) scale(1.051,1)" font-family="'Liberation Sans',Arial,sans-serif" font-size="20.29" fill="#000" >2</text>
<text transform="translate(890.23,793.50) scale(0.950,1)" font-family="'Liberation Sans',Arial,sans-serif" font-size="34.86" fill="#000" >WSe</text>
<text transform="translate(959.83,796.50) scale(1.051,1)" font-family="'Liberation Sans',Arial,sans-serif" font-size="20.29" fill="#000" >2</text>
<linearGradient id="pk" x1="0" y1="0" x2="0" y2="1"><stop offset="0" stop-color="#fde2e2"/><stop offset="1" stop-color="#f9bebe"/></linearGradient>
<linearGradient id="lv" x1="0" y1="0" x2="0" y2="1"><stop offset="0" stop-color="#dadafc"/><stop offset="1" stop-color="#c0c0f6"/></linearGradient>
<polygon points="705.80,804.60 736.20,804.60 736.20,892.90 752.50,892.90 721.00,912.20 690.60,892.90 705.80,892.90" fill="url(#pk)" stroke="none" stroke-width="1" />
<polygon points="913.70,804.60 944.20,804.60 944.20,873.60 959.40,873.60 929.60,894.90 900.60,873.60 913.70,873.60" fill="url(#lv)" stroke="none" stroke-width="1" />
<text transform="translate(670.96,837.10) scale(1.025,1)" font-family="'Liberation Sans',Arial,sans-serif" font-size="29.00" fill="#ff1010" >Source-</text>
<text transform="translate(666.31,863.50) scale(1.058,1)" font-family="'Liberation Sans',Arial,sans-serif" font-size="28.00" fill="#ff1010" >side QW</text>
<text transform="translate(884.97,837.10) scale(1.087,1)" font-family="'Liberation Sans',Arial,sans-serif" font-size="28.00" fill="#1010f0" >Drain-</text>
<text transform="translate(869.21,863.50) scale(1.058,1)" font-family="'Liberation Sans',Arial,sans-serif" font-size="28.00" fill="#1010f0" >side QW</text>
<text transform="translate(602.22,930.90) scale(1.006,1)" font-family="'Liberation Sans',Arial,sans-serif" font-size="29.28" font-style="italic" fill="#000" >E</text>
<text transform="translate(651.39,986.80) scale(1.182,1)" font-family="'Liberation Sans',Arial,sans-serif" font-size="23.03" font-style="italic" fill="#000" >k</text>
<polyline points="611.90,941.50 611.90,976.50 644.00,976.50" fill="none" stroke="#111" stroke-width="2.3" />
<polyline points="606.50,948.00 611.90,941.00 617.30,948.00" fill="none" stroke="#111" stroke-width="2.3" />
<polyline points="637.50,971.00 644.50,976.50 637.50,982.00" fill="none" stroke="#111" stroke-width="2.3" />
<line x1="824.10" y1="916.60" x2="824.10" y2="1102.00" stroke="#111" stroke-width="3.4" stroke-dasharray="3.6 3.4"/>
<polyline points="658.30,1110.40 659.85,1102.08 661.40,1093.97 662.95,1086.06 664.50,1078.37 666.05,1070.89 667.60,1063.62 669.15,1056.56 670.70,1049.70 672.25,1043.06 673.80,1036.63 675.35,1030.41 676.90,1024.39 678.45,1018.59 680.00,1013.00 681.55,1007.62 683.10,1002.45 684.65,997.49 686.20,992.74 687.75,988.20 689.30,983.87 690.85,979.75 692.40,975.84 693.95,972.15 695.50,968.66 697.05,965.39 698.60,962.32 700.15,959.47 701.70,956.83 703.25,954.40 704.80,952.18 706.35,950.17 707.90,948.37 709.45,946.78 711.00,945.41 712.55,944.25 714.10,943.29 715.65,942.55 717.20,942.02 718.75,941.71 720.30,941.60 721.85,941.71 723.40,942.02 724.95,942.55 726.50,943.29 728.05,944.25 729.60,945.41 731.15,946.79 732.70,948.38 734.25,950.18 735.80,952.19 737.35,954.42 738.90,956.86 740.45,959.51 742.00,962.37 743.55,965.44 745.10,968.73 746.65,972.23 748.20,975.94 749.75,979.87 751.30,984.01 752.85,988.36 754.40,992.92 755.95,997.70 757.50,1002.68 759.05,1007.89 760.60,1013.30 762.15,1018.93 763.70,1024.77 765.25,1030.82 766.80,1037.09 768.35,1043.57 769.90,1050.27 771.45,1057.17 773.00,1064.29 774.55,1071.63 776.10,1079.17 777.65,1086.94 779.20,1094.91 780.75,1103.10 782.30,1111.50" fill="none" stroke="#f01414" stroke-width="3.0" stroke-linejoin="round" stroke-linecap="round"/><polyline points="658.30,1110.40 659.85,1101.30 661.40,1092.56 662.95,1084.18 664.50,1076.15 666.05,1068.47 667.60,1061.14 669.15,1054.14 670.70,1047.47 672.25,1041.12 673.80,1035.10 675.35,1029.38 676.90,1023.98 678.45,1018.87 680.00,1014.05 681.55,1009.52 683.10,1005.28 684.65,1001.30 686.20,997.59 687.75,994.14 689.30,990.95 690.85,988.00 692.40,985.28 693.95,982.80 695.50,980.54 697.05,978.50 698.60,976.66 700.15,975.02 701.70,973.57 703.25,972.30 704.80,971.20 706.35,970.27 707.90,969.49 709.45,968.84 711.00,968.33 712.55,967.94 714.10,967.66 715.65,967.47 717.20,967.36 718.75,967.31 720.30,967.30 721.85,967.31 723.40,967.36 724.95,967.47 726.50,967.66 728.05,967.94 729.60,968.34 731.15,968.85 732.70,969.49 734.25,970.27 735.80,971.21 737.35,972.31 738.90,973.59 740.45,975.04 742.00,976.69 743.55,978.53 745.10,980.58 746.65,982.85 748.20,985.35 749.75,988.07 751.30,991.04 752.85,994.25 754.40,997.72 755.95,1001.45 757.50,1005.45 759.05,1009.73 760.60,1014.29 762.15,1019.13 763.70,1024.28 765.25,1029.73 766.80,1035.49 768.35,1041.56 769.90,1047.96 771.45,1054.69 773.00,1061.75 774.55,1069.15 776.10,1076.90 777.65,1085.01 779.20,1093.47 780.75,1102.30 782.30,1111.50" fill="none" stroke="#f01414" stroke-width="3.0" stroke-linejoin="round" stroke-linecap="round"/><polyline points="658.30,1110.40 659.85,1103.33 661.40,1096.62 662.95,1090.25 664.50,1084.21 666.05,1078.49 667.60,1073.10 669.15,1068.01 670.70,1063.22 672.25,1058.72 673.80,1054.50 675.35,1050.55 676.90,1046.86 678.45,1043.43 680.00,1040.24 681.55,1037.28 683.10,1034.56 684.65,1032.05 686.20,1029.75 687.75,1027.65 689.30,1025.73 690.85,1024.01 692.40,1022.45 693.95,1021.06 695.50,1019.82 697.05,1018.72 698.60,1017.77 700.15,1016.94 701.70,1016.22 703.25,1015.62 704.80,1015.12 706.35,1014.71 707.90,1014.38 709.45,1014.12 711.00,1013.93 712.55,1013.79 714.10,1013.70 715.65,1013.64 717.20,1013.61 718.75,1013.60 720.30,1013.60 721.85,1013.60 723.40,1013.61 724.95,1013.64 726.50,1013.70 728.05,1013.79 729.60,1013.93 731.15,1014.12 732.70,1014.38 734.25,1014.71 735.80,1015.12 737.35,1015.63 738.90,1016.23 740.45,1016.95 742.00,1017.78 743.55,1018.74 745.10,1019.84 746.65,1021.09 748.20,1022.49 749.75,1024.06 751.30,1025.80 752.85,1027.73 754.40,1029.85 755.95,1032.17 757.50,1034.70 759.05,1037.45 760.60,1040.43 762.15,1043.65 763.70,1047.12 765.25,1050.85 766.80,1054.84 768.35,1059.11 769.90,1063.67 771.45,1068.52 773.00,1073.67 774.55,1079.14 776.10,1084.93 777.65,1091.05 779.20,1097.51 780.75,1104.33 782.30,1111.50" fill="none" stroke="#f01414" stroke-width="3.0" stroke-linejoin="round" stroke-linecap="round"/><polyline points="658.30,1110.40 659.85,1107.78 661.40,1105.30 662.95,1102.97 664.50,1100.78 666.05,1098.72 667.60,1096.79 669.15,1094.99 670.70,1093.31 672.25,1091.74 673.80,1090.29 675.35,1088.94 676.90,1087.69 678.45,1086.54 680.00,1085.49 681.55,1084.52 683.10,1083.64 684.65,1082.84 686.20,1082.11 687.75,1081.46 689.30,1080.88 690.85,1080.36 692.40,1079.91 693.95,1079.52 695.50,1079.18 697.05,1078.90 698.60,1078.68 700.15,1078.52 701.70,1078.41 703.25,1078.35 704.80,1078.34 706.35,1078.38 707.90,1078.45 709.45,1078.56 711.00,1078.69 712.55,1078.84 714.10,1078.98 715.65,1079.11 717.20,1079.21 718.75,1079.28 720.30,1079.30 721.85,1079.28 723.40,1079.21 724.95,1079.11 726.50,1078.98 728.05,1078.84 729.60,1078.69 731.15,1078.56 732.70,1078.45 734.25,1078.38 735.80,1078.34 737.35,1078.35 738.90,1078.41 740.45,1078.53 742.00,1078.70 743.55,1078.92 745.10,1079.20 746.65,1079.54 748.20,1079.94 749.75,1080.41 751.30,1080.93 752.85,1081.53 754.40,1082.20 755.95,1082.94 757.50,1083.76 759.05,1084.67 760.60,1085.66 762.15,1086.74 763.70,1087.93 765.25,1089.21 766.80,1090.60 768.35,1092.11 769.90,1093.73 771.45,1095.47 773.00,1097.34 774.55,1099.34 776.10,1101.48 777.65,1103.76 779.20,1106.18 780.75,1108.76 782.30,1111.50" fill="none" stroke="#f01414" stroke-width="3.0" stroke-linejoin="round" stroke-linecap="round"/>
<polyline points="867.00,1087.80 868.56,1079.39 870.12,1071.18 871.68,1063.19 873.24,1055.42 874.80,1047.85 876.36,1040.50 877.92,1033.35 879.48,1026.42 881.04,1019.71 882.60,1013.20 884.16,1006.91 885.72,1000.83 887.28,994.96 888.84,989.31 890.40,983.87 891.96,978.64 893.52,973.62 895.08,968.82 896.64,964.23 898.20,959.85 899.76,955.69 901.32,951.73 902.88,948.00 904.44,944.47 906.00,941.16 907.56,938.06 909.12,935.17 910.68,932.50 912.24,930.04 913.80,927.80 915.36,925.77 916.92,923.95 918.48,922.34 920.04,920.95 921.60,919.78 923.16,918.81 924.72,918.06 926.28,917.53 927.84,917.21 929.40,917.10 930.96,917.21 932.52,917.53 934.08,918.06 935.64,918.81 937.20,919.78 938.76,920.96 940.32,922.35 941.88,923.96 943.44,925.78 945.00,927.82 946.56,930.07 948.12,932.53 949.68,935.21 951.24,938.11 952.80,941.22 954.36,944.55 955.92,948.09 957.48,951.84 959.04,955.81 960.60,960.00 962.16,964.40 963.72,969.02 965.28,973.85 966.84,978.90 968.40,984.16 969.96,989.64 971.52,995.33 973.08,1001.24 974.64,1007.37 976.20,1013.71 977.76,1020.27 979.32,1027.04 980.88,1034.03 982.44,1041.23 984.00,1048.65 985.56,1056.29 987.12,1064.14 988.68,1072.21 990.24,1080.50 991.80,1089.00" fill="none" stroke="#1414e6" stroke-width="3.0" stroke-linejoin="round" stroke-linecap="round"/><polyline points="867.00,1087.80 868.56,1078.58 870.12,1069.72 871.68,1061.23 873.24,1053.10 874.80,1045.32 876.36,1037.89 877.92,1030.80 879.48,1024.04 881.04,1017.61 882.60,1011.50 884.16,1005.71 885.72,1000.23 887.28,995.06 888.84,990.18 890.40,985.59 891.96,981.28 893.52,977.26 895.08,973.50 896.64,970.00 898.20,966.77 899.76,963.78 901.32,961.03 902.88,958.51 904.44,956.22 906.00,954.15 907.56,952.29 909.12,950.62 910.68,949.16 912.24,947.87 913.80,946.76 915.36,945.81 916.92,945.02 918.48,944.37 920.04,943.85 921.60,943.45 923.16,943.17 924.72,942.97 926.28,942.86 927.84,942.81 929.40,942.80 930.96,942.81 932.52,942.86 934.08,942.97 935.64,943.17 937.20,943.45 938.76,943.85 940.32,944.37 941.88,945.02 943.44,945.81 945.00,946.77 946.56,947.88 948.12,949.17 949.68,950.65 951.24,952.31 952.80,954.18 954.36,956.27 955.92,958.57 957.48,961.09 959.04,963.86 960.60,966.86 962.16,970.12 963.72,973.64 965.28,977.42 966.84,981.47 968.40,985.81 969.96,990.43 971.52,995.35 973.08,1000.57 974.64,1006.09 976.20,1011.93 977.76,1018.09 979.32,1024.58 980.88,1031.40 982.44,1038.56 984.00,1046.06 985.56,1053.92 987.12,1062.14 988.68,1070.72 990.24,1079.67 991.80,1089.00" fill="none" stroke="#1414e6" stroke-width="3.0" stroke-linejoin="round" stroke-linecap="round"/><polyline points="867.00,1087.80 868.56,1080.65 870.12,1073.86 871.68,1067.42 873.24,1061.31 874.80,1055.54 876.36,1050.08 877.92,1044.93 879.48,1040.09 881.04,1035.53 882.60,1031.26 884.16,1027.27 885.72,1023.54 887.28,1020.07 888.84,1016.84 890.40,1013.86 891.96,1011.10 893.52,1008.56 895.08,1006.23 896.64,1004.11 898.20,1002.17 899.76,1000.43 901.32,998.85 902.88,997.44 904.44,996.19 906.00,995.08 907.56,994.11 909.12,993.27 910.68,992.55 912.24,991.95 913.80,991.44 915.36,991.02 916.92,990.69 918.48,990.43 920.04,990.23 921.60,990.09 923.16,990.00 924.72,989.94 926.28,989.91 927.84,989.90 929.40,989.90 930.96,989.90 932.52,989.91 934.08,989.94 935.64,990.00 937.20,990.09 938.76,990.23 940.32,990.43 941.88,990.69 943.44,991.02 945.00,991.44 946.56,991.95 948.12,992.56 949.68,993.29 951.24,994.13 952.80,995.11 954.36,996.22 955.92,997.48 957.48,998.90 959.04,1000.49 960.60,1002.25 962.16,1004.20 963.72,1006.34 965.28,1008.69 966.84,1011.25 968.40,1014.04 969.96,1017.06 971.52,1020.32 973.08,1023.83 974.64,1027.60 976.20,1031.64 977.76,1035.97 979.32,1040.58 980.88,1045.49 982.44,1050.70 984.00,1056.24 985.56,1062.10 987.12,1068.30 988.68,1074.84 990.24,1081.74 991.80,1089.00" fill="none" stroke="#1414e6" stroke-width="3.0" stroke-linejoin="round" stroke-linecap="round"/><polyline points="867.00,1087.80 868.56,1085.14 870.12,1082.64 871.68,1080.28 873.24,1078.06 874.80,1075.98 876.36,1074.03 877.92,1072.21 879.48,1070.50 881.04,1068.92 882.60,1067.44 884.16,1066.08 885.72,1064.82 887.28,1063.66 888.84,1062.59 890.40,1061.61 891.96,1060.72 893.52,1059.91 895.08,1059.17 896.64,1058.51 898.20,1057.92 899.76,1057.40 901.32,1056.94 902.88,1056.54 904.44,1056.20 906.00,1055.92 907.56,1055.70 909.12,1055.53 910.68,1055.41 912.24,1055.35 913.80,1055.34 915.36,1055.38 916.92,1055.45 918.48,1055.56 920.04,1055.70 921.60,1055.84 923.16,1055.98 924.72,1056.11 926.28,1056.21 927.84,1056.28 929.40,1056.30 930.96,1056.28 932.52,1056.21 934.08,1056.11 935.64,1055.98 937.20,1055.84 938.76,1055.70 940.32,1055.56 941.88,1055.46 943.44,1055.38 945.00,1055.35 946.56,1055.36 948.12,1055.42 949.68,1055.54 951.24,1055.71 952.80,1055.94 954.36,1056.23 955.92,1056.57 957.48,1056.98 959.04,1057.45 960.60,1057.98 962.16,1058.59 963.72,1059.26 965.28,1060.02 966.84,1060.85 968.40,1061.77 969.96,1062.78 971.52,1063.88 973.08,1065.08 974.64,1066.38 976.20,1067.79 977.76,1069.32 979.32,1070.96 980.88,1072.73 982.44,1074.63 984.00,1076.66 985.56,1078.83 987.12,1081.14 988.68,1083.60 990.24,1086.22 991.80,1089.00" fill="none" stroke="#1414e6" stroke-width="3.0" stroke-linejoin="round" stroke-linecap="round"/>
<polygon points="727.90,936.80 875.20,936.80 875.20,929.70 915.60,943.50 875.20,957.00 875.20,949.90 727.90,949.90" fill="#a3a3a3" stroke="#111" stroke-width="2.4" stroke-linejoin="miter"/>
<circle cx="822.90" cy="945.20" r="17.80" fill="#fff" stroke="#111" stroke-width="2.5" />
<text transform="translate(816.57,953.50) scale(0.880,1)" font-family="'Liberation Sans',Arial,sans-serif" font-size="32.83" font-style="italic" fill="#000" >h</text>
<radialGradient id="ab" cx="0.38" cy="0.35" r="0.65"><stop offset="0" stop-color="#9c9cff"/><stop offset="0.35" stop-color="#2a2ae0"/><stop offset="1" stop-color="#06066a"/></radialGradient>
<radialGradient id="ar" cx="0.38" cy="0.35" r="0.65"><stop offset="0" stop-color="#ffb0a0"/><stop offset="0.35" stop-color="#e02020"/><stop offset="1" stop-color="#6a0606"/></radialGradient>
<radialGradient id="ak" cx="0.38" cy="0.35" r="0.65"><stop offset="0" stop-color="#707070"/><stop offset="0.5" stop-color="#202020"/><stop offset="1" stop-color="#000"/></radialGradient>
<linearGradient id="fadeL" x1="0" y1="0" x2="1" y2="0"><stop offset="0" stop-color="#fff" stop-opacity="1"/><stop offset="1" stop-color="#fff" stop-opacity="0"/></linearGradient>
<linearGradient id="fadeT" x1="0" y1="0" x2="0" y2="1"><stop offset="0" stop-color="#fff" stop-opacity="1"/><stop offset="1" stop-color="#fff" stop-opacity="0"/></linearGradient>
<text transform="translate(9.21,32.60) scale(0.889,1)" font-family="'Liberation Sans',Arial,sans-serif" font-size="29.44" font-weight="bold" fill="#000" >a</text>
<circle cx="63.00" cy="33.00" r="8.00" fill="url(#ar)" stroke="none" stroke-width="1" />
<circle cx="63.00" cy="73.20" r="8.00" fill="url(#ab)" stroke="none" stroke-width="1" />
<text transform="translate(79.12,42.00) scale(1.015,1)" font-family="'Liberation Sans',Arial,sans-serif" font-size="30.43" fill="#000" >In</text>
<text transform="translate(79.85,81.90) scale(0.885,1)" font-family="'Liberation Sans',Arial,sans-serif" font-size="29.00" fill="#000" >Se</text>
<line x1="153.60" y1="50.70" x2="212.00" y2="60.00" stroke="#111" stroke-width="1.8" />
<polygon points="221.70,61.60 209.50,54.50 210.00,65.30" fill="#111" stroke="none" stroke-width="1" />
<text transform="translate(161.71,89.10)" font-family="'Liberation Sans',Arial,sans-serif" font-size="29.93" font-weight="bold" fill="#000" >k</text>
<text transform="translate(180.19,98.60) scale(0.984,1)" font-family="'Liberation Sans',Arial,sans-serif" font-size="22.07" font-style="italic" fill="#000" >//</text>
<line x1="47.00" y1="160.00" x2="64.00" y2="167.00" stroke="#bdbdbd" stroke-width="1.2" />
<line x1="47.00" y1="160.00" x2="55.00" y2="159.50" stroke="#bdbdbd" stroke-width="1.2" />
<line x1="55.00" y1="159.50" x2="64.00" y2="167.00" stroke="#bdbdbd" stroke-width="1.2" />
<line x1="55.00" y1="159.50" x2="54.50" y2="155.50" stroke="#bdbdbd" stroke-width="1.2" />
<line x1="64.00" y1="167.00" x2="81.00" y2="174.50" stroke="#bdbdbd" stroke-width="1.2" />
<line x1="64.00" y1="167.00" x2="72.88" y2="166.59" stroke="#bdbdbd" stroke-width="1.2" />
<line x1="72.88" y1="166.59" x2="81.00" y2="174.50" stroke="#bdbdbd" stroke-width="1.2" />
<line x1="72.88" y1="166.59" x2="73.25" y2="162.44" stroke="#bdbdbd" stroke-width="1.2" />
<line x1="81.00" y1="174.50" x2="101.50" y2="183.00" stroke="#bdbdbd" stroke-width="1.2" />
<line x1="81.00" y1="174.50" x2="92.41" y2="174.22" stroke="#bdbdbd" stroke-width="1.2" />
<line x1="92.41" y1="174.22" x2="101.50" y2="183.00" stroke="#bdbdbd" stroke-width="1.2" />
<line x1="92.41" y1="174.22" x2="93.56" y2="169.69" stroke="#bdbdbd" stroke-width="1.2" />
<line x1="101.50" y1="183.00" x2="125.00" y2="193.50" stroke="#bdbdbd" stroke-width="1.2" />
<line x1="101.50" y1="183.00" x2="114.66" y2="183.16" stroke="#bdbdbd" stroke-width="1.2" />
<line x1="114.66" y1="183.16" x2="125.00" y2="193.50" stroke="#bdbdbd" stroke-width="1.2" />
<line x1="114.66" y1="183.16" x2="116.06" y2="178.06" stroke="#bdbdbd" stroke-width="1.2" />
<line x1="125.00" y1="193.50" x2="153.00" y2="204.00" stroke="#bdbdbd" stroke-width="1.2" />
<line x1="125.00" y1="193.50" x2="140.12" y2="193.03" stroke="#bdbdbd" stroke-width="1.2" />
<line x1="140.12" y1="193.03" x2="153.00" y2="204.00" stroke="#bdbdbd" stroke-width="1.2" />
<line x1="140.12" y1="193.03" x2="141.25" y2="187.31" stroke="#bdbdbd" stroke-width="1.2" />
<line x1="153.00" y1="204.00" x2="185.00" y2="217.00" stroke="#bdbdbd" stroke-width="1.2" />
<line x1="153.00" y1="204.00" x2="169.62" y2="204.19" stroke="#bdbdbd" stroke-width="1.2" />
<line x1="169.62" y1="204.19" x2="185.00" y2="217.00" stroke="#bdbdbd" stroke-width="1.2" />
<line x1="169.62" y1="204.19" x2="170.25" y2="197.88" stroke="#bdbdbd" stroke-width="1.2" />
<line x1="185.00" y1="217.00" x2="232.00" y2="213.00" stroke="#bdbdbd" stroke-width="1.2" />
<line x1="185.00" y1="217.00" x2="208.94" y2="208.50" stroke="#bdbdbd" stroke-width="1.2" />
<line x1="208.94" y1="208.50" x2="232.00" y2="213.00" stroke="#bdbdbd" stroke-width="1.2" />
<line x1="208.94" y1="208.50" x2="209.38" y2="202.00" stroke="#bdbdbd" stroke-width="1.2" />
<line x1="232.00" y1="213.00" x2="278.00" y2="194.00" stroke="#bdbdbd" stroke-width="1.2" />
<line x1="232.00" y1="213.00" x2="255.62" y2="197.44" stroke="#bdbdbd" stroke-width="1.2" />
<line x1="255.62" y1="197.44" x2="278.00" y2="194.00" stroke="#bdbdbd" stroke-width="1.2" />
<line x1="255.62" y1="197.44" x2="256.25" y2="191.38" stroke="#bdbdbd" stroke-width="1.2" />
<line x1="278.00" y1="194.00" x2="315.00" y2="178.00" stroke="#bdbdbd" stroke-width="1.2" />
<line x1="278.00" y1="194.00" x2="297.06" y2="180.56" stroke="#bdbdbd" stroke-width="1.2" />
<line x1="297.06" y1="180.56" x2="315.00" y2="178.00" stroke="#bdbdbd" stroke-width="1.2" />
<line x1="297.06" y1="180.56" x2="297.62" y2="175.12" stroke="#bdbdbd" stroke-width="1.2" />
<line x1="45.25" y1="152.00" x2="63.75" y2="159.00" stroke="#bdbdbd" stroke-width="1.2" />
<line x1="45.25" y1="152.00" x2="54.00" y2="151.50" stroke="#bdbdbd" stroke-width="1.2" />
<line x1="54.00" y1="151.50" x2="63.75" y2="159.00" stroke="#bdbdbd" stroke-width="1.2" />
<line x1="54.00" y1="151.50" x2="53.50" y2="147.50" stroke="#bdbdbd" stroke-width="1.2" />
<line x1="63.75" y1="159.00" x2="82.75" y2="165.88" stroke="#bdbdbd" stroke-width="1.2" />
<line x1="63.75" y1="159.00" x2="73.62" y2="158.28" stroke="#bdbdbd" stroke-width="1.2" />
<line x1="73.62" y1="158.28" x2="82.75" y2="165.88" stroke="#bdbdbd" stroke-width="1.2" />
<line x1="73.62" y1="158.28" x2="74.00" y2="154.12" stroke="#bdbdbd" stroke-width="1.2" />
<line x1="82.75" y1="165.88" x2="104.38" y2="173.50" stroke="#bdbdbd" stroke-width="1.2" />
<line x1="82.75" y1="165.88" x2="94.72" y2="165.16" stroke="#bdbdbd" stroke-width="1.2" />
<line x1="94.72" y1="165.16" x2="104.38" y2="173.50" stroke="#bdbdbd" stroke-width="1.2" />
<line x1="94.72" y1="165.16" x2="95.88" y2="160.62" stroke="#bdbdbd" stroke-width="1.2" />
<line x1="104.38" y1="173.50" x2="127.75" y2="182.62" stroke="#bdbdbd" stroke-width="1.2" />
<line x1="104.38" y1="173.50" x2="117.47" y2="172.97" stroke="#bdbdbd" stroke-width="1.2" />
<line x1="117.47" y1="172.97" x2="127.75" y2="182.62" stroke="#bdbdbd" stroke-width="1.2" />
<line x1="117.47" y1="172.97" x2="118.88" y2="167.88" stroke="#bdbdbd" stroke-width="1.2" />
<line x1="127.75" y1="182.62" x2="154.75" y2="192.00" stroke="#bdbdbd" stroke-width="1.2" />
<line x1="127.75" y1="182.62" x2="142.38" y2="181.59" stroke="#bdbdbd" stroke-width="1.2" />
<line x1="142.38" y1="181.59" x2="154.75" y2="192.00" stroke="#bdbdbd" stroke-width="1.2" />
<line x1="142.38" y1="181.59" x2="143.50" y2="175.88" stroke="#bdbdbd" stroke-width="1.2" />
<line x1="154.75" y1="192.00" x2="185.75" y2="203.75" stroke="#bdbdbd" stroke-width="1.2" />
<line x1="154.75" y1="192.00" x2="170.88" y2="191.56" stroke="#bdbdbd" stroke-width="1.2" />
<line x1="170.88" y1="191.56" x2="185.75" y2="203.75" stroke="#bdbdbd" stroke-width="1.2" />
<line x1="170.88" y1="191.56" x2="171.50" y2="185.25" stroke="#bdbdbd" stroke-width="1.2" />
<line x1="185.75" y1="203.75" x2="233.00" y2="200.25" stroke="#bdbdbd" stroke-width="1.2" />
<line x1="185.75" y1="203.75" x2="209.81" y2="195.50" stroke="#bdbdbd" stroke-width="1.2" />
<line x1="209.81" y1="195.50" x2="233.00" y2="200.25" stroke="#bdbdbd" stroke-width="1.2" />
<line x1="209.81" y1="195.50" x2="210.25" y2="189.00" stroke="#bdbdbd" stroke-width="1.2" />
<line x1="233.00" y1="200.25" x2="279.50" y2="182.50" stroke="#bdbdbd" stroke-width="1.2" />
<line x1="233.00" y1="200.25" x2="256.88" y2="185.31" stroke="#bdbdbd" stroke-width="1.2" />
<line x1="256.88" y1="185.31" x2="279.50" y2="182.50" stroke="#bdbdbd" stroke-width="1.2" />
<line x1="256.88" y1="185.31" x2="257.50" y2="179.25" stroke="#bdbdbd" stroke-width="1.2" />
<line x1="279.50" y1="182.50" x2="315.75" y2="167.75" stroke="#bdbdbd" stroke-width="1.2" />
<line x1="279.50" y1="182.50" x2="298.19" y2="169.69" stroke="#bdbdbd" stroke-width="1.2" />
<line x1="298.19" y1="169.69" x2="315.75" y2="167.75" stroke="#bdbdbd" stroke-width="1.2" />
<line x1="298.19" y1="169.69" x2="298.75" y2="164.25" stroke="#bdbdbd" stroke-width="1.2" />
<line x1="43.50" y1="144.00" x2="63.50" y2="151.00" stroke="#bdbdbd" stroke-width="1.2" />
<line x1="43.50" y1="144.00" x2="53.00" y2="143.50" stroke="#bdbdbd" stroke-width="1.2" />
<line x1="53.00" y1="143.50" x2="63.50" y2="151.00" stroke="#bdbdbd" stroke-width="1.2" />
<line x1="53.00" y1="143.50" x2="52.50" y2="139.50" stroke="#bdbdbd" stroke-width="1.2" />
<line x1="63.50" y1="151.00" x2="84.50" y2="157.25" stroke="#bdbdbd" stroke-width="1.2" />
<line x1="63.50" y1="151.00" x2="74.38" y2="149.97" stroke="#bdbdbd" stroke-width="1.2" />
<line x1="74.38" y1="149.97" x2="84.50" y2="157.25" stroke="#bdbdbd" stroke-width="1.2" />
<line x1="74.38" y1="149.97" x2="74.75" y2="145.81" stroke="#bdbdbd" stroke-width="1.2" />
<line x1="84.50" y1="157.25" x2="107.25" y2="164.00" stroke="#bdbdbd" stroke-width="1.2" />
<line x1="84.50" y1="157.25" x2="97.03" y2="156.09" stroke="#bdbdbd" stroke-width="1.2" />
<line x1="97.03" y1="156.09" x2="107.25" y2="164.00" stroke="#bdbdbd" stroke-width="1.2" />
<line x1="97.03" y1="156.09" x2="98.19" y2="151.56" stroke="#bdbdbd" stroke-width="1.2" />
<line x1="107.25" y1="164.00" x2="130.50" y2="171.75" stroke="#bdbdbd" stroke-width="1.2" />
<line x1="107.25" y1="164.00" x2="120.28" y2="162.78" stroke="#bdbdbd" stroke-width="1.2" />
<line x1="120.28" y1="162.78" x2="130.50" y2="171.75" stroke="#bdbdbd" stroke-width="1.2" />
<line x1="120.28" y1="162.78" x2="121.69" y2="157.69" stroke="#bdbdbd" stroke-width="1.2" />
<line x1="130.50" y1="171.75" x2="156.50" y2="180.00" stroke="#bdbdbd" stroke-width="1.2" />
<line x1="130.50" y1="171.75" x2="144.62" y2="170.16" stroke="#bdbdbd" stroke-width="1.2" />
<line x1="144.62" y1="170.16" x2="156.50" y2="180.00" stroke="#bdbdbd" stroke-width="1.2" />
<line x1="144.62" y1="170.16" x2="145.75" y2="164.44" stroke="#bdbdbd" stroke-width="1.2" />
<line x1="156.50" y1="180.00" x2="186.50" y2="190.50" stroke="#bdbdbd" stroke-width="1.2" />
<line x1="156.50" y1="180.00" x2="172.12" y2="178.94" stroke="#bdbdbd" stroke-width="1.2" />
<line x1="172.12" y1="178.94" x2="186.50" y2="190.50" stroke="#bdbdbd" stroke-width="1.2" />
<line x1="172.12" y1="178.94" x2="172.75" y2="172.62" stroke="#bdbdbd" stroke-width="1.2" />
<line x1="186.50" y1="190.50" x2="234.00" y2="187.50" stroke="#bdbdbd" stroke-width="1.2" />
<line x1="186.50" y1="190.50" x2="210.69" y2="182.50" stroke="#bdbdbd" stroke-width="1.2" />
<line x1="210.69" y1="182.50" x2="234.00" y2="187.50" stroke="#bdbdbd" stroke-width="1.2" />
<line x1="210.69" y1="182.50" x2="211.12" y2="176.00" stroke="#bdbdbd" stroke-width="1.2" />
<line x1="234.00" y1="187.50" x2="281.00" y2="171.00" stroke="#bdbdbd" stroke-width="1.2" />
<line x1="234.00" y1="187.50" x2="258.12" y2="173.19" stroke="#bdbdbd" stroke-width="1.2" />
<line x1="258.12" y1="173.19" x2="281.00" y2="171.00" stroke="#bdbdbd" stroke-width="1.2" />
<line x1="258.12" y1="173.19" x2="258.75" y2="167.12" stroke="#bdbdbd" stroke-width="1.2" />
<line x1="281.00" y1="171.00" x2="316.50" y2="157.50" stroke="#bdbdbd" stroke-width="1.2" />
<line x1="281.00" y1="171.00" x2="299.31" y2="158.81" stroke="#bdbdbd" stroke-width="1.2" />
<line x1="299.31" y1="158.81" x2="316.50" y2="157.50" stroke="#bdbdbd" stroke-width="1.2" />
<line x1="299.31" y1="158.81" x2="299.88" y2="153.38" stroke="#bdbdbd" stroke-width="1.2" />
<line x1="41.75" y1="136.00" x2="63.25" y2="143.00" stroke="#bdbdbd" stroke-width="1.2" />
<line x1="41.75" y1="136.00" x2="52.00" y2="135.50" stroke="#bdbdbd" stroke-width="1.2" />
<line x1="52.00" y1="135.50" x2="63.25" y2="143.00" stroke="#bdbdbd" stroke-width="1.2" />
<line x1="52.00" y1="135.50" x2="51.50" y2="131.50" stroke="#bdbdbd" stroke-width="1.2" />
<line x1="63.25" y1="143.00" x2="86.25" y2="148.62" stroke="#bdbdbd" stroke-width="1.2" />
<line x1="63.25" y1="143.00" x2="75.12" y2="141.66" stroke="#bdbdbd" stroke-width="1.2" />
<line x1="75.12" y1="141.66" x2="86.25" y2="148.62" stroke="#bdbdbd" stroke-width="1.2" />
<line x1="75.12" y1="141.66" x2="75.50" y2="137.50" stroke="#bdbdbd" stroke-width="1.2" />
<line x1="86.25" y1="148.62" x2="110.12" y2="154.50" stroke="#bdbdbd" stroke-width="1.2" />
<line x1="86.25" y1="148.62" x2="99.34" y2="147.03" stroke="#bdbdbd" stroke-width="1.2" />
<line x1="99.34" y1="147.03" x2="110.12" y2="154.50" stroke="#bdbdbd" stroke-width="1.2" />
<line x1="99.34" y1="147.03" x2="100.50" y2="142.50" stroke="#bdbdbd" stroke-width="1.2" />
<line x1="110.12" y1="154.50" x2="133.25" y2="160.88" stroke="#bdbdbd" stroke-width="1.2" />
<line x1="110.12" y1="154.50" x2="123.09" y2="152.59" stroke="#bdbdbd" stroke-width="1.2" />
<line x1="123.09" y1="152.59" x2="133.25" y2="160.88" stroke="#bdbdbd" stroke-width="1.2" />
<line x1="123.09" y1="152.59" x2="124.50" y2="147.50" stroke="#bdbdbd" stroke-width="1.2" />
<line x1="133.25" y1="160.88" x2="158.25" y2="168.00" stroke="#bdbdbd" stroke-width="1.2" />
<line x1="133.25" y1="160.88" x2="146.88" y2="158.72" stroke="#bdbdbd" stroke-width="1.2" />
<line x1="146.88" y1="158.72" x2="158.25" y2="168.00" stroke="#bdbdbd" stroke-width="1.2" />
<line x1="146.88" y1="158.72" x2="148.00" y2="153.00" stroke="#bdbdbd" stroke-width="1.2" />
<line x1="158.25" y1="168.00" x2="187.25" y2="177.25" stroke="#bdbdbd" stroke-width="1.2" />
<line x1="158.25" y1="168.00" x2="173.38" y2="166.31" stroke="#bdbdbd" stroke-width="1.2" />
<line x1="173.38" y1="166.31" x2="187.25" y2="177.25" stroke="#bdbdbd" stroke-width="1.2" />
<line x1="173.38" y1="166.31" x2="174.00" y2="160.00" stroke="#bdbdbd" stroke-width="1.2" />
<line x1="187.25" y1="177.25" x2="235.00" y2="174.75" stroke="#bdbdbd" stroke-width="1.2" />
<line x1="187.25" y1="177.25" x2="211.56" y2="169.50" stroke="#bdbdbd" stroke-width="1.2" />
<line x1="211.56" y1="169.50" x2="235.00" y2="174.75" stroke="#bdbdbd" stroke-width="1.2" />
<line x1="211.56" y1="169.50" x2="212.00" y2="163.00" stroke="#bdbdbd" stroke-width="1.2" />
<line x1="235.00" y1="174.75" x2="282.50" y2="159.50" stroke="#bdbdbd" stroke-width="1.2" />
<line x1="235.00" y1="174.75" x2="259.38" y2="161.06" stroke="#bdbdbd" stroke-width="1.2" />
<line x1="259.38" y1="161.06" x2="282.50" y2="159.50" stroke="#bdbdbd" stroke-width="1.2" />
<line x1="259.38" y1="161.06" x2="260.00" y2="155.00" stroke="#bdbdbd" stroke-width="1.2" />
<line x1="282.50" y1="159.50" x2="317.25" y2="147.25" stroke="#bdbdbd" stroke-width="1.2" />
<line x1="282.50" y1="159.50" x2="300.44" y2="147.94" stroke="#bdbdbd" stroke-width="1.2" />
<line x1="300.44" y1="147.94" x2="317.25" y2="147.25" stroke="#bdbdbd" stroke-width="1.2" />
<line x1="300.44" y1="147.94" x2="301.00" y2="142.50" stroke="#bdbdbd" stroke-width="1.2" />
<line x1="40.00" y1="128.00" x2="63.00" y2="135.00" stroke="#bdbdbd" stroke-width="1.2" />
<line x1="63.00" y1="135.00" x2="88.00" y2="140.00" stroke="#bdbdbd" stroke-width="1.2" />
<line x1="88.00" y1="140.00" x2="113.00" y2="145.00" stroke="#bdbdbd" stroke-width="1.2" />
<line x1="113.00" y1="145.00" x2="136.00" y2="150.00" stroke="#bdbdbd" stroke-width="1.2" />
<line x1="136.00" y1="150.00" x2="160.00" y2="156.00" stroke="#bdbdbd" stroke-width="1.2" />
<line x1="160.00" y1="156.00" x2="188.00" y2="164.00" stroke="#bdbdbd" stroke-width="1.2" />
<line x1="188.00" y1="164.00" x2="236.00" y2="162.00" stroke="#bdbdbd" stroke-width="1.2" />
<line x1="236.00" y1="162.00" x2="284.00" y2="148.00" stroke="#bdbdbd" stroke-width="1.2" />
<line x1="284.00" y1="148.00" x2="318.00" y2="137.00" stroke="#bdbdbd" stroke-width="1.2" />
<line x1="30.00" y1="128.00" x2="29.33" y2="122.83" stroke="#bdbdbd" stroke-width="1.2" />
<line x1="45.00" y1="133.00" x2="43.83" y2="127.17" stroke="#bdbdbd" stroke-width="1.2" />
<line x1="60.00" y1="137.00" x2="58.50" y2="130.67" stroke="#bdbdbd" stroke-width="1.2" />
<line x1="76.00" y1="141.00" x2="74.00" y2="134.17" stroke="#bdbdbd" stroke-width="1.2" />
<line x1="92.00" y1="144.00" x2="89.67" y2="136.92" stroke="#bdbdbd" stroke-width="1.2" />
<line x1="108.00" y1="147.00" x2="105.50" y2="139.67" stroke="#bdbdbd" stroke-width="1.2" />
<line x1="125.00" y1="150.00" x2="122.33" y2="142.42" stroke="#bdbdbd" stroke-width="1.2" />
<line x1="142.00" y1="153.00" x2="139.50" y2="145.25" stroke="#bdbdbd" stroke-width="1.2" />
<line x1="160.00" y1="157.00" x2="158.00" y2="149.00" stroke="#bdbdbd" stroke-width="1.2" />
<line x1="185.00" y1="162.00" x2="182.83" y2="153.67" stroke="#bdbdbd" stroke-width="1.2" />
<line x1="210.00" y1="162.00" x2="207.50" y2="154.17" stroke="#bdbdbd" stroke-width="1.2" />
<line x1="234.50" y1="158.00" x2="231.75" y2="151.33" stroke="#bdbdbd" stroke-width="1.2" />
<line x1="260.00" y1="151.00" x2="256.67" y2="146.00" stroke="#bdbdbd" stroke-width="1.2" />
<line x1="282.00" y1="144.00" x2="278.67" y2="140.67" stroke="#bdbdbd" stroke-width="1.2" />
<line x1="302.00" y1="139.00" x2="300.00" y2="137.00" stroke="#bdbdbd" stroke-width="1.2" />
<line x1="319.00" y1="133.00" x2="319.17" y2="132.33" stroke="#bdbdbd" stroke-width="1.2" />
<line x1="29.33" y1="122.83" x2="28.67" y2="117.67" stroke="#bdbdbd" stroke-width="1.2" />
<line x1="43.83" y1="127.17" x2="42.67" y2="121.33" stroke="#bdbdbd" stroke-width="1.2" />
<line x1="58.50" y1="130.67" x2="57.00" y2="124.33" stroke="#bdbdbd" stroke-width="1.2" />
<line x1="74.00" y1="134.17" x2="72.00" y2="127.33" stroke="#bdbdbd" stroke-width="1.2" />
<line x1="89.67" y1="136.92" x2="87.33" y2="129.83" stroke="#bdbdbd" stroke-width="1.2" />
<line x1="105.50" y1="139.67" x2="103.00" y2="132.33" stroke="#bdbdbd" stroke-width="1.2" />
<line x1="122.33" y1="142.42" x2="119.67" y2="134.83" stroke="#bdbdbd" stroke-width="1.2" />
<line x1="139.50" y1="145.25" x2="137.00" y2="137.50" stroke="#bdbdbd" stroke-width="1.2" />
<line x1="158.00" y1="149.00" x2="156.00" y2="141.00" stroke="#bdbdbd" stroke-width="1.2" />
<line x1="182.83" y1="153.67" x2="180.67" y2="145.33" stroke="#bdbdbd" stroke-width="1.2" />
<line x1="207.50" y1="154.17" x2="205.00" y2="146.33" stroke="#bdbdbd" stroke-width="1.2" />
<line x1="231.75" y1="151.33" x2="229.00" y2="144.67" stroke="#bdbdbd" stroke-width="1.2" />
<line x1="256.67" y1="146.00" x2="253.33" y2="141.00" stroke="#bdbdbd" stroke-width="1.2" />
<line x1="278.67" y1="140.67" x2="275.33" y2="137.33" stroke="#bdbdbd" stroke-width="1.2" />
<line x1="300.00" y1="137.00" x2="298.00" y2="135.00" stroke="#bdbdbd" stroke-width="1.2" />
<line x1="319.17" y1="132.33" x2="319.33" y2="131.67" stroke="#bdbdbd" stroke-width="1.2" />
<line x1="28.67" y1="117.67" x2="28.00" y2="112.50" stroke="#bdbdbd" stroke-width="1.2" />
<line x1="42.67" y1="121.33" x2="41.50" y2="115.50" stroke="#bdbdbd" stroke-width="1.2" />
<line x1="57.00" y1="124.33" x2="55.50" y2="118.00" stroke="#bdbdbd" stroke-width="1.2" />
<line x1="72.00" y1="127.33" x2="70.00" y2="120.50" stroke="#bdbdbd" stroke-width="1.2" />
<line x1="87.33" y1="129.83" x2="85.00" y2="122.75" stroke="#bdbdbd" stroke-width="1.2" />
<line x1="103.00" y1="132.33" x2="100.50" y2="125.00" stroke="#bdbdbd" stroke-width="1.2" />
<line x1="119.67" y1="134.83" x2="117.00" y2="127.25" stroke="#bdbdbd" stroke-width="1.2" />
<line x1="137.00" y1="137.50" x2="134.50" y2="129.75" stroke="#bdbdbd" stroke-width="1.2" />
<line x1="156.00" y1="141.00" x2="154.00" y2="133.00" stroke="#bdbdbd" stroke-width="1.2" />
<line x1="180.67" y1="145.33" x2="178.50" y2="137.00" stroke="#bdbdbd" stroke-width="1.2" />
<line x1="205.00" y1="146.33" x2="202.50" y2="138.50" stroke="#bdbdbd" stroke-width="1.2" />
<line x1="229.00" y1="144.67" x2="226.25" y2="138.00" stroke="#bdbdbd" stroke-width="1.2" />
<line x1="253.33" y1="141.00" x2="250.00" y2="136.00" stroke="#bdbdbd" stroke-width="1.2" />
<line x1="275.33" y1="137.33" x2="272.00" y2="134.00" stroke="#bdbdbd" stroke-width="1.2" />
<line x1="298.00" y1="135.00" x2="296.00" y2="133.00" stroke="#bdbdbd" stroke-width="1.2" />
<line x1="319.33" y1="131.67" x2="319.50" y2="131.00" stroke="#bdbdbd" stroke-width="1.2" />
<line x1="28.00" y1="112.50" x2="27.33" y2="107.33" stroke="#bdbdbd" stroke-width="1.2" />
<line x1="41.50" y1="115.50" x2="40.33" y2="109.67" stroke="#bdbdbd" stroke-width="1.2" />
<line x1="55.50" y1="118.00" x2="54.00" y2="111.67" stroke="#bdbdbd" stroke-width="1.2" />
<line x1="70.00" y1="120.50" x2="68.00" y2="113.67" stroke="#bdbdbd" stroke-width="1.2" />
<line x1="85.00" y1="122.75" x2="82.67" y2="115.67" stroke="#bdbdbd" stroke-width="1.2" />
<line x1="100.50" y1="125.00" x2="98.00" y2="117.67" stroke="#bdbdbd" stroke-width="1.2" />
<line x1="117.00" y1="127.25" x2="114.33" y2="119.67" stroke="#bdbdbd" stroke-width="1.2" />
<line x1="134.50" y1="129.75" x2="132.00" y2="122.00" stroke="#bdbdbd" stroke-width="1.2" />
<line x1="154.00" y1="133.00" x2="152.00" y2="125.00" stroke="#bdbdbd" stroke-width="1.2" />
<line x1="178.50" y1="137.00" x2="176.33" y2="128.67" stroke="#bdbdbd" stroke-width="1.2" />
<line x1="202.50" y1="138.50" x2="200.00" y2="130.67" stroke="#bdbdbd" stroke-width="1.2" />
<line x1="226.25" y1="138.00" x2="223.50" y2="131.33" stroke="#bdbdbd" stroke-width="1.2" />
<line x1="250.00" y1="136.00" x2="246.67" y2="131.00" stroke="#bdbdbd" stroke-width="1.2" />
<line x1="272.00" y1="134.00" x2="268.67" y2="130.67" stroke="#bdbdbd" stroke-width="1.2" />
<line x1="296.00" y1="133.00" x2="294.00" y2="131.00" stroke="#bdbdbd" stroke-width="1.2" />
<line x1="319.50" y1="131.00" x2="319.67" y2="130.33" stroke="#bdbdbd" stroke-width="1.2" />
<line x1="27.33" y1="107.33" x2="26.67" y2="102.17" stroke="#bdbdbd" stroke-width="1.2" />
<line x1="40.33" y1="109.67" x2="39.17" y2="103.83" stroke="#bdbdbd" stroke-width="1.2" />
<line x1="54.00" y1="111.67" x2="52.50" y2="105.33" stroke="#bdbdbd" stroke-width="1.2" />
<line x1="68.00" y1="113.67" x2="66.00" y2="106.83" stroke="#bdbdbd" stroke-width="1.2" />
<line x1="82.67" y1="115.67" x2="80.33" y2="108.58" stroke="#bdbdbd" stroke-width="1.2" />
<line x1="98.00" y1="117.67" x2="95.50" y2="110.33" stroke="#bdbdbd" stroke-width="1.2" />
<line x1="114.33" y1="119.67" x2="111.67" y2="112.08" stroke="#bdbdbd" stroke-width="1.2" />
<line x1="132.00" y1="122.00" x2="129.50" y2="114.25" stroke="#bdbdbd" stroke-width="1.2" />
<line x1="152.00" y1="125.00" x2="150.00" y2="117.00" stroke="#bdbdbd" stroke-width="1.2" />
<line x1="176.33" y1="128.67" x2="174.17" y2="120.33" stroke="#bdbdbd" stroke-width="1.2" />
<line x1="200.00" y1="130.67" x2="197.50" y2="122.83" stroke="#bdbdbd" stroke-width="1.2" />
<line x1="223.50" y1="131.33" x2="220.75" y2="124.67" stroke="#bdbdbd" stroke-width="1.2" />
<line x1="246.67" y1="131.00" x2="243.33" y2="126.00" stroke="#bdbdbd" stroke-width="1.2" />
<line x1="268.67" y1="130.67" x2="265.33" y2="127.33" stroke="#bdbdbd" stroke-width="1.2" />
<line x1="294.00" y1="131.00" x2="292.00" y2="129.00" stroke="#bdbdbd" stroke-width="1.2" />
<line x1="319.67" y1="130.33" x2="319.83" y2="129.67" stroke="#bdbdbd" stroke-width="1.2" />
<line x1="26.67" y1="102.17" x2="26.00" y2="97.00" stroke="#bdbdbd" stroke-width="1.2" />
<line x1="39.17" y1="103.83" x2="38.00" y2="98.00" stroke="#bdbdbd" stroke-width="1.2" />
<line x1="52.50" y1="105.33" x2="51.00" y2="99.00" stroke="#bdbdbd" stroke-width="1.2" />
<line x1="66.00" y1="106.83" x2="64.00" y2="100.00" stroke="#bdbdbd" stroke-width="1.2" />
<line x1="80.33" y1="108.58" x2="78.00" y2="101.50" stroke="#bdbdbd" stroke-width="1.2" />
<line x1="95.50" y1="110.33" x2="93.00" y2="103.00" stroke="#bdbdbd" stroke-width="1.2" />
<line x1="111.67" y1="112.08" x2="109.00" y2="104.50" stroke="#bdbdbd" stroke-width="1.2" />
<line x1="129.50" y1="114.25" x2="127.00" y2="106.50" stroke="#bdbdbd" stroke-width="1.2" />
<line x1="150.00" y1="117.00" x2="148.00" y2="109.00" stroke="#bdbdbd" stroke-width="1.2" />
<line x1="174.17" y1="120.33" x2="172.00" y2="112.00" stroke="#bdbdbd" stroke-width="1.2" />
<line x1="197.50" y1="122.83" x2="195.00" y2="115.00" stroke="#bdbdbd" stroke-width="1.2" />
<line x1="220.75" y1="124.67" x2="218.00" y2="118.00" stroke="#bdbdbd" stroke-width="1.2" />
<line x1="243.33" y1="126.00" x2="240.00" y2="121.00" stroke="#bdbdbd" stroke-width="1.2" />
<line x1="265.33" y1="127.33" x2="262.00" y2="124.00" stroke="#bdbdbd" stroke-width="1.2" />
<line x1="292.00" y1="129.00" x2="290.00" y2="127.00" stroke="#bdbdbd" stroke-width="1.2" />
<line x1="319.83" y1="129.67" x2="320.00" y2="129.00" stroke="#bdbdbd" stroke-width="1.2" />
<circle cx="26.00" cy="97.00" r="3.28" fill="url(#ab)" stroke="none" stroke-width="1" />
<circle cx="38.00" cy="98.00" r="3.33" fill="url(#ab)" stroke="none" stroke-width="1" />
<circle cx="51.00" cy="99.00" r="3.38" fill="url(#ab)" stroke="none" stroke-width="1" />
<circle cx="64.00" cy="100.00" r="3.43" fill="url(#ab)" stroke="none" stroke-width="1" />
<circle cx="78.00" cy="101.50" r="3.48" fill="url(#ab)" stroke="none" stroke-width="1" />
<circle cx="93.00" cy="103.00" r="3.54" fill="url(#ab)" stroke="none" stroke-width="1" />
<circle cx="109.00" cy="104.50" r="3.60" fill="url(#ab)" stroke="none" stroke-width="1" />
<circle cx="127.00" cy="106.50" r="3.67" fill="url(#ab)" stroke="none" stroke-width="1" />
<circle cx="148.00" cy="109.00" r="3.75" fill="url(#ab)" stroke="none" stroke-width="1" />
<circle cx="172.00" cy="112.00" r="3.84" fill="url(#ab)" stroke="none" stroke-width="1" />
<circle cx="195.00" cy="115.00" r="3.93" fill="url(#ab)" stroke="none" stroke-width="1" />
<circle cx="218.00" cy="118.00" r="4.01" fill="url(#ab)" stroke="none" stroke-width="1" />
<circle cx="240.00" cy="121.00" r="4.10" fill="url(#ab)" stroke="none" stroke-width="1" />
<circle cx="262.00" cy="124.00" r="4.18" fill="url(#ab)" stroke="none" stroke-width="1" />
<circle cx="290.00" cy="127.00" r="4.29" fill="url(#ab)" stroke="none" stroke-width="1" />
<circle cx="320.00" cy="129.00" r="4.40" fill="url(#ab)" stroke="none" stroke-width="1" />
<circle cx="32.46" cy="102.75" r="2.78" fill="url(#ak)" stroke="none" stroke-width="1" />
<circle cx="45.17" cy="104.04" r="2.82" fill="url(#ar)" stroke="none" stroke-width="1" />
<circle cx="58.38" cy="105.29" r="2.86" fill="url(#ar)" stroke="none" stroke-width="1" />
<circle cx="72.08" cy="106.73" r="2.90" fill="url(#ar)" stroke="none" stroke-width="1" />
<circle cx="86.71" cy="108.35" r="2.95" fill="url(#ar)" stroke="none" stroke-width="1" />
<circle cx="119.29" cy="111.83" r="3.04" fill="url(#ak)" stroke="none" stroke-width="1" />
<circle cx="138.62" cy="114.19" r="3.10" fill="url(#ar)" stroke="none" stroke-width="1" />
<circle cx="184.67" cy="120.04" r="3.24" fill="url(#ar)" stroke="none" stroke-width="1" />
<circle cx="207.81" cy="122.62" r="3.31" fill="url(#ar)" stroke="none" stroke-width="1" />
<circle cx="252.67" cy="127.08" r="3.45" fill="url(#ak)" stroke="none" stroke-width="1" />
<circle cx="277.33" cy="129.33" r="3.52" fill="url(#ar)" stroke="none" stroke-width="1" />
<circle cx="26.67" cy="102.17" r="3.45" fill="url(#ab)" stroke="none" stroke-width="1" />
<circle cx="39.17" cy="103.83" r="3.50" fill="url(#ab)" stroke="none" stroke-width="1" />
<circle cx="52.50" cy="105.33" r="3.55" fill="url(#ab)" stroke="none" stroke-width="1" />
<circle cx="66.00" cy="106.83" r="3.60" fill="url(#ab)" stroke="none" stroke-width="1" />
<circle cx="80.33" cy="108.58" r="3.66" fill="url(#ab)" stroke="none" stroke-width="1" />
<circle cx="95.50" cy="110.33" r="3.72" fill="url(#ab)" stroke="none" stroke-width="1" />
<circle cx="111.67" cy="112.08" r="3.78" fill="url(#ab)" stroke="none" stroke-width="1" />
<circle cx="129.50" cy="114.25" r="3.84" fill="url(#ab)" stroke="none" stroke-width="1" />
<circle cx="150.00" cy="117.00" r="3.92" fill="url(#ab)" stroke="none" stroke-width="1" />
<circle cx="174.17" cy="120.33" r="4.01" fill="url(#ab)" stroke="none" stroke-width="1" />
<circle cx="197.50" cy="122.83" r="4.10" fill="url(#ab)" stroke="none" stroke-width="1" />
<circle cx="220.75" cy="124.67" r="4.19" fill="url(#ab)" stroke="none" stroke-width="1" />
<circle cx="243.33" cy="126.00" r="4.28" fill="url(#ab)" stroke="none" stroke-width="1" />
<circle cx="265.33" cy="127.33" r="4.36" fill="url(#ab)" stroke="none" stroke-width="1" />
<circle cx="292.00" cy="129.00" r="4.46" fill="url(#ab)" stroke="none" stroke-width="1" />
<circle cx="319.83" cy="129.67" r="4.57" fill="url(#ab)" stroke="none" stroke-width="1" />
<circle cx="33.38" cy="108.25" r="2.92" fill="url(#ar)" stroke="none" stroke-width="1" />
<circle cx="46.50" cy="110.12" r="2.96" fill="url(#ar)" stroke="none" stroke-width="1" />
<circle cx="74.25" cy="113.69" r="3.04" fill="url(#ak)" stroke="none" stroke-width="1" />
<circle cx="89.12" cy="115.56" r="3.09" fill="url(#ar)" stroke="none" stroke-width="1" />
<circle cx="104.88" cy="117.44" r="3.13" fill="url(#ar)" stroke="none" stroke-width="1" />
<circle cx="121.88" cy="119.50" r="3.19" fill="url(#ar)" stroke="none" stroke-width="1" />
<circle cx="140.88" cy="122.06" r="3.24" fill="url(#ar)" stroke="none" stroke-width="1" />
<circle cx="163.12" cy="125.25" r="3.31" fill="url(#ak)" stroke="none" stroke-width="1" />
<circle cx="187.00" cy="128.12" r="3.38" fill="url(#ar)" stroke="none" stroke-width="1" />
<circle cx="210.44" cy="129.88" r="3.45" fill="url(#ar)" stroke="none" stroke-width="1" />
<circle cx="233.56" cy="130.75" r="3.52" fill="url(#ar)" stroke="none" stroke-width="1" />
<circle cx="256.00" cy="131.25" r="3.59" fill="url(#ar)" stroke="none" stroke-width="1" />
<circle cx="280.00" cy="132.00" r="3.67" fill="url(#ak)" stroke="none" stroke-width="1" />
<circle cx="306.38" cy="132.50" r="3.75" fill="url(#ar)" stroke="none" stroke-width="1" />
<circle cx="27.33" cy="107.33" r="3.62" fill="url(#ab)" stroke="none" stroke-width="1" />
<circle cx="40.33" cy="109.67" r="3.67" fill="url(#ab)" stroke="none" stroke-width="1" />
<circle cx="54.00" cy="111.67" r="3.72" fill="url(#ab)" stroke="none" stroke-width="1" />
<circle cx="68.00" cy="113.67" r="3.78" fill="url(#ab)" stroke="none" stroke-width="1" />
<circle cx="82.67" cy="115.67" r="3.83" fill="url(#ab)" stroke="none" stroke-width="1" />
<circle cx="98.00" cy="117.67" r="3.89" fill="url(#ab)" stroke="none" stroke-width="1" />
<circle cx="114.33" cy="119.67" r="3.95" fill="url(#ab)" stroke="none" stroke-width="1" />
<circle cx="132.00" cy="122.00" r="4.02" fill="url(#ab)" stroke="none" stroke-width="1" />
<circle cx="152.00" cy="125.00" r="4.10" fill="url(#ab)" stroke="none" stroke-width="1" />
<circle cx="176.33" cy="128.67" r="4.19" fill="url(#ab)" stroke="none" stroke-width="1" />
<circle cx="200.00" cy="130.67" r="4.28" fill="url(#ab)" stroke="none" stroke-width="1" />
<circle cx="223.50" cy="131.33" r="4.37" fill="url(#ab)" stroke="none" stroke-width="1" />
<circle cx="246.67" cy="131.00" r="4.46" fill="url(#ab)" stroke="none" stroke-width="1" />
<circle cx="268.67" cy="130.67" r="4.54" fill="url(#ab)" stroke="none" stroke-width="1" />
<circle cx="294.00" cy="131.00" r="4.63" fill="url(#ab)" stroke="none" stroke-width="1" />
<circle cx="319.67" cy="130.33" r="4.73" fill="url(#ab)" stroke="none" stroke-width="1" />
<circle cx="34.29" cy="113.75" r="3.05" fill="url(#ar)" stroke="none" stroke-width="1" />
<circle cx="47.83" cy="116.21" r="3.09" fill="url(#ak)" stroke="none" stroke-width="1" />
<circle cx="61.88" cy="118.46" r="3.14" fill="url(#ar)" stroke="none" stroke-width="1" />
<circle cx="91.54" cy="122.77" r="3.23" fill="url(#ak)" stroke="none" stroke-width="1" />
<circle cx="107.46" cy="124.90" r="3.28" fill="url(#ar)" stroke="none" stroke-width="1" />
<circle cx="124.46" cy="127.17" r="3.33" fill="url(#ar)" stroke="none" stroke-width="1" />
<circle cx="165.21" cy="133.42" r="3.45" fill="url(#ar)" stroke="none" stroke-width="1" />
<circle cx="213.06" cy="137.12" r="3.60" fill="url(#ar)" stroke="none" stroke-width="1" />
<circle cx="236.60" cy="136.58" r="3.67" fill="url(#ar)" stroke="none" stroke-width="1" />
<circle cx="259.33" cy="135.42" r="3.74" fill="url(#ak)" stroke="none" stroke-width="1" />
<circle cx="282.67" cy="134.67" r="3.81" fill="url(#ak)" stroke="none" stroke-width="1" />
<circle cx="307.29" cy="133.83" r="3.88" fill="url(#ar)" stroke="none" stroke-width="1" />
<circle cx="28.00" cy="112.50" r="3.79" fill="url(#ab)" stroke="none" stroke-width="1" />
<circle cx="41.50" cy="115.50" r="3.84" fill="url(#ab)" stroke="none" stroke-width="1" />
<circle cx="55.50" cy="118.00" r="3.90" fill="url(#ab)" stroke="none" stroke-width="1" />
<circle cx="70.00" cy="120.50" r="3.95" fill="url(#ab)" stroke="none" stroke-width="1" />
<circle cx="85.00" cy="122.75" r="4.01" fill="url(#ab)" stroke="none" stroke-width="1" />
<circle cx="100.50" cy="125.00" r="4.07" fill="url(#ab)" stroke="none" stroke-width="1" />
<circle cx="117.00" cy="127.25" r="4.13" fill="url(#ab)" stroke="none" stroke-width="1" />
<circle cx="134.50" cy="129.75" r="4.20" fill="url(#ab)" stroke="none" stroke-width="1" />
<circle cx="154.00" cy="133.00" r="4.27" fill="url(#ab)" stroke="none" stroke-width="1" />
<circle cx="178.50" cy="137.00" r="4.36" fill="url(#ab)" stroke="none" stroke-width="1" />
<circle cx="202.50" cy="138.50" r="4.45" fill="url(#ab)" stroke="none" stroke-width="1" />
<circle cx="226.25" cy="138.00" r="4.54" fill="url(#ab)" stroke="none" stroke-width="1" />
<circle cx="250.00" cy="136.00" r="4.63" fill="url(#ab)" stroke="none" stroke-width="1" />
<circle cx="272.00" cy="134.00" r="4.72" fill="url(#ab)" stroke="none" stroke-width="1" />
<circle cx="296.00" cy="133.00" r="4.81" fill="url(#ab)" stroke="none" stroke-width="1" />
<circle cx="319.50" cy="131.00" r="4.90" fill="url(#ab)" stroke="none" stroke-width="1" />
<circle cx="35.21" cy="119.25" r="3.19" fill="url(#ar)" stroke="none" stroke-width="1" />
<circle cx="49.17" cy="122.29" r="3.23" fill="url(#ak)" stroke="none" stroke-width="1" />
<circle cx="63.62" cy="125.04" r="3.28" fill="url(#ar)" stroke="none" stroke-width="1" />
<circle cx="78.58" cy="127.60" r="3.32" fill="url(#ak)" stroke="none" stroke-width="1" />
<circle cx="93.96" cy="129.98" r="3.37" fill="url(#ar)" stroke="none" stroke-width="1" />
<circle cx="110.04" cy="132.35" r="3.42" fill="url(#ar)" stroke="none" stroke-width="1" />
<circle cx="167.29" cy="141.58" r="3.59" fill="url(#ak)" stroke="none" stroke-width="1" />
<circle cx="191.67" cy="144.29" r="3.66" fill="url(#ak)" stroke="none" stroke-width="1" />
<circle cx="215.69" cy="144.38" r="3.74" fill="url(#ar)" stroke="none" stroke-width="1" />
<circle cx="239.65" cy="142.42" r="3.81" fill="url(#ar)" stroke="none" stroke-width="1" />
<circle cx="262.67" cy="139.58" r="3.88" fill="url(#ar)" stroke="none" stroke-width="1" />
<circle cx="285.33" cy="137.33" r="3.95" fill="url(#ar)" stroke="none" stroke-width="1" />
<circle cx="308.21" cy="135.17" r="4.02" fill="url(#ak)" stroke="none" stroke-width="1" />
<circle cx="28.67" cy="117.67" r="3.96" fill="url(#ab)" stroke="none" stroke-width="1" />
<circle cx="42.67" cy="121.33" r="4.01" fill="url(#ab)" stroke="none" stroke-width="1" />
<circle cx="57.00" cy="124.33" r="4.07" fill="url(#ab)" stroke="none" stroke-width="1" />
<circle cx="72.00" cy="127.33" r="4.13" fill="url(#ab)" stroke="none" stroke-width="1" />
<circle cx="87.33" cy="129.83" r="4.18" fill="url(#ab)" stroke="none" stroke-width="1" />
<circle cx="103.00" cy="132.33" r="4.24" fill="url(#ab)" stroke="none" stroke-width="1" />
<circle cx="119.67" cy="134.83" r="4.31" fill="url(#ab)" stroke="none" stroke-width="1" />
<circle cx="137.00" cy="137.50" r="4.37" fill="url(#ab)" stroke="none" stroke-width="1" />
<circle cx="156.00" cy="141.00" r="4.44" fill="url(#ab)" stroke="none" stroke-width="1" />
<circle cx="180.67" cy="145.33" r="4.54" fill="url(#ab)" stroke="none" stroke-width="1" />
<circle cx="205.00" cy="146.33" r="4.63" fill="url(#ab)" stroke="none" stroke-width="1" />
<circle cx="229.00" cy="144.67" r="4.72" fill="url(#ab)" stroke="none" stroke-width="1" />
<circle cx="253.33" cy="141.00" r="4.81" fill="url(#ab)" stroke="none" stroke-width="1" />
<circle cx="275.33" cy="137.33" r="4.90" fill="url(#ab)" stroke="none" stroke-width="1" />
<circle cx="298.00" cy="135.00" r="4.98" fill="url(#ab)" stroke="none" stroke-width="1" />
<circle cx="319.33" cy="131.67" r="5.06" fill="url(#ab)" stroke="none" stroke-width="1" />
<circle cx="36.12" cy="124.75" r="3.33" fill="url(#ar)" stroke="none" stroke-width="1" />
<circle cx="80.75" cy="134.56" r="3.46" fill="url(#ak)" stroke="none" stroke-width="1" />
<circle cx="96.38" cy="137.19" r="3.51" fill="url(#ak)" stroke="none" stroke-width="1" />
<circle cx="112.62" cy="139.81" r="3.56" fill="url(#ar)" stroke="none" stroke-width="1" />
<circle cx="129.62" cy="142.50" r="3.61" fill="url(#ar)" stroke="none" stroke-width="1" />
<circle cx="147.62" cy="145.69" r="3.66" fill="url(#ar)" stroke="none" stroke-width="1" />
<circle cx="169.38" cy="149.75" r="3.73" fill="url(#ar)" stroke="none" stroke-width="1" />
<circle cx="194.00" cy="152.38" r="3.80" fill="url(#ar)" stroke="none" stroke-width="1" />
<circle cx="218.31" cy="151.62" r="3.88" fill="url(#ar)" stroke="none" stroke-width="1" />
<circle cx="242.69" cy="148.25" r="3.95" fill="url(#ar)" stroke="none" stroke-width="1" />
<circle cx="266.00" cy="143.75" r="4.02" fill="url(#ar)" stroke="none" stroke-width="1" />
<circle cx="288.00" cy="140.00" r="4.09" fill="url(#ar)" stroke="none" stroke-width="1" />
<circle cx="309.12" cy="136.50" r="4.15" fill="url(#ak)" stroke="none" stroke-width="1" />
<circle cx="29.33" cy="122.83" r="4.13" fill="url(#ab)" stroke="none" stroke-width="1" />
<circle cx="43.83" cy="127.17" r="4.19" fill="url(#ab)" stroke="none" stroke-width="1" />
<circle cx="58.50" cy="130.67" r="4.24" fill="url(#ab)" stroke="none" stroke-width="1" />
<circle cx="74.00" cy="134.17" r="4.30" fill="url(#ab)" stroke="none" stroke-width="1" />
<circle cx="89.67" cy="136.92" r="4.36" fill="url(#ab)" stroke="none" stroke-width="1" />
<circle cx="105.50" cy="139.67" r="4.42" fill="url(#ab)" stroke="none" stroke-width="1" />
<circle cx="122.33" cy="142.42" r="4.48" fill="url(#ab)" stroke="none" stroke-width="1" />
<circle cx="139.50" cy="145.25" r="4.55" fill="url(#ab)" stroke="none" stroke-width="1" />
<circle cx="158.00" cy="149.00" r="4.62" fill="url(#ab)" stroke="none" stroke-width="1" />
<circle cx="182.83" cy="153.67" r="4.71" fill="url(#ab)" stroke="none" stroke-width="1" />
<circle cx="207.50" cy="154.17" r="4.81" fill="url(#ab)" stroke="none" stroke-width="1" />
<circle cx="231.75" cy="151.33" r="4.90" fill="url(#ab)" stroke="none" stroke-width="1" />
<circle cx="256.67" cy="146.00" r="4.99" fill="url(#ab)" stroke="none" stroke-width="1" />
<circle cx="278.67" cy="140.67" r="5.08" fill="url(#ab)" stroke="none" stroke-width="1" />
<circle cx="300.00" cy="137.00" r="5.16" fill="url(#ab)" stroke="none" stroke-width="1" />
<circle cx="319.17" cy="132.33" r="5.23" fill="url(#ab)" stroke="none" stroke-width="1" />
<circle cx="37.04" cy="130.25" r="3.46" fill="url(#ar)" stroke="none" stroke-width="1" />
<circle cx="51.83" cy="134.46" r="3.51" fill="url(#ar)" stroke="none" stroke-width="1" />
<circle cx="82.92" cy="141.52" r="3.60" fill="url(#ar)" stroke="none" stroke-width="1" />
<circle cx="98.79" cy="144.40" r="3.65" fill="url(#ar)" stroke="none" stroke-width="1" />
<circle cx="115.21" cy="147.27" r="3.70" fill="url(#ar)" stroke="none" stroke-width="1" />
<circle cx="132.21" cy="150.17" r="3.75" fill="url(#ar)" stroke="none" stroke-width="1" />
<circle cx="149.88" cy="153.56" r="3.80" fill="url(#ar)" stroke="none" stroke-width="1" />
<circle cx="171.46" cy="157.92" r="3.87" fill="url(#ak)" stroke="none" stroke-width="1" />
<circle cx="196.33" cy="160.46" r="3.94" fill="url(#ak)" stroke="none" stroke-width="1" />
<circle cx="220.94" cy="158.88" r="4.02" fill="url(#ar)" stroke="none" stroke-width="1" />
<circle cx="245.73" cy="154.08" r="4.09" fill="url(#ar)" stroke="none" stroke-width="1" />
<circle cx="269.33" cy="147.92" r="4.17" fill="url(#ar)" stroke="none" stroke-width="1" />
<circle cx="290.67" cy="142.67" r="4.23" fill="url(#ak)" stroke="none" stroke-width="1" />
<circle cx="310.04" cy="137.83" r="4.29" fill="url(#ak)" stroke="none" stroke-width="1" />
<circle cx="30.00" cy="128.00" r="4.30" fill="url(#ab)" stroke="none" stroke-width="1" />
<circle cx="45.00" cy="133.00" r="4.36" fill="url(#ab)" stroke="none" stroke-width="1" />
<circle cx="60.00" cy="137.00" r="4.41" fill="url(#ab)" stroke="none" stroke-width="1" />
<circle cx="76.00" cy="141.00" r="4.47" fill="url(#ab)" stroke="none" stroke-width="1" />
<circle cx="92.00" cy="144.00" r="4.54" fill="url(#ab)" stroke="none" stroke-width="1" />
<circle cx="108.00" cy="147.00" r="4.60" fill="url(#ab)" stroke="none" stroke-width="1" />
<circle cx="125.00" cy="150.00" r="4.66" fill="url(#ab)" stroke="none" stroke-width="1" />
<circle cx="142.00" cy="153.00" r="4.72" fill="url(#ab)" stroke="none" stroke-width="1" />
<circle cx="160.00" cy="157.00" r="4.79" fill="url(#ab)" stroke="none" stroke-width="1" />
<circle cx="185.00" cy="162.00" r="4.89" fill="url(#ab)" stroke="none" stroke-width="1" />
<circle cx="210.00" cy="162.00" r="4.98" fill="url(#ab)" stroke="none" stroke-width="1" />
<circle cx="234.50" cy="158.00" r="5.08" fill="url(#ab)" stroke="none" stroke-width="1" />
<circle cx="260.00" cy="151.00" r="5.17" fill="url(#ab)" stroke="none" stroke-width="1" />
<circle cx="282.00" cy="144.00" r="5.26" fill="url(#ab)" stroke="none" stroke-width="1" />
<circle cx="302.00" cy="139.00" r="5.33" fill="url(#ab)" stroke="none" stroke-width="1" />
<circle cx="319.00" cy="133.00" r="5.40" fill="url(#ab)" stroke="none" stroke-width="1" />
<circle cx="40.00" cy="128.00" r="3.33" fill="url(#ab)" stroke="none" stroke-width="1" />
<circle cx="63.00" cy="135.00" r="3.41" fill="url(#ab)" stroke="none" stroke-width="1" />
<circle cx="88.00" cy="140.00" r="3.50" fill="url(#ab)" stroke="none" stroke-width="1" />
<circle cx="113.00" cy="145.00" r="3.59" fill="url(#ab)" stroke="none" stroke-width="1" />
<circle cx="136.00" cy="150.00" r="3.67" fill="url(#ab)" stroke="none" stroke-width="1" />
<circle cx="160.00" cy="156.00" r="3.75" fill="url(#ab)" stroke="none" stroke-width="1" />
<circle cx="188.00" cy="164.00" r="3.84" fill="url(#ab)" stroke="none" stroke-width="1" />
<circle cx="236.00" cy="162.00" r="4.01" fill="url(#ab)" stroke="none" stroke-width="1" />
<circle cx="284.00" cy="148.00" r="4.18" fill="url(#ab)" stroke="none" stroke-width="1" />
<circle cx="318.00" cy="137.00" r="4.29" fill="url(#ab)" stroke="none" stroke-width="1" />
<circle cx="52.00" cy="135.50" r="3.40" fill="url(#ar)" stroke="none" stroke-width="1" />
<circle cx="75.12" cy="141.66" r="3.47" fill="url(#ar)" stroke="none" stroke-width="1" />
<circle cx="99.34" cy="147.03" r="3.55" fill="url(#ar)" stroke="none" stroke-width="1" />
<circle cx="123.09" cy="152.59" r="3.63" fill="url(#ar)" stroke="none" stroke-width="1" />
<circle cx="146.88" cy="158.72" r="3.71" fill="url(#ar)" stroke="none" stroke-width="1" />
<circle cx="173.38" cy="166.31" r="3.79" fill="url(#ar)" stroke="none" stroke-width="1" />
<circle cx="211.56" cy="169.50" r="3.92" fill="url(#ar)" stroke="none" stroke-width="1" />
<circle cx="259.38" cy="161.06" r="4.08" fill="url(#ar)" stroke="none" stroke-width="1" />
<circle cx="300.44" cy="147.94" r="4.21" fill="url(#ar)" stroke="none" stroke-width="1" />
<circle cx="41.75" cy="136.00" r="3.74" fill="url(#ab)" stroke="none" stroke-width="1" />
<circle cx="63.25" cy="143.00" r="3.81" fill="url(#ab)" stroke="none" stroke-width="1" />
<circle cx="86.25" cy="148.62" r="3.89" fill="url(#ab)" stroke="none" stroke-width="1" />
<circle cx="110.12" cy="154.50" r="3.98" fill="url(#ab)" stroke="none" stroke-width="1" />
<circle cx="133.25" cy="160.88" r="4.06" fill="url(#ab)" stroke="none" stroke-width="1" />
<circle cx="158.25" cy="168.00" r="4.14" fill="url(#ab)" stroke="none" stroke-width="1" />
<circle cx="187.25" cy="177.25" r="4.24" fill="url(#ab)" stroke="none" stroke-width="1" />
<circle cx="235.00" cy="174.75" r="4.41" fill="url(#ab)" stroke="none" stroke-width="1" />
<circle cx="282.50" cy="159.50" r="4.57" fill="url(#ab)" stroke="none" stroke-width="1" />
<circle cx="317.25" cy="147.25" r="4.69" fill="url(#ab)" stroke="none" stroke-width="1" />
<circle cx="53.00" cy="143.50" r="3.78" fill="url(#ar)" stroke="none" stroke-width="1" />
<circle cx="74.38" cy="149.97" r="3.85" fill="url(#ar)" stroke="none" stroke-width="1" />
<circle cx="97.03" cy="156.09" r="3.92" fill="url(#ar)" stroke="none" stroke-width="1" />
<circle cx="120.28" cy="162.78" r="4.00" fill="url(#ar)" stroke="none" stroke-width="1" />
<circle cx="144.62" cy="170.16" r="4.08" fill="url(#ar)" stroke="none" stroke-width="1" />
<circle cx="172.12" cy="178.94" r="4.17" fill="url(#ar)" stroke="none" stroke-width="1" />
<circle cx="210.69" cy="182.50" r="4.30" fill="url(#ar)" stroke="none" stroke-width="1" />
<circle cx="258.12" cy="173.19" r="4.45" fill="url(#ar)" stroke="none" stroke-width="1" />
<circle cx="299.31" cy="158.81" r="4.59" fill="url(#ar)" stroke="none" stroke-width="1" />
<circle cx="43.50" cy="144.00" r="4.15" fill="url(#ab)" stroke="none" stroke-width="1" />
<circle cx="63.50" cy="151.00" r="4.22" fill="url(#ab)" stroke="none" stroke-width="1" />
<circle cx="84.50" cy="157.25" r="4.29" fill="url(#ab)" stroke="none" stroke-width="1" />
<circle cx="107.25" cy="164.00" r="4.37" fill="url(#ab)" stroke="none" stroke-width="1" />
<circle cx="130.50" cy="171.75" r="4.45" fill="url(#ab)" stroke="none" stroke-width="1" />
<circle cx="156.50" cy="180.00" r="4.54" fill="url(#ab)" stroke="none" stroke-width="1" />
<circle cx="186.50" cy="190.50" r="4.64" fill="url(#ab)" stroke="none" stroke-width="1" />
<circle cx="234.00" cy="187.50" r="4.80" fill="url(#ab)" stroke="none" stroke-width="1" />
<circle cx="281.00" cy="171.00" r="4.97" fill="url(#ab)" stroke="none" stroke-width="1" />
<circle cx="316.50" cy="157.50" r="5.09" fill="url(#ab)" stroke="none" stroke-width="1" />
<circle cx="54.00" cy="151.50" r="4.16" fill="url(#ar)" stroke="none" stroke-width="1" />
<circle cx="73.62" cy="158.28" r="4.23" fill="url(#ar)" stroke="none" stroke-width="1" />
<circle cx="94.72" cy="165.16" r="4.30" fill="url(#ar)" stroke="none" stroke-width="1" />
<circle cx="117.47" cy="172.97" r="4.37" fill="url(#ar)" stroke="none" stroke-width="1" />
<circle cx="142.38" cy="181.59" r="4.45" fill="url(#ar)" stroke="none" stroke-width="1" />
<circle cx="170.88" cy="191.56" r="4.55" fill="url(#ar)" stroke="none" stroke-width="1" />
<circle cx="209.81" cy="195.50" r="4.67" fill="url(#ar)" stroke="none" stroke-width="1" />
<circle cx="256.88" cy="185.31" r="4.83" fill="url(#ar)" stroke="none" stroke-width="1" />
<circle cx="298.19" cy="169.69" r="4.96" fill="url(#ar)" stroke="none" stroke-width="1" />
<circle cx="45.25" cy="152.00" r="4.55" fill="url(#ab)" stroke="none" stroke-width="1" />
<circle cx="63.75" cy="159.00" r="4.62" fill="url(#ab)" stroke="none" stroke-width="1" />
<circle cx="82.75" cy="165.88" r="4.68" fill="url(#ab)" stroke="none" stroke-width="1" />
<circle cx="104.38" cy="173.50" r="4.76" fill="url(#ab)" stroke="none" stroke-width="1" />
<circle cx="127.75" cy="182.62" r="4.84" fill="url(#ab)" stroke="none" stroke-width="1" />
<circle cx="154.75" cy="192.00" r="4.93" fill="url(#ab)" stroke="none" stroke-width="1" />
<circle cx="185.75" cy="203.75" r="5.04" fill="url(#ab)" stroke="none" stroke-width="1" />
<circle cx="233.00" cy="200.25" r="5.20" fill="url(#ab)" stroke="none" stroke-width="1" />
<circle cx="279.50" cy="182.50" r="5.36" fill="url(#ab)" stroke="none" stroke-width="1" />
<circle cx="315.75" cy="167.75" r="5.49" fill="url(#ab)" stroke="none" stroke-width="1" />
<circle cx="55.00" cy="159.50" r="4.55" fill="url(#ar)" stroke="none" stroke-width="1" />
<circle cx="72.88" cy="166.59" r="4.61" fill="url(#ar)" stroke="none" stroke-width="1" />
<circle cx="92.41" cy="174.22" r="4.67" fill="url(#ar)" stroke="none" stroke-width="1" />
<circle cx="114.66" cy="183.16" r="4.74" fill="url(#ar)" stroke="none" stroke-width="1" />
<circle cx="140.12" cy="193.03" r="4.83" fill="url(#ar)" stroke="none" stroke-width="1" />
<circle cx="169.62" cy="204.19" r="4.92" fill="url(#ar)" stroke="none" stroke-width="1" />
<circle cx="208.94" cy="208.50" r="5.05" fill="url(#ar)" stroke="none" stroke-width="1" />
<circle cx="255.62" cy="197.44" r="5.20" fill="url(#ar)" stroke="none" stroke-width="1" />
<circle cx="297.06" cy="180.56" r="5.34" fill="url(#ar)" stroke="none" stroke-width="1" />
<circle cx="47.00" cy="160.00" r="4.96" fill="url(#ab)" stroke="none" stroke-width="1" />
<circle cx="64.00" cy="167.00" r="5.02" fill="url(#ab)" stroke="none" stroke-width="1" />
<circle cx="81.00" cy="174.50" r="5.08" fill="url(#ab)" stroke="none" stroke-width="1" />
<circle cx="101.50" cy="183.00" r="5.15" fill="url(#ab)" stroke="none" stroke-width="1" />
<circle cx="125.00" cy="193.50" r="5.23" fill="url(#ab)" stroke="none" stroke-width="1" />
<circle cx="153.00" cy="204.00" r="5.32" fill="url(#ab)" stroke="none" stroke-width="1" />
<circle cx="185.00" cy="217.00" r="5.43" fill="url(#ab)" stroke="none" stroke-width="1" />
<circle cx="232.00" cy="213.00" r="5.60" fill="url(#ab)" stroke="none" stroke-width="1" />
<circle cx="278.00" cy="194.00" r="5.76" fill="url(#ab)" stroke="none" stroke-width="1" />
<circle cx="315.00" cy="178.00" r="5.88" fill="url(#ab)" stroke="none" stroke-width="1" />
<rect x="10.00" y="90.00" width="40.00" height="135.00" fill="url(#fadeL)" stroke="none" stroke-width="1" />
<rect x="20.00" y="88.00" width="110.00" height="18.00" fill="url(#fadeT)" stroke="none" stroke-width="1" />
<path d="M303.5,38.6 Q386.7,254.4 469.9,38.6" fill="none" stroke="#2a2a2a" stroke-width="2"/>
<path d="M311.3,38.6 Q386.7,216.8 462.1,38.6" fill="none" stroke="#2a2a2a" stroke-width="2"/>
<path d="M319.8,38.6 Q386.7,179.0 453.6,38.6" fill="none" stroke="#2a2a2a" stroke-width="2"/>
<path d="M329.7,38.6 Q386.7,141.4 443.7,38.6" fill="none" stroke="#2a2a2a" stroke-width="2"/>
<path d="M340.9,38.6 Q386.7,103.6 432.5,38.6" fill="none" stroke="#2a2a2a" stroke-width="2"/>
<line x1="383.90" y1="157.70" x2="383.90" y2="42.00" stroke="#111" stroke-width="2.2" />
<polygon points="383.90,32.60 378.60,45.00 389.20,45.00" fill="#111" stroke="none" stroke-width="1" />
<line x1="383.90" y1="157.70" x2="448.00" y2="157.70" stroke="#111" stroke-width="2.2" />
<polygon points="458.00,157.70 445.50,152.40 445.50,163.00" fill="#111" stroke="none" stroke-width="1" />
<text transform="translate(362.02,17.00) scale(1.271,1)" font-family="'Liberation Serif','Times New Roman',serif" font-size="30.64" font-style="italic" fill="#000" >ε</text>
<text transform="translate(441.18,192.80) scale(1.076,1)" font-family="'Liberation Sans',Arial,sans-serif" font-size="29.52" font-weight="bold" fill="#000" >k</text>
<text transform="translate(460.18,200.00) scale(1.177,1)" font-family="'Liberation Sans',Arial,sans-serif" font-size="18.21" font-style="italic" fill="#000" >//</text>
<linearGradient id="siF" x1="0" y1="0" x2="1" y2="0"><stop offset="0" stop-color="#6f737b"/><stop offset="1" stop-color="#878b95"/></linearGradient>
<linearGradient id="mlg" x1="0" y1="0" x2="0" y2="1"><stop offset="0" stop-color="#4a4a4a"/><stop offset="1" stop-color="#3a3a3a"/></linearGradient>
<linearGradient id="mlgR" x1="0" y1="0" x2="1" y2="0"><stop offset="0" stop-color="#3c3c3c"/><stop offset="0.55" stop-color="#454545"/><stop offset="0.8" stop-color="#777"/><stop offset="1" stop-color="#555"/></linearGradient>
<linearGradient id="mlgL" x1="0" y1="0" x2="1" y2="0.4"><stop offset="0" stop-color="#4a4a4a"/><stop offset="0.6" stop-color="#505050"/><stop offset="0.75" stop-color="#6a6a6a"/><stop offset="1" stop-color="#4a4a4a"/></linearGradient>
<linearGradient id="auF" x1="0" y1="0" x2="0" y2="1"><stop offset="0" stop-color="#cdb920"/><stop offset="1" stop-color="#c2ae1c"/></linearGradient>
<polygon points="66.30,324.70 381.40,399.90 415.80,327.90 68.30,295.50" fill="#7c7c7c" stroke="none" stroke-width="1" />
<polygon points="66.26,324.74 381.39,399.87 381.39,412.81 68.35,337.68" fill="#303030" stroke="none" stroke-width="1" />
<polygon points="68.35,337.68 381.39,412.81 381.39,440.56 71.48,361.26" fill="url(#siF)" stroke="none" stroke-width="1" />
<polygon points="381.39,399.87 415.82,327.87 415.82,341.02 381.39,412.81" fill="#383838" stroke="none" stroke-width="1" />
<polygon points="381.39,412.81 415.82,341.02 414.78,365.43 381.39,440.56" fill="#6a6e76" stroke="none" stroke-width="1" />
<polygon points="378.88,397.36 381.39,399.87 415.82,327.87 414.15,326.83" fill="#9a9a9a" stroke="none" stroke-width="1" />
<polygon points="128.87,333.09 139.30,326.41 291.65,317.43 305.22,331.42 276.00,366.06 128.87,336.84" fill="#30dc30" stroke="none" stroke-width="1" />
<polygon points="128.87,335.17 276.00,366.06 305.22,331.42 305.22,334.13 277.04,368.56 128.87,338.30" fill="#1fae1f" stroke="none" stroke-width="1" />
<polygon points="239.48,256.91 320.45,267.97 320.45,276.74 239.48,264.22" fill="#e41c1c" stroke="none" stroke-width="1" />
<polygon points="283.00,300.00 337.60,293.90 348.00,318.00 330.00,340.00 300.00,340.00 285.00,330.00" fill="#3a3a3a" stroke="none" stroke-width="1" />
<polygon points="189.40,282.60 224.90,259.00 319.80,270.10 337.60,293.90 311.50,327.90 300.00,323.70 287.50,304.90 183.10,294.50" fill="url(#mlgR)" stroke="none" stroke-width="1" />
<polygon points="189.40,282.60 287.50,304.90 288.50,311.00 183.10,294.50" fill="#262626" stroke="none" stroke-width="1" />
<polygon points="167.50,304.90 183.10,294.50 287.50,310.10 263.50,322.70" fill="#ff4b4b" stroke="none" stroke-width="1" />
<polygon points="167.50,304.90 263.50,322.70 260.30,349.40 168.50,327.90" fill="#e42020" stroke="none" stroke-width="1" />
<polygon points="263.50,322.70 287.50,310.10 288.50,326.80 260.30,349.40" fill="#c01818" stroke="none" stroke-width="1" />
<polygon points="137.30,253.90 154.30,250.10 177.80,256.70 188.20,282.10 187.30,287.80 166.50,265.20 154.30,258.60" fill="#f2e31c" stroke="none" stroke-width="1" />
<path d="M148.6,238.8 Q155,246 159.9,256.7" stroke="#e0d040" stroke-width="2" fill="none"/>
<polygon points="77.90,281.20 132.60,255.30 154.30,258.60 166.50,265.20 187.30,287.80 183.10,294.50 168.40,303.00 168.40,323.60 135.40,319.80 126.00,301.00 107.10,289.70 77.90,283.50" fill="url(#mlgL)" stroke="none" stroke-width="1" />
<polyline points="77.90,283.20 107.10,290.50 126.00,302.00 135.40,320.50 168.40,324.50" fill="none" stroke="#181818" stroke-width="2.2" />
<polygon points="66.50,289.00 74.10,286.50 104.30,290.60 121.30,299.10 133.50,320.80 117.50,332.10 100.50,299.10 68.50,295.30" fill="#f4e520" stroke="none" stroke-width="1" />
<polygon points="68.50,295.30 100.50,299.10 117.50,332.10 67.50,325.50" fill="#9e8612" stroke="none" stroke-width="1" />
<polygon points="329.00,296.73 342.37,287.82 351.28,281.69 360.19,280.25 408.08,286.71 403.62,301.74 398.05,308.42 389.14,326.24 357.96,322.34 332.34,332.37 322.32,325.69" fill="#424242" stroke="none" stroke-width="1" />
<polygon points="360.19,308.42 398.05,308.42 389.14,326.24 357.96,322.34" fill="#4e4e4e" stroke="none" stroke-width="1" />
<polygon points="372.44,278.35 418.10,283.92 418.66,291.16 413.65,330.70 386.92,345.73 390.26,326.24 398.05,308.42 403.62,301.74 408.08,286.71 375.78,283.14" fill="#f2e31e" stroke="none" stroke-width="1" />
<polygon points="327.89,320.67 389.14,326.24 386.92,345.73 327.89,338.49" fill="#f0e020" stroke="none" stroke-width="1" />
<polygon points="286.68,368.01 326.78,320.67 329.56,320.34 327.89,338.49 289.47,369.68" fill="#f4e626" stroke="none" stroke-width="1" />
<polygon points="386.92,345.73 413.65,330.70 412.53,337.94 380.79,392.51 379.68,392.51" fill="#e2d11e" stroke="none" stroke-width="1" />
<polygon points="289.47,369.68 327.89,338.49 386.92,345.73 379.68,392.51" fill="url(#auF)" stroke="none" stroke-width="1" />
<path d="M345.2,331.8 Q352,310 378,306.8 Q400,304 420,305.5 Q440,307 462.6,313.8" stroke="#d2c12a" stroke-width="3" fill="none" stroke-linecap="round"/>
<text transform="translate(113.89,282.00) scale(0.979,1)" font-family="'Liberation Sans',Arial,sans-serif" font-size="18.00" fill="#f2f2f2" >MLG</text>
<text transform="translate(348.59,299.70) scale(1.075,1)" font-family="'Liberation Sans',Arial,sans-serif" font-size="16.43" fill="#f2f2f2" >MLG</text>
<text transform="translate(79.80,320.60) scale(0.991,1)" font-family="'Liberation Sans',Arial,sans-serif" font-size="18.26" fill="#f4efd0" >Au</text>
<text transform="translate(337.60,366.50) scale(1.132,1)" font-family="'Liberation Sans',Arial,sans-serif" font-size="15.22" fill="#f4efd0" >Au</text>
<g transform="translate(195.70,327.50) rotate(8.00)"><text transform="translate(-1.64,0.00) scale(0.982,1)" font-family="'Liberation Sans',Arial,sans-serif" font-size="18.57" fill="#fff0f0" >InSe</text></g>
<g transform="translate(145.60,341.50) rotate(8.00)"><text transform="translate(-1.24,0.00) scale(1.019,1)" font-family="'Liberation Sans',Arial,sans-serif" font-size="17.38" font-weight="bold" fill="#d8ffd8" >hBN</text></g>
<g transform="translate(254.00,380.00) rotate(11.70)"><text transform="translate(-0.64,0.00) scale(0.927,1)" font-family="'Liberation Sans',Arial,sans-serif" font-size="17.24" fill="#f4f4f4" >300 nm SiO</text></g>
<g transform="translate(336.50,399.50) rotate(11.70)"><text transform="translate(-0.66,0.00) scale(1.154,1)" font-family="'Liberation Sans',Arial,sans-serif" font-size="11.43" fill="#f4f4f4" >2</text></g>
<g transform="translate(255.00,405.00) rotate(11.00)"><text transform="translate(0.39,0.00) scale(0.927,1)" font-family="'Liberation Sans',Arial,sans-serif" font-size="16.67" font-style="italic" fill="#e8e8e8" >p</text></g>
<g transform="translate(264.00,406.80) rotate(11.00)"><text transform="translate(-0.80,0.00) scale(1.029,1)" font-family="'Liberation Sans',Arial,sans-serif" font-size="17.24" fill="#e8e8e8" >-doped Si</text></g>
<circle cx="69.00" cy="294.00" r="4.60" fill="#111" stroke="none" stroke-width="1" />
<polyline points="69.00,294.00 24.60,294.00 24.60,320.70" fill="none" stroke="#111" stroke-width="2.2" />
<line x1="13.80" y1="320.70" x2="37.50" y2="320.70" stroke="#111" stroke-width="2.8" />
<line x1="16.80" y1="326.60" x2="34.50" y2="326.60" stroke="#111" stroke-width="2.8" />
<line x1="21.70" y1="333.00" x2="29.60" y2="333.00" stroke="#111" stroke-width="2.8" />
<circle cx="383.80" cy="336.50" r="4.60" fill="#111" stroke="none" stroke-width="1" />
<line x1="383.80" y1="336.50" x2="424.20" y2="336.50" stroke="#111" stroke-width="2.2" />
<line x1="424.20" y1="324.60" x2="424.20" y2="348.30" stroke="#3a7ac8" stroke-width="2.6" />
<line x1="431.10" y1="331.50" x2="431.10" y2="344.40" stroke="#3a7ac8" stroke-width="4.5" />
<polyline points="431.10,336.50 454.80,336.50 454.80,360.10" fill="none" stroke="#111" stroke-width="2.2" />
<line x1="444.00" y1="360.10" x2="467.60" y2="360.10" stroke="#111" stroke-width="2.8" />
<line x1="448.00" y1="367.00" x2="464.00" y2="367.00" stroke="#111" stroke-width="2.8" />
<line x1="452.00" y1="374.00" x2="460.00" y2="374.00" stroke="#111" stroke-width="2.8" />
<circle cx="385.80" cy="415.30" r="4.60" fill="#111" stroke="none" stroke-width="1" />
<line x1="385.80" y1="415.30" x2="427.20" y2="415.30" stroke="#111" stroke-width="2.2" />
<line x1="427.20" y1="403.50" x2="427.20" y2="427.20" stroke="#b3161a" stroke-width="2.6" />
<line x1="436.00" y1="408.50" x2="436.00" y2="422.00" stroke="#b3161a" stroke-width="4.5" />
<polyline points="436.00,415.30 458.70,415.30 458.70,440.00" fill="none" stroke="#111" stroke-width="2.2" />
<line x1="447.90" y1="440.00" x2="471.50" y2="440.00" stroke="#111" stroke-width="2.8" />
<line x1="452.00" y1="447.00" x2="467.40" y2="447.00" stroke="#111" stroke-width="2.8" />
<line x1="456.00" y1="454.00" x2="463.40" y2="454.00" stroke="#111" stroke-width="2.8" />
<text transform="translate(414.84,366.00) scale(0.929,1)" font-family="'Liberation Sans',Arial,sans-serif" font-size="18.55" font-weight="bold" font-style="italic" fill="#3a7ac8" >V</text>
<text transform="translate(427.19,370.00) scale(0.898,1)" font-family="'Liberation Sans',Arial,sans-serif" font-size="11.43" font-weight="bold" fill="#3a7ac8" >SD</text>
<text transform="translate(422.72,446.00)" font-family="'Liberation Sans',Arial,sans-serif" font-size="17.39" font-weight="bold" font-style="italic" fill="#b3161a" >V</text>
<text transform="translate(435.02,449.50) scale(0.855,1)" font-family="'Liberation Sans',Arial,sans-serif" font-size="13.89" font-weight="bold" fill="#b3161a" >g</text>
</svg>
</body></html>
